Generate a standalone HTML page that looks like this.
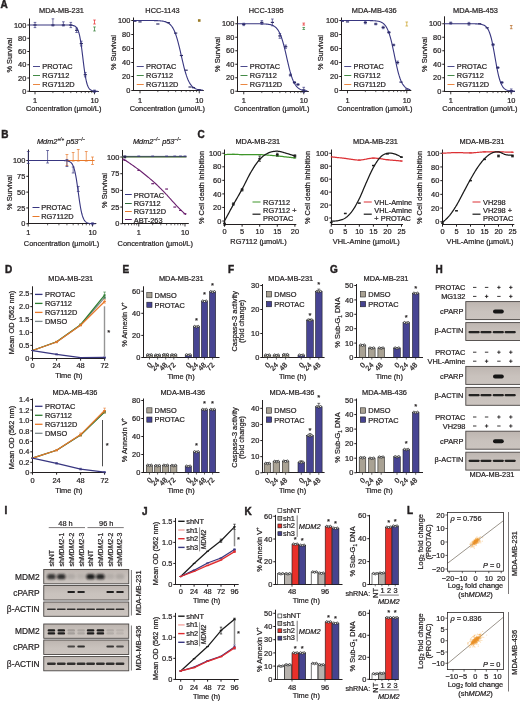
<!DOCTYPE html>
<html lang="en">
<head>
<meta charset="utf-8">
<title>Figure: MDM2 PROTAC in TNBC cells</title>
<style>
html,body{margin:0;padding:0;background:#fff;}
body{width:520px;height:701px;overflow:hidden;}
svg{display:block;font-family:"Liberation Sans",Arial,Helvetica,sans-serif;fill:#231f20;}
svg text{stroke:#231f20;stroke-width:0.22px;}
</style>
</head>
<body>
<svg width="520" height="701" viewBox="0 0 520 701">
<defs>
<linearGradient id="bg" x1="0" y1="0" x2="0" y2="1"><stop offset="0" stop-color="#bdb5b0"/><stop offset="0.55" stop-color="#c9c2bd"/><stop offset="1" stop-color="#cbc4bf"/></linearGradient>
<filter id="bl" x="-20%" y="-60%" width="140%" height="220%"><feGaussianBlur stdDeviation="0.45"/></filter>
<filter id="bl2" x="-20%" y="-60%" width="140%" height="220%"><feGaussianBlur stdDeviation="0.8"/></filter>
</defs>
<rect width="520" height="701" fill="#ffffff"/>
<g id="panelA">
<text x="0.6" y="7.8" font-size="10" font-weight="bold" style="stroke-width:0.45px">A</text>
<text x="61.5" y="12.6" font-size="7.4" text-anchor="middle">MDA-MB-231</text>
<line x1="29.5" y1="18.5" x2="29.5" y2="92" stroke="#231f20" stroke-width="1"/>
<line x1="27.3" y1="91.25" x2="29.5" y2="91.25" stroke="#231f20" stroke-width="1"/>
<text x="26.3" y="93.91" font-size="7.4" text-anchor="end">0</text>
<line x1="27.3" y1="78" x2="29.5" y2="78" stroke="#231f20" stroke-width="1"/>
<text x="26.3" y="80.66" font-size="7.4" text-anchor="end">20</text>
<line x1="27.3" y1="64.75" x2="29.5" y2="64.75" stroke="#231f20" stroke-width="1"/>
<text x="26.3" y="67.41" font-size="7.4" text-anchor="end">40</text>
<line x1="27.3" y1="51.5" x2="29.5" y2="51.5" stroke="#231f20" stroke-width="1"/>
<text x="26.3" y="54.16" font-size="7.4" text-anchor="end">60</text>
<line x1="27.3" y1="38.25" x2="29.5" y2="38.25" stroke="#231f20" stroke-width="1"/>
<text x="26.3" y="40.91" font-size="7.4" text-anchor="end">80</text>
<line x1="27.3" y1="25" x2="29.5" y2="25" stroke="#231f20" stroke-width="1"/>
<text x="26.3" y="27.66" font-size="7.4" text-anchor="end">100</text>
<line x1="29" y1="91.5" x2="98.8" y2="91.5" stroke="#231f20" stroke-width="1"/>
<line x1="52.91" y1="91.5" x2="52.91" y2="93.1" stroke="#231f20" stroke-width="0.7"/>
<line x1="63.39" y1="91.5" x2="63.39" y2="93.1" stroke="#231f20" stroke-width="0.7"/>
<line x1="70.82" y1="91.5" x2="70.82" y2="93.1" stroke="#231f20" stroke-width="0.7"/>
<line x1="76.59" y1="91.5" x2="76.59" y2="93.1" stroke="#231f20" stroke-width="0.7"/>
<line x1="81.3" y1="91.5" x2="81.3" y2="93.1" stroke="#231f20" stroke-width="0.7"/>
<line x1="85.28" y1="91.5" x2="85.28" y2="93.1" stroke="#231f20" stroke-width="0.7"/>
<line x1="88.73" y1="91.5" x2="88.73" y2="93.1" stroke="#231f20" stroke-width="0.7"/>
<line x1="91.78" y1="91.5" x2="91.78" y2="93.1" stroke="#231f20" stroke-width="0.7"/>
<line x1="35" y1="91.5" x2="35" y2="94.3" stroke="#231f20" stroke-width="0.9"/>
<text x="35" y="102.6" font-size="7.4" text-anchor="middle">1</text>
<line x1="94.5" y1="91.5" x2="94.5" y2="94.3" stroke="#231f20" stroke-width="0.9"/>
<text x="94.5" y="102.6" font-size="7.4" text-anchor="middle">10</text>
<text x="63.7" y="110.6" font-size="7.4" text-anchor="middle">Concentration (µmol/L)</text>
<text x="11.6" y="55.12" font-size="7.4" text-anchor="middle" transform="rotate(-90 11.6 55.12)">% Survival</text>
<polyline points="30,25 30.75,25 31.5,25 32.26,25 33.01,25 33.76,25 34.51,25 35.26,25 36.01,25 36.77,25 37.52,25 38.27,25 39.02,25 39.77,25 40.52,25 41.28,25 42.03,25 42.78,25 43.53,25 44.28,25 45.04,25 45.79,25 46.54,25 47.29,25 48.04,25 48.79,25 49.55,25 50.3,25 51.05,25 51.8,25 52.55,25 53.3,25 54.06,25 54.81,25 55.56,25 56.31,25 57.06,25 57.82,25 58.57,25 59.32,25 60.07,25 60.82,25 61.57,25 62.33,25 63.08,25 63.83,25 64.58,25.01 65.33,25.01 66.08,25.01 66.84,25.02 67.59,25.03 68.34,25.04 69.09,25.06 69.84,25.09 70.59,25.14 71.35,25.2 72.1,25.29 72.85,25.42 73.6,25.61 74.35,25.89 75.11,26.3 75.86,26.87 76.61,27.7 77.36,28.87 78.11,30.5 78.86,32.73 79.62,35.71 80.37,39.56 81.12,44.3 81.87,49.84 82.62,55.93 83.37,62.17 84.13,68.13 84.88,73.46 85.63,77.93 86.38,81.51 87.13,84.25 87.89,86.29 88.64,87.77 89.39,88.83 90.14,89.57 90.89,90.09 91.64,90.45 92.4,90.7 93.15,90.87 93.9,90.99 94.65,91.07 95.4,91.13 96.15,91.17 96.91,91.19 97.66,91.21" fill="none" stroke="#383680" stroke-width="1.1" stroke-linejoin="round" stroke-linecap="round"/>
<line x1="35" y1="22.4" x2="35" y2="27.6" stroke="#383680" stroke-width="0.7"/>
<line x1="33.7" y1="22.4" x2="36.3" y2="22.4" stroke="#383680" stroke-width="0.7"/>
<line x1="33.7" y1="27.6" x2="36.3" y2="27.6" stroke="#383680" stroke-width="0.7"/>
<line x1="33.4" y1="25" x2="36.6" y2="25" stroke="#2c2a66" stroke-width="1.2"/>
<line x1="52.91" y1="18.8" x2="52.91" y2="26" stroke="#383680" stroke-width="0.7"/>
<line x1="51.61" y1="18.8" x2="54.21" y2="18.8" stroke="#383680" stroke-width="0.7"/>
<line x1="51.61" y1="26" x2="54.21" y2="26" stroke="#383680" stroke-width="0.7"/>
<line x1="51.31" y1="25" x2="54.51" y2="25" stroke="#2c2a66" stroke-width="1.2"/>
<line x1="63.39" y1="21.8" x2="63.39" y2="26" stroke="#383680" stroke-width="0.7"/>
<line x1="62.09" y1="21.8" x2="64.69" y2="21.8" stroke="#383680" stroke-width="0.7"/>
<line x1="62.09" y1="26" x2="64.69" y2="26" stroke="#383680" stroke-width="0.7"/>
<line x1="61.79" y1="25" x2="64.99" y2="25" stroke="#2c2a66" stroke-width="1.2"/>
<line x1="70.82" y1="22.4" x2="70.82" y2="27.6" stroke="#383680" stroke-width="0.7"/>
<line x1="69.52" y1="22.4" x2="72.12" y2="22.4" stroke="#383680" stroke-width="0.7"/>
<line x1="69.52" y1="27.6" x2="72.12" y2="27.6" stroke="#383680" stroke-width="0.7"/>
<line x1="69.22" y1="25" x2="72.42" y2="25" stroke="#2c2a66" stroke-width="1.2"/>
<line x1="76.59" y1="28.1" x2="76.59" y2="32.5" stroke="#383680" stroke-width="0.7"/>
<line x1="75.29" y1="28.1" x2="77.89" y2="28.1" stroke="#383680" stroke-width="0.7"/>
<line x1="75.29" y1="32.5" x2="77.89" y2="32.5" stroke="#383680" stroke-width="0.7"/>
<line x1="74.99" y1="30.3" x2="78.19" y2="30.3" stroke="#2c2a66" stroke-width="1.2"/>
<line x1="81.3" y1="41.15" x2="81.3" y2="45.95" stroke="#383680" stroke-width="0.7"/>
<line x1="80" y1="41.15" x2="82.6" y2="41.15" stroke="#383680" stroke-width="0.7"/>
<line x1="80" y1="45.95" x2="82.6" y2="45.95" stroke="#383680" stroke-width="0.7"/>
<line x1="79.7" y1="43.55" x2="82.9" y2="43.55" stroke="#2c2a66" stroke-width="1.2"/>
<line x1="85.28" y1="72.49" x2="85.28" y2="76.89" stroke="#383680" stroke-width="0.7"/>
<line x1="83.98" y1="72.49" x2="86.58" y2="72.49" stroke="#383680" stroke-width="0.7"/>
<line x1="83.98" y1="76.89" x2="86.58" y2="76.89" stroke="#383680" stroke-width="0.7"/>
<line x1="83.68" y1="74.69" x2="86.88" y2="74.69" stroke="#2c2a66" stroke-width="1.2"/>
<line x1="94.5" y1="90.05" x2="94.5" y2="92.45" stroke="#383680" stroke-width="0.7"/>
<line x1="93.2" y1="90.05" x2="95.8" y2="90.05" stroke="#383680" stroke-width="0.7"/>
<line x1="93.2" y1="92.45" x2="95.8" y2="92.45" stroke="#383680" stroke-width="0.7"/>
<line x1="92.9" y1="91.25" x2="96.1" y2="91.25" stroke="#2c2a66" stroke-width="1.2"/>
<line x1="94.5" y1="20.02" x2="94.5" y2="24.02" stroke="#e8262a" stroke-width="0.7"/>
<line x1="93.2" y1="20.02" x2="95.8" y2="20.02" stroke="#e8262a" stroke-width="0.7"/>
<line x1="93.2" y1="24.02" x2="95.8" y2="24.02" stroke="#e8262a" stroke-width="0.7"/>
<line x1="94.5" y1="26.98" x2="94.5" y2="30.98" stroke="#2e7d32" stroke-width="0.7"/>
<line x1="93.2" y1="26.98" x2="95.8" y2="26.98" stroke="#2e7d32" stroke-width="0.7"/>
<line x1="93.2" y1="30.98" x2="95.8" y2="30.98" stroke="#2e7d32" stroke-width="0.7"/>
<line x1="33" y1="66.5" x2="40" y2="66.5" stroke="#383680" stroke-width="0.9"/>
<text x="42.3" y="69.2" font-size="7.4">PROTAC</text>
<line x1="33" y1="75.5" x2="40" y2="75.5" stroke="#2e7d32" stroke-width="0.9"/>
<text x="42.3" y="78.25" font-size="7.4">RG7112</text>
<line x1="33" y1="84.5" x2="40" y2="84.5" stroke="#e8792b" stroke-width="0.9"/>
<text x="42.3" y="87.3" font-size="7.4">RG7112D</text>
<text x="162.5" y="12.6" font-size="7.4" text-anchor="middle">HCC-1143</text>
<line x1="133.5" y1="17.5" x2="133.5" y2="91" stroke="#231f20" stroke-width="1"/>
<line x1="131.3" y1="90.5" x2="133.5" y2="90.5" stroke="#231f20" stroke-width="1"/>
<text x="130.3" y="93.16" font-size="7.4" text-anchor="end">0</text>
<line x1="131.3" y1="76.5" x2="133.5" y2="76.5" stroke="#231f20" stroke-width="1"/>
<text x="130.3" y="79.16" font-size="7.4" text-anchor="end">20</text>
<line x1="131.3" y1="62.5" x2="133.5" y2="62.5" stroke="#231f20" stroke-width="1"/>
<text x="130.3" y="65.16" font-size="7.4" text-anchor="end">40</text>
<line x1="131.3" y1="48.5" x2="133.5" y2="48.5" stroke="#231f20" stroke-width="1"/>
<text x="130.3" y="51.16" font-size="7.4" text-anchor="end">60</text>
<line x1="131.3" y1="34.5" x2="133.5" y2="34.5" stroke="#231f20" stroke-width="1"/>
<text x="130.3" y="37.16" font-size="7.4" text-anchor="end">80</text>
<line x1="131.3" y1="20.5" x2="133.5" y2="20.5" stroke="#231f20" stroke-width="1"/>
<text x="130.3" y="23.16" font-size="7.4" text-anchor="end">100</text>
<line x1="133" y1="90.5" x2="203.8" y2="90.5" stroke="#231f20" stroke-width="1"/>
<line x1="157.84" y1="90.5" x2="157.84" y2="92.1" stroke="#231f20" stroke-width="0.7"/>
<line x1="168.27" y1="90.5" x2="168.27" y2="92.1" stroke="#231f20" stroke-width="0.7"/>
<line x1="175.67" y1="90.5" x2="175.67" y2="92.1" stroke="#231f20" stroke-width="0.7"/>
<line x1="181.41" y1="90.5" x2="181.41" y2="92.1" stroke="#231f20" stroke-width="0.7"/>
<line x1="186.11" y1="90.5" x2="186.11" y2="92.1" stroke="#231f20" stroke-width="0.7"/>
<line x1="190.07" y1="90.5" x2="190.07" y2="92.1" stroke="#231f20" stroke-width="0.7"/>
<line x1="193.51" y1="90.5" x2="193.51" y2="92.1" stroke="#231f20" stroke-width="0.7"/>
<line x1="196.54" y1="90.5" x2="196.54" y2="92.1" stroke="#231f20" stroke-width="0.7"/>
<line x1="140" y1="90.5" x2="140" y2="93.3" stroke="#231f20" stroke-width="0.9"/>
<text x="140" y="102.6" font-size="7.4" text-anchor="middle">1</text>
<line x1="199.25" y1="90.5" x2="199.25" y2="93.3" stroke="#231f20" stroke-width="0.9"/>
<text x="199.25" y="102.6" font-size="7.4" text-anchor="middle">10</text>
<text x="167.3" y="110.6" font-size="7.4" text-anchor="middle">Concentration (µmol/L)</text>
<text x="115.9" y="52.5" font-size="7.4" text-anchor="middle" transform="rotate(-90 115.9 52.5)">% Survival</text>
<polyline points="133.75,20.5 134.51,20.5 135.28,20.5 136.04,20.5 136.8,20.5 137.56,20.5 138.33,20.5 139.09,20.5 139.85,20.5 140.61,20.5 141.38,20.5 142.14,20.5 142.9,20.5 143.67,20.51 144.43,20.51 145.19,20.51 145.95,20.51 146.72,20.51 147.48,20.51 148.24,20.52 149,20.52 149.77,20.52 150.53,20.53 151.29,20.54 152.06,20.54 152.82,20.55 153.58,20.56 154.34,20.58 155.11,20.59 155.87,20.61 156.63,20.64 157.39,20.67 158.16,20.7 158.92,20.75 159.68,20.8 160.45,20.86 161.21,20.94 161.97,21.03 162.73,21.14 163.5,21.28 164.26,21.44 165.02,21.64 165.78,21.88 166.55,22.16 167.31,22.51 168.07,22.92 168.84,23.41 169.6,24 170.36,24.69 171.12,25.52 171.89,26.5 172.65,27.64 173.41,28.97 174.17,30.52 174.94,32.29 175.7,34.3 176.46,36.56 177.23,39.07 177.99,41.81 178.75,44.77 179.51,47.91 180.28,51.18 181.04,54.53 181.8,57.89 182.56,61.22 183.33,64.44 184.09,67.51 184.85,70.38 185.62,73.02 186.38,75.43 187.14,77.58 187.9,79.49 188.67,81.16 189.43,82.61 190.19,83.86 190.95,84.93 191.72,85.84 192.48,86.62 193.24,87.26 194,87.81 194.77,88.27 195.53,88.65 196.29,88.96 197.06,89.23 197.82,89.45 198.58,89.63 199.34,89.78 200.11,89.91 200.87,90.01 201.63,90.09 202.39,90.17" fill="none" stroke="#383680" stroke-width="1.1" stroke-linejoin="round" stroke-linecap="round"/>
<line x1="133.29" y1="21.2" x2="136.49" y2="21.2" stroke="#2c2a66" stroke-width="1.2"/>
<line x1="138.4" y1="21.9" x2="141.6" y2="21.9" stroke="#2c2a66" stroke-width="1.2"/>
<line x1="156.24" y1="24" x2="159.44" y2="24" stroke="#2c2a66" stroke-width="1.2"/>
<line x1="166.67" y1="22.6" x2="169.87" y2="22.6" stroke="#2c2a66" stroke-width="1.2"/>
<line x1="174.07" y1="33.1" x2="177.27" y2="33.1" stroke="#2c2a66" stroke-width="1.2"/>
<line x1="179.81" y1="55.5" x2="183.01" y2="55.5" stroke="#2c2a66" stroke-width="1.2"/>
<line x1="184.51" y1="70.2" x2="187.71" y2="70.2" stroke="#2c2a66" stroke-width="1.2"/>
<line x1="188.47" y1="87" x2="191.67" y2="87" stroke="#2c2a66" stroke-width="1.2"/>
<line x1="191.91" y1="87.7" x2="195.11" y2="87.7" stroke="#2c2a66" stroke-width="1.2"/>
<line x1="197.65" y1="89.8" x2="200.85" y2="89.8" stroke="#2c2a66" stroke-width="1.2"/>
<rect x="197.95" y="19.2" width="2.6" height="2.6" fill="#9a7a25"/>
<line x1="136.75" y1="66.5" x2="143.75" y2="66.5" stroke="#383680" stroke-width="0.9"/>
<text x="146.05" y="69.2" font-size="7.4">PROTAC</text>
<line x1="136.75" y1="75.5" x2="143.75" y2="75.5" stroke="#2e7d32" stroke-width="0.9"/>
<text x="146.05" y="78.25" font-size="7.4">RG7112</text>
<line x1="136.75" y1="84.5" x2="143.75" y2="84.5" stroke="#e8792b" stroke-width="0.9"/>
<text x="146.05" y="87.3" font-size="7.4">RG7112D</text>
<text x="266.25" y="12.6" font-size="7.4" text-anchor="middle">HCC-1395</text>
<line x1="237.5" y1="16.3" x2="237.5" y2="92" stroke="#231f20" stroke-width="1"/>
<line x1="235.3" y1="91.25" x2="237.5" y2="91.25" stroke="#231f20" stroke-width="1"/>
<text x="234.3" y="93.91" font-size="7.4" text-anchor="end">0</text>
<line x1="235.3" y1="77.75" x2="237.5" y2="77.75" stroke="#231f20" stroke-width="1"/>
<text x="234.3" y="80.41" font-size="7.4" text-anchor="end">20</text>
<line x1="235.3" y1="64.25" x2="237.5" y2="64.25" stroke="#231f20" stroke-width="1"/>
<text x="234.3" y="66.91" font-size="7.4" text-anchor="end">40</text>
<line x1="235.3" y1="50.75" x2="237.5" y2="50.75" stroke="#231f20" stroke-width="1"/>
<text x="234.3" y="53.41" font-size="7.4" text-anchor="end">60</text>
<line x1="235.3" y1="37.25" x2="237.5" y2="37.25" stroke="#231f20" stroke-width="1"/>
<text x="234.3" y="39.91" font-size="7.4" text-anchor="end">80</text>
<line x1="235.3" y1="23.75" x2="237.5" y2="23.75" stroke="#231f20" stroke-width="1"/>
<text x="234.3" y="26.41" font-size="7.4" text-anchor="end">100</text>
<line x1="237" y1="91.5" x2="308.8" y2="91.5" stroke="#231f20" stroke-width="1"/>
<line x1="261.81" y1="91.5" x2="261.81" y2="93.1" stroke="#231f20" stroke-width="0.7"/>
<line x1="272.38" y1="91.5" x2="272.38" y2="93.1" stroke="#231f20" stroke-width="0.7"/>
<line x1="279.87" y1="91.5" x2="279.87" y2="93.1" stroke="#231f20" stroke-width="0.7"/>
<line x1="285.69" y1="91.5" x2="285.69" y2="93.1" stroke="#231f20" stroke-width="0.7"/>
<line x1="290.44" y1="91.5" x2="290.44" y2="93.1" stroke="#231f20" stroke-width="0.7"/>
<line x1="294.46" y1="91.5" x2="294.46" y2="93.1" stroke="#231f20" stroke-width="0.7"/>
<line x1="297.94" y1="91.5" x2="297.94" y2="93.1" stroke="#231f20" stroke-width="0.7"/>
<line x1="301" y1="91.5" x2="301" y2="93.1" stroke="#231f20" stroke-width="0.7"/>
<line x1="243.75" y1="91.5" x2="243.75" y2="94.3" stroke="#231f20" stroke-width="0.9"/>
<text x="243.75" y="102.6" font-size="7.4" text-anchor="middle">1</text>
<line x1="303.75" y1="91.5" x2="303.75" y2="94.3" stroke="#231f20" stroke-width="0.9"/>
<text x="303.75" y="102.6" font-size="7.4" text-anchor="middle">10</text>
<text x="271.8" y="110.6" font-size="7.4" text-anchor="middle">Concentration (µmol/L)</text>
<text x="220" y="54.5" font-size="7.4" text-anchor="middle" transform="rotate(-90 220 54.5)">% Survival</text>
<polyline points="238,23.75 238.77,23.75 239.53,23.75 240.3,23.75 241.06,23.75 241.83,23.75 242.6,23.75 243.36,23.75 244.13,23.75 244.89,23.75 245.66,23.75 246.43,23.75 247.19,23.75 247.96,23.75 248.72,23.75 249.49,23.75 250.26,23.75 251.02,23.76 251.79,23.76 252.55,23.76 253.32,23.76 254.08,23.76 254.85,23.77 255.62,23.77 256.38,23.77 257.15,23.78 257.91,23.79 258.68,23.79 259.45,23.8 260.21,23.82 260.98,23.83 261.74,23.85 262.51,23.87 263.28,23.9 264.04,23.93 264.81,23.97 265.57,24.02 266.34,24.08 267.11,24.15 267.87,24.24 268.64,24.35 269.4,24.48 270.17,24.64 270.94,24.83 271.7,25.07 272.47,25.35 273.23,25.7 274,26.11 274.77,26.61 275.53,27.21 276.3,27.93 277.06,28.79 277.83,29.8 278.59,31 279.36,32.4 280.13,34.02 280.89,35.88 281.66,38 282.42,40.38 283.19,43.01 283.96,45.87 284.72,48.94 285.49,52.16 286.25,55.49 287.02,58.86 287.79,62.21 288.55,65.46 289.32,68.56 290.08,71.47 290.85,74.14 291.62,76.57 292.38,78.73 293.15,80.65 293.91,82.31 294.68,83.75 295.45,84.98 296.21,86.03 296.98,86.92 297.74,87.66 298.51,88.28 299.28,88.8 300.04,89.23 300.81,89.59 301.57,89.88 302.34,90.13 303.11,90.33 303.87,90.49 304.64,90.63 305.4,90.74 306.17,90.83 306.93,90.91" fill="none" stroke="#383680" stroke-width="1.1" stroke-linejoin="round" stroke-linecap="round"/>
<line x1="243.75" y1="23.22" x2="243.75" y2="25.62" stroke="#383680" stroke-width="0.7"/>
<line x1="242.45" y1="23.22" x2="245.05" y2="23.22" stroke="#383680" stroke-width="0.7"/>
<line x1="242.45" y1="25.62" x2="245.05" y2="25.62" stroke="#383680" stroke-width="0.7"/>
<line x1="242.15" y1="24.42" x2="245.35" y2="24.42" stroke="#2c2a66" stroke-width="1.2"/>
<line x1="261.81" y1="20.6" x2="261.81" y2="24.2" stroke="#383680" stroke-width="0.7"/>
<line x1="260.51" y1="20.6" x2="263.11" y2="20.6" stroke="#383680" stroke-width="0.7"/>
<line x1="260.51" y1="24.2" x2="263.11" y2="24.2" stroke="#383680" stroke-width="0.7"/>
<line x1="260.21" y1="22.4" x2="263.41" y2="22.4" stroke="#2c2a66" stroke-width="1.2"/>
<line x1="272.38" y1="19" x2="272.38" y2="25.8" stroke="#383680" stroke-width="0.7"/>
<line x1="271.08" y1="19" x2="273.68" y2="19" stroke="#383680" stroke-width="0.7"/>
<line x1="271.08" y1="25.8" x2="273.68" y2="25.8" stroke="#383680" stroke-width="0.7"/>
<line x1="270.78" y1="22.4" x2="273.98" y2="22.4" stroke="#2c2a66" stroke-width="1.2"/>
<line x1="279.87" y1="33.5" x2="279.87" y2="38.3" stroke="#383680" stroke-width="0.7"/>
<line x1="278.57" y1="33.5" x2="281.17" y2="33.5" stroke="#383680" stroke-width="0.7"/>
<line x1="278.57" y1="38.3" x2="281.17" y2="38.3" stroke="#383680" stroke-width="0.7"/>
<line x1="278.27" y1="35.9" x2="281.47" y2="35.9" stroke="#2c2a66" stroke-width="1.2"/>
<line x1="285.69" y1="45.1" x2="285.69" y2="48.3" stroke="#383680" stroke-width="0.7"/>
<line x1="284.39" y1="45.1" x2="286.99" y2="45.1" stroke="#383680" stroke-width="0.7"/>
<line x1="284.39" y1="48.3" x2="286.99" y2="48.3" stroke="#383680" stroke-width="0.7"/>
<line x1="284.09" y1="46.7" x2="287.29" y2="46.7" stroke="#2c2a66" stroke-width="1.2"/>
<line x1="290.44" y1="74.05" x2="290.44" y2="76.05" stroke="#383680" stroke-width="0.7"/>
<line x1="289.14" y1="74.05" x2="291.74" y2="74.05" stroke="#383680" stroke-width="0.7"/>
<line x1="289.14" y1="76.05" x2="291.74" y2="76.05" stroke="#383680" stroke-width="0.7"/>
<line x1="288.84" y1="75.05" x2="292.04" y2="75.05" stroke="#2c2a66" stroke-width="1.2"/>
<line x1="294.46" y1="81.67" x2="294.46" y2="83.27" stroke="#383680" stroke-width="0.7"/>
<line x1="293.16" y1="81.67" x2="295.76" y2="81.67" stroke="#383680" stroke-width="0.7"/>
<line x1="293.16" y1="83.27" x2="295.76" y2="83.27" stroke="#383680" stroke-width="0.7"/>
<line x1="292.86" y1="82.47" x2="296.06" y2="82.47" stroke="#2c2a66" stroke-width="1.2"/>
<line x1="297.94" y1="83.7" x2="297.94" y2="85.3" stroke="#383680" stroke-width="0.7"/>
<line x1="296.64" y1="83.7" x2="299.24" y2="83.7" stroke="#383680" stroke-width="0.7"/>
<line x1="296.64" y1="85.3" x2="299.24" y2="85.3" stroke="#383680" stroke-width="0.7"/>
<line x1="296.34" y1="84.5" x2="299.54" y2="84.5" stroke="#2c2a66" stroke-width="1.2"/>
<line x1="303.75" y1="87.3" x2="303.75" y2="92.5" stroke="#383680" stroke-width="0.7"/>
<line x1="302.45" y1="87.3" x2="305.05" y2="87.3" stroke="#383680" stroke-width="0.7"/>
<line x1="302.45" y1="92.5" x2="305.05" y2="92.5" stroke="#383680" stroke-width="0.7"/>
<line x1="302.15" y1="89.9" x2="305.35" y2="89.9" stroke="#2c2a66" stroke-width="1.2"/>
<line x1="303.75" y1="23.09" x2="303.75" y2="25.09" stroke="#e8262a" stroke-width="0.7"/>
<line x1="302.45" y1="23.09" x2="305.05" y2="23.09" stroke="#e8262a" stroke-width="0.7"/>
<line x1="302.45" y1="25.09" x2="305.05" y2="25.09" stroke="#e8262a" stroke-width="0.7"/>
<line x1="303.75" y1="27.48" x2="303.75" y2="29.48" stroke="#2e7d32" stroke-width="0.7"/>
<line x1="302.45" y1="27.48" x2="305.05" y2="27.48" stroke="#2e7d32" stroke-width="0.7"/>
<line x1="302.45" y1="29.48" x2="305.05" y2="29.48" stroke="#2e7d32" stroke-width="0.7"/>
<line x1="240.5" y1="66.5" x2="247.5" y2="66.5" stroke="#383680" stroke-width="0.9"/>
<text x="249.8" y="69.2" font-size="7.4">PROTAC</text>
<line x1="240.5" y1="75.5" x2="247.5" y2="75.5" stroke="#2e7d32" stroke-width="0.9"/>
<text x="249.8" y="78.25" font-size="7.4">RG7112</text>
<line x1="240.5" y1="84.5" x2="247.5" y2="84.5" stroke="#e8792b" stroke-width="0.9"/>
<text x="249.8" y="87.3" font-size="7.4">RG7112D</text>
<text x="374.25" y="12.6" font-size="7.4" text-anchor="middle">MDA-MB-436</text>
<line x1="341.5" y1="17.5" x2="341.5" y2="91" stroke="#231f20" stroke-width="1"/>
<line x1="339.3" y1="90.5" x2="341.5" y2="90.5" stroke="#231f20" stroke-width="1"/>
<text x="338.3" y="93.16" font-size="7.4" text-anchor="end">0</text>
<line x1="339.3" y1="76.5" x2="341.5" y2="76.5" stroke="#231f20" stroke-width="1"/>
<text x="338.3" y="79.16" font-size="7.4" text-anchor="end">20</text>
<line x1="339.3" y1="62.5" x2="341.5" y2="62.5" stroke="#231f20" stroke-width="1"/>
<text x="338.3" y="65.16" font-size="7.4" text-anchor="end">40</text>
<line x1="339.3" y1="48.5" x2="341.5" y2="48.5" stroke="#231f20" stroke-width="1"/>
<text x="338.3" y="51.16" font-size="7.4" text-anchor="end">60</text>
<line x1="339.3" y1="34.5" x2="341.5" y2="34.5" stroke="#231f20" stroke-width="1"/>
<text x="338.3" y="37.16" font-size="7.4" text-anchor="end">80</text>
<line x1="339.3" y1="20.5" x2="341.5" y2="20.5" stroke="#231f20" stroke-width="1"/>
<text x="338.3" y="23.16" font-size="7.4" text-anchor="end">100</text>
<line x1="341" y1="90.5" x2="411.3" y2="90.5" stroke="#231f20" stroke-width="1"/>
<line x1="365.34" y1="90.5" x2="365.34" y2="92.1" stroke="#231f20" stroke-width="0.7"/>
<line x1="375.77" y1="90.5" x2="375.77" y2="92.1" stroke="#231f20" stroke-width="0.7"/>
<line x1="383.17" y1="90.5" x2="383.17" y2="92.1" stroke="#231f20" stroke-width="0.7"/>
<line x1="388.91" y1="90.5" x2="388.91" y2="92.1" stroke="#231f20" stroke-width="0.7"/>
<line x1="393.61" y1="90.5" x2="393.61" y2="92.1" stroke="#231f20" stroke-width="0.7"/>
<line x1="397.57" y1="90.5" x2="397.57" y2="92.1" stroke="#231f20" stroke-width="0.7"/>
<line x1="401.01" y1="90.5" x2="401.01" y2="92.1" stroke="#231f20" stroke-width="0.7"/>
<line x1="404.04" y1="90.5" x2="404.04" y2="92.1" stroke="#231f20" stroke-width="0.7"/>
<line x1="347.5" y1="90.5" x2="347.5" y2="93.3" stroke="#231f20" stroke-width="0.9"/>
<text x="347.5" y="102.6" font-size="7.4" text-anchor="middle">1</text>
<line x1="406.75" y1="90.5" x2="406.75" y2="93.3" stroke="#231f20" stroke-width="0.9"/>
<text x="406.75" y="102.6" font-size="7.4" text-anchor="middle">10</text>
<text x="374.8" y="110.6" font-size="7.4" text-anchor="middle">Concentration (µmol/L)</text>
<text x="323.3" y="52.5" font-size="7.4" text-anchor="middle" transform="rotate(-90 323.3 52.5)">% Survival</text>
<polyline points="341.25,20.5 342.01,20.5 342.78,20.5 343.54,20.5 344.3,20.5 345.06,20.5 345.83,20.5 346.59,20.5 347.35,20.5 348.11,20.5 348.88,20.5 349.64,20.5 350.4,20.5 351.17,20.5 351.93,20.5 352.69,20.5 353.45,20.5 354.22,20.5 354.98,20.5 355.74,20.5 356.5,20.5 357.27,20.5 358.03,20.5 358.79,20.5 359.56,20.5 360.32,20.5 361.08,20.51 361.84,20.51 362.61,20.51 363.37,20.51 364.13,20.51 364.89,20.52 365.66,20.52 366.42,20.53 367.18,20.53 367.95,20.54 368.71,20.55 369.47,20.56 370.23,20.58 371,20.6 371.76,20.62 372.52,20.65 373.28,20.69 374.05,20.73 374.81,20.79 375.57,20.85 376.34,20.94 377.1,21.04 377.86,21.17 378.62,21.33 379.39,21.52 380.15,21.76 380.91,22.05 381.67,22.41 382.44,22.85 383.2,23.38 383.96,24.03 384.73,24.82 385.49,25.77 386.25,26.91 387.01,28.27 387.78,29.87 388.54,31.74 389.3,33.9 390.06,36.37 390.83,39.14 391.59,42.2 392.35,45.52 393.12,49.04 393.88,52.71 394.64,56.44 395.4,60.14 396.17,63.75 396.93,67.18 397.69,70.37 398.45,73.29 399.22,75.91 399.98,78.22 400.74,80.23 401.5,81.96 402.27,83.44 403.03,84.68 403.79,85.73 404.56,86.59 405.32,87.31 406.08,87.9 406.84,88.38 407.61,88.78 408.37,89.1 409.13,89.37 409.89,89.58" fill="none" stroke="#383680" stroke-width="1.1" stroke-linejoin="round" stroke-linecap="round"/>
<line x1="340.79" y1="21.2" x2="343.99" y2="21.2" stroke="#2c2a66" stroke-width="1.2"/>
<line x1="345.9" y1="21.9" x2="349.1" y2="21.9" stroke="#2c2a66" stroke-width="1.2"/>
<line x1="365.34" y1="21.4" x2="365.34" y2="23.8" stroke="#383680" stroke-width="0.7"/>
<line x1="364.04" y1="21.4" x2="366.64" y2="21.4" stroke="#383680" stroke-width="0.7"/>
<line x1="364.04" y1="23.8" x2="366.64" y2="23.8" stroke="#383680" stroke-width="0.7"/>
<line x1="363.74" y1="22.6" x2="366.94" y2="22.6" stroke="#2c2a66" stroke-width="1.2"/>
<line x1="375.77" y1="23.2" x2="375.77" y2="24.8" stroke="#383680" stroke-width="0.7"/>
<line x1="374.47" y1="23.2" x2="377.07" y2="23.2" stroke="#383680" stroke-width="0.7"/>
<line x1="374.47" y1="24.8" x2="377.07" y2="24.8" stroke="#383680" stroke-width="0.7"/>
<line x1="374.17" y1="24" x2="377.37" y2="24" stroke="#2c2a66" stroke-width="1.2"/>
<line x1="383.17" y1="26.3" x2="383.17" y2="28.7" stroke="#383680" stroke-width="0.7"/>
<line x1="381.87" y1="26.3" x2="384.47" y2="26.3" stroke="#383680" stroke-width="0.7"/>
<line x1="381.87" y1="28.7" x2="384.47" y2="28.7" stroke="#383680" stroke-width="0.7"/>
<line x1="381.57" y1="27.5" x2="384.77" y2="27.5" stroke="#2c2a66" stroke-width="1.2"/>
<line x1="388.91" y1="31.6" x2="388.91" y2="33.2" stroke="#383680" stroke-width="0.7"/>
<line x1="387.61" y1="31.6" x2="390.21" y2="31.6" stroke="#383680" stroke-width="0.7"/>
<line x1="387.61" y1="33.2" x2="390.21" y2="33.2" stroke="#383680" stroke-width="0.7"/>
<line x1="387.31" y1="32.4" x2="390.51" y2="32.4" stroke="#2c2a66" stroke-width="1.2"/>
<line x1="393.61" y1="44.2" x2="393.61" y2="45.8" stroke="#383680" stroke-width="0.7"/>
<line x1="392.31" y1="44.2" x2="394.91" y2="44.2" stroke="#383680" stroke-width="0.7"/>
<line x1="392.31" y1="45.8" x2="394.91" y2="45.8" stroke="#383680" stroke-width="0.7"/>
<line x1="392.01" y1="45" x2="395.21" y2="45" stroke="#2c2a66" stroke-width="1.2"/>
<line x1="397.57" y1="61.1" x2="397.57" y2="63.9" stroke="#383680" stroke-width="0.7"/>
<line x1="396.27" y1="61.1" x2="398.87" y2="61.1" stroke="#383680" stroke-width="0.7"/>
<line x1="396.27" y1="63.9" x2="398.87" y2="63.9" stroke="#383680" stroke-width="0.7"/>
<line x1="395.97" y1="62.5" x2="399.17" y2="62.5" stroke="#2c2a66" stroke-width="1.2"/>
<line x1="399.41" y1="82.1" x2="402.61" y2="82.1" stroke="#2c2a66" stroke-width="1.2"/>
<line x1="405.15" y1="89.1" x2="408.35" y2="89.1" stroke="#2c2a66" stroke-width="1.2"/>
<line x1="406.75" y1="22" x2="406.75" y2="26" stroke="#c9a227" stroke-width="0.7"/>
<line x1="405.45" y1="22" x2="408.05" y2="22" stroke="#c9a227" stroke-width="0.7"/>
<line x1="405.45" y1="26" x2="408.05" y2="26" stroke="#c9a227" stroke-width="0.7"/>
<line x1="344.25" y1="66.5" x2="351.25" y2="66.5" stroke="#383680" stroke-width="0.9"/>
<text x="353.55" y="69.2" font-size="7.4">PROTAC</text>
<line x1="344.25" y1="75.5" x2="351.25" y2="75.5" stroke="#2e7d32" stroke-width="0.9"/>
<text x="353.55" y="78.25" font-size="7.4">RG7112</text>
<line x1="344.25" y1="84.5" x2="351.25" y2="84.5" stroke="#e8792b" stroke-width="0.9"/>
<text x="353.55" y="87.3" font-size="7.4">RG7112D</text>
<text x="475.5" y="12.6" font-size="7.4" text-anchor="middle">MDA-MB-453</text>
<line x1="444.5" y1="16.3" x2="444.5" y2="92" stroke="#231f20" stroke-width="1"/>
<line x1="442.3" y1="91.25" x2="444.5" y2="91.25" stroke="#231f20" stroke-width="1"/>
<text x="441.3" y="93.91" font-size="7.4" text-anchor="end">0</text>
<line x1="442.3" y1="77.75" x2="444.5" y2="77.75" stroke="#231f20" stroke-width="1"/>
<text x="441.3" y="80.41" font-size="7.4" text-anchor="end">20</text>
<line x1="442.3" y1="64.25" x2="444.5" y2="64.25" stroke="#231f20" stroke-width="1"/>
<text x="441.3" y="66.91" font-size="7.4" text-anchor="end">40</text>
<line x1="442.3" y1="50.75" x2="444.5" y2="50.75" stroke="#231f20" stroke-width="1"/>
<text x="441.3" y="53.41" font-size="7.4" text-anchor="end">60</text>
<line x1="442.3" y1="37.25" x2="444.5" y2="37.25" stroke="#231f20" stroke-width="1"/>
<text x="441.3" y="39.91" font-size="7.4" text-anchor="end">80</text>
<line x1="442.3" y1="23.75" x2="444.5" y2="23.75" stroke="#231f20" stroke-width="1"/>
<text x="441.3" y="26.41" font-size="7.4" text-anchor="end">100</text>
<line x1="444" y1="91.5" x2="515" y2="91.5" stroke="#231f20" stroke-width="1"/>
<line x1="468.96" y1="91.5" x2="468.96" y2="93.1" stroke="#231f20" stroke-width="0.7"/>
<line x1="479.62" y1="91.5" x2="479.62" y2="93.1" stroke="#231f20" stroke-width="0.7"/>
<line x1="487.17" y1="91.5" x2="487.17" y2="93.1" stroke="#231f20" stroke-width="0.7"/>
<line x1="493.04" y1="91.5" x2="493.04" y2="93.1" stroke="#231f20" stroke-width="0.7"/>
<line x1="497.83" y1="91.5" x2="497.83" y2="93.1" stroke="#231f20" stroke-width="0.7"/>
<line x1="501.88" y1="91.5" x2="501.88" y2="93.1" stroke="#231f20" stroke-width="0.7"/>
<line x1="505.39" y1="91.5" x2="505.39" y2="93.1" stroke="#231f20" stroke-width="0.7"/>
<line x1="508.48" y1="91.5" x2="508.48" y2="93.1" stroke="#231f20" stroke-width="0.7"/>
<line x1="450.75" y1="91.5" x2="450.75" y2="94.3" stroke="#231f20" stroke-width="0.9"/>
<text x="450.75" y="102.6" font-size="7.4" text-anchor="middle">1</text>
<line x1="511.25" y1="91.5" x2="511.25" y2="94.3" stroke="#231f20" stroke-width="0.9"/>
<text x="511.25" y="102.6" font-size="7.4" text-anchor="middle">10</text>
<text x="479.8" y="110.6" font-size="7.4" text-anchor="middle">Concentration (µmol/L)</text>
<text x="426.5" y="54.5" font-size="7.4" text-anchor="middle" transform="rotate(-90 426.5 54.5)">% Survival</text>
<polyline points="444.5,23.75 445.28,23.75 446.05,23.75 446.83,23.75 447.61,23.75 448.39,23.75 449.16,23.75 449.94,23.75 450.72,23.75 451.5,23.75 452.27,23.75 453.05,23.75 453.83,23.75 454.61,23.75 455.38,23.75 456.16,23.75 456.94,23.75 457.71,23.75 458.49,23.75 459.27,23.75 460.05,23.75 460.82,23.75 461.6,23.75 462.38,23.75 463.16,23.75 463.93,23.75 464.71,23.75 465.49,23.75 466.27,23.75 467.04,23.75 467.82,23.76 468.6,23.76 469.38,23.76 470.15,23.76 470.93,23.77 471.71,23.77 472.48,23.78 473.26,23.79 474.04,23.8 474.82,23.82 475.59,23.84 476.37,23.86 477.15,23.9 477.93,23.94 478.7,24 479.48,24.07 480.26,24.17 481.04,24.3 481.81,24.46 482.59,24.68 483.37,24.96 484.14,25.32 484.92,25.78 485.7,26.38 486.48,27.14 487.25,28.11 488.03,29.33 488.81,30.85 489.59,32.73 490.36,35.01 491.14,37.73 491.92,40.91 492.7,44.53 493.47,48.55 494.25,52.85 495.03,57.31 495.8,61.78 496.58,66.11 497.36,70.15 498.14,73.8 498.91,77.02 499.69,79.78 500.47,82.1 501.25,84.01 502.02,85.56 502.8,86.8 503.58,87.79 504.36,88.57 505.13,89.17 505.91,89.65 506.69,90.02 507.47,90.3 508.24,90.52 509.02,90.69 509.8,90.82 510.57,90.92 511.35,91 512.13,91.06 512.91,91.1 513.68,91.14 514.46,91.16" fill="none" stroke="#383680" stroke-width="1.1" stroke-linejoin="round" stroke-linecap="round"/>
<line x1="450.75" y1="22.08" x2="450.75" y2="24.08" stroke="#383680" stroke-width="0.7"/>
<line x1="449.45" y1="22.08" x2="452.05" y2="22.08" stroke="#383680" stroke-width="0.7"/>
<line x1="449.45" y1="24.08" x2="452.05" y2="24.08" stroke="#383680" stroke-width="0.7"/>
<line x1="449.15" y1="23.08" x2="452.35" y2="23.08" stroke="#2c2a66" stroke-width="1.2"/>
<line x1="468.96" y1="22.35" x2="468.96" y2="25.15" stroke="#383680" stroke-width="0.7"/>
<line x1="467.66" y1="22.35" x2="470.26" y2="22.35" stroke="#383680" stroke-width="0.7"/>
<line x1="467.66" y1="25.15" x2="470.26" y2="25.15" stroke="#383680" stroke-width="0.7"/>
<line x1="467.36" y1="23.75" x2="470.56" y2="23.75" stroke="#2c2a66" stroke-width="1.2"/>
<line x1="478.02" y1="23.75" x2="481.22" y2="23.75" stroke="#2c2a66" stroke-width="1.2"/>
<line x1="485.57" y1="27.8" x2="488.77" y2="27.8" stroke="#2c2a66" stroke-width="1.2"/>
<line x1="493.04" y1="43.67" x2="493.04" y2="45.67" stroke="#383680" stroke-width="0.7"/>
<line x1="491.74" y1="43.67" x2="494.34" y2="43.67" stroke="#383680" stroke-width="0.7"/>
<line x1="491.74" y1="45.67" x2="494.34" y2="45.67" stroke="#383680" stroke-width="0.7"/>
<line x1="491.44" y1="44.67" x2="494.64" y2="44.67" stroke="#2c2a66" stroke-width="1.2"/>
<line x1="497.83" y1="66.83" x2="497.83" y2="68.42" stroke="#383680" stroke-width="0.7"/>
<line x1="496.53" y1="66.83" x2="499.13" y2="66.83" stroke="#383680" stroke-width="0.7"/>
<line x1="496.53" y1="68.42" x2="499.13" y2="68.42" stroke="#383680" stroke-width="0.7"/>
<line x1="496.23" y1="67.62" x2="499.43" y2="67.62" stroke="#2c2a66" stroke-width="1.2"/>
<line x1="501.88" y1="81.67" x2="501.88" y2="83.27" stroke="#383680" stroke-width="0.7"/>
<line x1="500.58" y1="81.67" x2="503.18" y2="81.67" stroke="#383680" stroke-width="0.7"/>
<line x1="500.58" y1="83.27" x2="503.18" y2="83.27" stroke="#383680" stroke-width="0.7"/>
<line x1="500.28" y1="82.47" x2="503.48" y2="82.47" stroke="#2c2a66" stroke-width="1.2"/>
<line x1="511.25" y1="88.98" x2="511.25" y2="92.17" stroke="#383680" stroke-width="0.7"/>
<line x1="509.95" y1="88.98" x2="512.55" y2="88.98" stroke="#383680" stroke-width="0.7"/>
<line x1="509.95" y1="92.17" x2="512.55" y2="92.17" stroke="#383680" stroke-width="0.7"/>
<line x1="509.65" y1="90.58" x2="512.85" y2="90.58" stroke="#2c2a66" stroke-width="1.2"/>
<line x1="511.25" y1="25.52" x2="511.25" y2="28.73" stroke="#b5651d" stroke-width="0.7"/>
<line x1="509.95" y1="25.52" x2="512.55" y2="25.52" stroke="#b5651d" stroke-width="0.7"/>
<line x1="509.95" y1="28.73" x2="512.55" y2="28.73" stroke="#b5651d" stroke-width="0.7"/>
<line x1="447.5" y1="66.5" x2="454.5" y2="66.5" stroke="#383680" stroke-width="0.9"/>
<text x="456.8" y="69.2" font-size="7.4">PROTAC</text>
<line x1="447.5" y1="75.5" x2="454.5" y2="75.5" stroke="#2e7d32" stroke-width="0.9"/>
<text x="456.8" y="78.25" font-size="7.4">RG7112</text>
<line x1="447.5" y1="84.5" x2="454.5" y2="84.5" stroke="#e8792b" stroke-width="0.9"/>
<text x="456.8" y="87.3" font-size="7.4">RG7112D</text>
</g>
<g id="panelB">
<text x="1.2" y="137.6" font-size="10" font-weight="bold" style="stroke-width:0.45px">B</text>
<text x="61" y="143.8" font-size="7.4" font-style="italic" text-anchor="middle">Mdm2<tspan font-size="4.6" dy="-3">+/+</tspan><tspan dy="3"> p53</tspan><tspan font-size="4.6" dy="-3">−/−</tspan></text>
<line x1="28.5" y1="149.5" x2="28.5" y2="224" stroke="#231f20" stroke-width="1"/>
<line x1="26.3" y1="223.75" x2="28.5" y2="223.75" stroke="#231f20" stroke-width="1"/>
<text x="25.3" y="226.41" font-size="7.4" text-anchor="end">0</text>
<line x1="26.3" y1="207.94" x2="28.5" y2="207.94" stroke="#231f20" stroke-width="1"/>
<text x="25.3" y="210.6" font-size="7.4" text-anchor="end">25</text>
<line x1="26.3" y1="192.12" x2="28.5" y2="192.12" stroke="#231f20" stroke-width="1"/>
<text x="25.3" y="194.79" font-size="7.4" text-anchor="end">50</text>
<line x1="26.3" y1="176.31" x2="28.5" y2="176.31" stroke="#231f20" stroke-width="1"/>
<text x="25.3" y="178.98" font-size="7.4" text-anchor="end">75</text>
<line x1="26.3" y1="160.5" x2="28.5" y2="160.5" stroke="#231f20" stroke-width="1"/>
<text x="25.3" y="163.16" font-size="7.4" text-anchor="end">100</text>
<line x1="27.5" y1="223.5" x2="96.3" y2="223.5" stroke="#231f20" stroke-width="1"/>
<line x1="47.59" y1="223.5" x2="47.59" y2="225.3" stroke="#231f20" stroke-width="0.7"/>
<line x1="58.91" y1="223.5" x2="58.91" y2="225.3" stroke="#231f20" stroke-width="0.7"/>
<line x1="66.93" y1="223.5" x2="66.93" y2="225.3" stroke="#231f20" stroke-width="0.7"/>
<line x1="73.16" y1="223.5" x2="73.16" y2="225.3" stroke="#231f20" stroke-width="0.7"/>
<line x1="78.25" y1="223.5" x2="78.25" y2="225.3" stroke="#231f20" stroke-width="0.7"/>
<line x1="82.55" y1="223.5" x2="82.55" y2="225.3" stroke="#231f20" stroke-width="0.7"/>
<line x1="86.27" y1="223.5" x2="86.27" y2="225.3" stroke="#231f20" stroke-width="0.7"/>
<line x1="89.56" y1="223.5" x2="89.56" y2="225.3" stroke="#231f20" stroke-width="0.7"/>
<line x1="28.25" y1="223.5" x2="28.25" y2="226.5" stroke="#231f20" stroke-width="0.9"/>
<text x="28.25" y="235.2" font-size="7.4" text-anchor="middle">1</text>
<line x1="92.5" y1="223.5" x2="92.5" y2="226.5" stroke="#231f20" stroke-width="0.9"/>
<text x="92.5" y="235.2" font-size="7.4" text-anchor="middle">10</text>
<text x="61.5" y="245.8" font-size="7.4" text-anchor="middle">Concentration (µmol/L)</text>
<text x="12.2" y="192.5" font-size="7.4" text-anchor="middle" transform="rotate(-90 12.2 192.5)">% Survival</text>
<polyline points="66.93,160.5 94.13,160.5" fill="none" stroke="#e8792b" stroke-width="1.1" stroke-linejoin="round" stroke-linecap="round"/>
<line x1="66.93" y1="154.5" x2="66.93" y2="165.5" stroke="#e8792b" stroke-width="0.7"/>
<line x1="65.53" y1="154.5" x2="68.33" y2="154.5" stroke="#e8792b" stroke-width="0.7"/>
<line x1="65.53" y1="165.5" x2="68.33" y2="165.5" stroke="#e8792b" stroke-width="0.7"/>
<line x1="73.16" y1="152.5" x2="73.16" y2="161.1" stroke="#e8792b" stroke-width="0.7"/>
<line x1="71.76" y1="152.5" x2="74.56" y2="152.5" stroke="#e8792b" stroke-width="0.7"/>
<line x1="71.76" y1="161.1" x2="74.56" y2="161.1" stroke="#e8792b" stroke-width="0.7"/>
<line x1="78.25" y1="149.5" x2="78.25" y2="161.1" stroke="#e8792b" stroke-width="0.7"/>
<line x1="76.85" y1="149.5" x2="79.65" y2="149.5" stroke="#e8792b" stroke-width="0.7"/>
<line x1="76.85" y1="161.1" x2="79.65" y2="161.1" stroke="#e8792b" stroke-width="0.7"/>
<line x1="86.27" y1="151.5" x2="86.27" y2="161.1" stroke="#e8792b" stroke-width="0.7"/>
<line x1="84.87" y1="151.5" x2="87.67" y2="151.5" stroke="#e8792b" stroke-width="0.7"/>
<line x1="84.87" y1="161.1" x2="87.67" y2="161.1" stroke="#e8792b" stroke-width="0.7"/>
<line x1="92.5" y1="157" x2="92.5" y2="164.5" stroke="#e8792b" stroke-width="0.7"/>
<line x1="91.1" y1="157" x2="93.9" y2="157" stroke="#e8792b" stroke-width="0.7"/>
<line x1="91.1" y1="164.5" x2="93.9" y2="164.5" stroke="#e8792b" stroke-width="0.7"/>
<polyline points="28.25,160.5 28.92,160.5 29.59,160.5 30.26,160.5 30.93,160.5 31.6,160.5 32.26,160.5 32.93,160.5 33.6,160.5 34.27,160.5 34.94,160.5 35.61,160.5 36.28,160.5 36.95,160.5 37.62,160.5 38.29,160.5 38.96,160.5 39.62,160.5 40.29,160.5 40.96,160.5 41.63,160.5 42.3,160.5 42.97,160.5 43.64,160.5 44.31,160.5 44.98,160.5 45.65,160.5 46.32,160.5 46.98,160.5 47.65,160.5 48.32,160.5 48.99,160.5 49.66,160.5 50.33,160.5 51,160.5 51.67,160.5 52.34,160.5 53.01,160.5 53.68,160.5 54.34,160.5 55.01,160.5 55.68,160.5 56.35,160.5 57.02,160.5 57.69,160.5 58.36,160.51 59.03,160.51 59.7,160.51 60.37,160.52 61.04,160.52 61.7,160.53 62.37,160.54 63.04,160.55 63.71,160.57 64.38,160.6 65.05,160.63 65.72,160.68 66.39,160.75 67.06,160.84 67.73,160.97 68.4,161.14 69.06,161.37 69.73,161.68 70.4,162.1 71.07,162.66 71.74,163.41 72.41,164.41 73.08,165.73 73.75,167.43 74.42,169.6 75.09,172.3 75.76,175.59 76.42,179.46 77.09,183.83 77.76,188.58 78.43,193.49 79.1,198.34 79.77,202.9 80.44,207.01 81.11,210.56 81.78,213.52 82.45,215.92 83.12,217.82 83.78,219.3 84.45,220.43 85.12,221.28 85.79,221.92 86.46,222.4 87.13,222.76 87.8,223.02 88.47,223.21 89.14,223.36 89.81,223.46 90.48,223.54 91.14,223.6 91.81,223.64 92.48,223.67 93.15,223.69 93.82,223.71 94.49,223.72 95.16,223.73" fill="none" stroke="#383680" stroke-width="1.1" stroke-linejoin="round" stroke-linecap="round"/>
<line x1="28.25" y1="151.5" x2="28.25" y2="163.5" stroke="#383680" stroke-width="0.7"/>
<line x1="26.85" y1="151.5" x2="29.65" y2="151.5" stroke="#383680" stroke-width="0.7"/>
<line x1="26.85" y1="163.5" x2="29.65" y2="163.5" stroke="#383680" stroke-width="0.7"/>
<line x1="47.59" y1="150.5" x2="47.59" y2="163" stroke="#383680" stroke-width="0.7"/>
<line x1="46.19" y1="150.5" x2="48.99" y2="150.5" stroke="#383680" stroke-width="0.7"/>
<line x1="46.19" y1="163" x2="48.99" y2="163" stroke="#383680" stroke-width="0.7"/>
<line x1="66.93" y1="159.53" x2="66.93" y2="166.53" stroke="#383680" stroke-width="0.7"/>
<line x1="65.53" y1="159.53" x2="68.33" y2="159.53" stroke="#383680" stroke-width="0.7"/>
<line x1="65.53" y1="166.53" x2="68.33" y2="166.53" stroke="#383680" stroke-width="0.7"/>
<line x1="73.16" y1="166.99" x2="73.16" y2="172.99" stroke="#383680" stroke-width="0.7"/>
<line x1="71.76" y1="166.99" x2="74.56" y2="166.99" stroke="#383680" stroke-width="0.7"/>
<line x1="71.76" y1="172.99" x2="74.56" y2="172.99" stroke="#383680" stroke-width="0.7"/>
<line x1="78.25" y1="186.46" x2="78.25" y2="191.46" stroke="#383680" stroke-width="0.7"/>
<line x1="76.85" y1="186.46" x2="79.65" y2="186.46" stroke="#383680" stroke-width="0.7"/>
<line x1="76.85" y1="191.46" x2="79.65" y2="191.46" stroke="#383680" stroke-width="0.7"/>
<line x1="92.5" y1="222.75" x2="92.5" y2="224.75" stroke="#383680" stroke-width="0.7"/>
<line x1="91.1" y1="222.75" x2="93.9" y2="222.75" stroke="#383680" stroke-width="0.7"/>
<line x1="91.1" y1="224.75" x2="93.9" y2="224.75" stroke="#383680" stroke-width="0.7"/>
<line x1="32.5" y1="207.5" x2="39.5" y2="207.5" stroke="#383680" stroke-width="1"/>
<text x="41.25" y="210" font-size="7.4">PROTAC</text>
<line x1="32.5" y1="216.5" x2="39.5" y2="216.5" stroke="#e8792b" stroke-width="1"/>
<text x="41.25" y="218.8" font-size="7.4">RG7112D</text>
<text x="157" y="143.8" font-size="7.4" font-style="italic" text-anchor="middle">Mdm2<tspan font-size="4.6" dy="-3">−/−</tspan><tspan dy="3"> p53</tspan><tspan font-size="4.6" dy="-3">−/−</tspan></text>
<line x1="122.5" y1="150" x2="122.5" y2="224" stroke="#231f20" stroke-width="1"/>
<line x1="120.3" y1="223.75" x2="122.5" y2="223.75" stroke="#231f20" stroke-width="1"/>
<text x="119.3" y="226.41" font-size="7.4" text-anchor="end">0</text>
<line x1="120.3" y1="207.06" x2="122.5" y2="207.06" stroke="#231f20" stroke-width="1"/>
<text x="119.3" y="209.73" font-size="7.4" text-anchor="end">25</text>
<line x1="120.3" y1="190.38" x2="122.5" y2="190.38" stroke="#231f20" stroke-width="1"/>
<text x="119.3" y="193.04" font-size="7.4" text-anchor="end">50</text>
<line x1="120.3" y1="173.69" x2="122.5" y2="173.69" stroke="#231f20" stroke-width="1"/>
<text x="119.3" y="176.35" font-size="7.4" text-anchor="end">75</text>
<line x1="120.3" y1="157" x2="122.5" y2="157" stroke="#231f20" stroke-width="1"/>
<text x="119.3" y="159.66" font-size="7.4" text-anchor="end">100</text>
<line x1="122" y1="223.5" x2="188.8" y2="223.5" stroke="#231f20" stroke-width="1"/>
<line x1="124.83" y1="223.5" x2="124.83" y2="225.3" stroke="#231f20" stroke-width="0.7"/>
<line x1="128.49" y1="223.5" x2="128.49" y2="225.3" stroke="#231f20" stroke-width="0.7"/>
<line x1="131.59" y1="223.5" x2="131.59" y2="225.3" stroke="#231f20" stroke-width="0.7"/>
<line x1="134.27" y1="223.5" x2="134.27" y2="225.3" stroke="#231f20" stroke-width="0.7"/>
<line x1="136.63" y1="223.5" x2="136.63" y2="225.3" stroke="#231f20" stroke-width="0.7"/>
<line x1="152.67" y1="223.5" x2="152.67" y2="225.3" stroke="#231f20" stroke-width="0.7"/>
<line x1="160.82" y1="223.5" x2="160.82" y2="225.3" stroke="#231f20" stroke-width="0.7"/>
<line x1="166.6" y1="223.5" x2="166.6" y2="225.3" stroke="#231f20" stroke-width="0.7"/>
<line x1="171.08" y1="223.5" x2="171.08" y2="225.3" stroke="#231f20" stroke-width="0.7"/>
<line x1="174.74" y1="223.5" x2="174.74" y2="225.3" stroke="#231f20" stroke-width="0.7"/>
<line x1="177.84" y1="223.5" x2="177.84" y2="225.3" stroke="#231f20" stroke-width="0.7"/>
<line x1="180.52" y1="223.5" x2="180.52" y2="225.3" stroke="#231f20" stroke-width="0.7"/>
<line x1="182.88" y1="223.5" x2="182.88" y2="225.3" stroke="#231f20" stroke-width="0.7"/>
<line x1="138.75" y1="223.5" x2="138.75" y2="226.5" stroke="#231f20" stroke-width="0.9"/>
<text x="138.75" y="235.2" font-size="7.4" text-anchor="middle">1</text>
<line x1="185" y1="223.5" x2="185" y2="226.5" stroke="#231f20" stroke-width="0.9"/>
<text x="185" y="235.2" font-size="7.4" text-anchor="middle">10</text>
<text x="155.25" y="245.8" font-size="7.4" text-anchor="middle">Concentration (µmol/L)</text>
<text x="106.5" y="190.5" font-size="7.4" text-anchor="middle" transform="rotate(-90 106.5 190.5)">% Survival</text>
<polyline points="122.5,156.67 185.98,156.67" fill="none" stroke="#e8792b" stroke-width="1" stroke-linejoin="round" stroke-linecap="round"/>
<polyline points="122.5,156.4 185.98,156.4" fill="none" stroke="#383680" stroke-width="0.9" stroke-linejoin="round" stroke-linecap="round"/>
<polyline points="122.5,157 185.98,157" fill="none" stroke="#2f6b3a" stroke-width="1.2" stroke-linejoin="round" stroke-linecap="round"/>
<line x1="123.43" y1="156.13" x2="126.23" y2="156.13" stroke="#383680" stroke-width="1"/>
<line x1="137.35" y1="156.13" x2="140.15" y2="156.13" stroke="#383680" stroke-width="1"/>
<line x1="151.27" y1="156.13" x2="154.07" y2="156.13" stroke="#383680" stroke-width="1"/>
<line x1="165.2" y1="156.13" x2="168" y2="156.13" stroke="#383680" stroke-width="1"/>
<line x1="173.34" y1="156.13" x2="176.14" y2="156.13" stroke="#383680" stroke-width="1"/>
<line x1="179.12" y1="156.13" x2="181.92" y2="156.13" stroke="#383680" stroke-width="1"/>
<line x1="183.6" y1="156.13" x2="186.4" y2="156.13" stroke="#383680" stroke-width="1"/>
<rect x="123.53" y="155.7" width="2.6" height="2.6" fill="#2b2b4a"/>
<polyline points="122.71,159.34 122.76,159.34 122.79,159.33 122.81,159.29 122.81,159.24 122.82,159.19 122.83,159.14 122.85,159.1 122.9,159.07 122.97,159.05 123.08,159.06 123.22,159.11 123.42,159.19 123.67,159.31 123.98,159.48 124.37,159.71 124.83,160 125.37,160.36 126,160.77 126.71,161.24 127.48,161.75 128.31,162.31 129.18,162.9 130.1,163.52 131.05,164.18 132.02,164.85 133.01,165.53 134,166.23 134.99,166.93 135.97,167.64 136.93,168.33 137.86,169.02 138.75,169.68 139.63,170.35 140.53,171.05 141.44,171.76 142.37,172.49 143.29,173.23 144.22,173.98 145.15,174.73 146.07,175.48 146.98,176.23 147.87,176.97 148.75,177.7 149.6,178.41 150.42,179.11 151.21,179.78 151.96,180.42 152.67,181.03 153.34,181.61 153.98,182.18 154.59,182.72 155.17,183.25 155.72,183.76 156.25,184.25 156.76,184.73 157.25,185.2 157.73,185.66 158.19,186.11 158.64,186.55 159.08,186.99 159.52,187.42 159.95,187.85 160.38,188.28 160.82,188.71 161.24,189.12 161.64,189.52 162.01,189.89 162.37,190.26 162.72,190.61 163.05,190.95 163.38,191.29 163.71,191.63 164.03,191.97 164.36,192.31 164.69,192.67 165.04,193.04 165.4,193.43 165.78,193.83 166.17,194.26 166.6,194.71 167.04,195.2 167.52,195.72 168.01,196.26 168.52,196.83 169.05,197.41 169.58,198 170.12,198.61 170.67,199.22 171.21,199.83 171.75,200.43 172.29,201.03 172.81,201.61 173.33,202.18 173.82,202.72 174.29,203.24 174.74,203.72 175.17,204.19 175.58,204.63 175.98,205.06 176.37,205.47 176.74,205.87 177.11,206.26 177.47,206.63 177.82,207 178.17,207.36 178.51,207.71 178.84,208.05 179.18,208.39 179.51,208.73 179.85,209.07 180.18,209.4 180.52,209.73 180.86,210.07 181.22,210.41 181.59,210.76 181.96,211.1 182.33,211.45 182.7,211.79 183.06,212.12 183.42,212.44 183.76,212.76 184.09,213.05 184.41,213.33 184.7,213.6 184.97,213.84 185.21,214.05 185.42,214.24 185.59,214.41" fill="none" stroke="#6a1f6e" stroke-width="1.1" stroke-linejoin="round" stroke-linecap="round"/>
<line x1="123.43" y1="160.34" x2="126.23" y2="160.34" stroke="#6a1f6e" stroke-width="1.2"/>
<line x1="137.35" y1="170.35" x2="140.15" y2="170.35" stroke="#6a1f6e" stroke-width="1.2"/>
<line x1="151.27" y1="183.7" x2="154.07" y2="183.7" stroke="#6a1f6e" stroke-width="1.2"/>
<line x1="165.2" y1="189.04" x2="168" y2="189.04" stroke="#6a1f6e" stroke-width="1.2"/>
<line x1="173.34" y1="207.06" x2="176.14" y2="207.06" stroke="#6a1f6e" stroke-width="1.2"/>
<line x1="179.12" y1="210.4" x2="181.92" y2="210.4" stroke="#6a1f6e" stroke-width="1.2"/>
<line x1="183.6" y1="213.74" x2="186.4" y2="213.74" stroke="#6a1f6e" stroke-width="1.2"/>
<line x1="125" y1="194.5" x2="131.75" y2="194.5" stroke="#383680" stroke-width="1"/>
<text x="133.75" y="197.5" font-size="7.4">PROTAC</text>
<line x1="125" y1="203.5" x2="131.75" y2="203.5" stroke="#2f6b3a" stroke-width="1"/>
<text x="133.75" y="205.85" font-size="7.4">RG7112</text>
<line x1="125" y1="211.5" x2="131.75" y2="211.5" stroke="#e8792b" stroke-width="1"/>
<text x="133.75" y="214.2" font-size="7.4">RG7112D</text>
<line x1="125" y1="219.5" x2="131.75" y2="219.5" stroke="#6a1f6e" stroke-width="1"/>
<text x="133.75" y="222.55" font-size="7.4">ABT-263</text>
</g>
<g id="panelC">
<text x="197.5" y="138" font-size="10" font-weight="bold" style="stroke-width:0.45px">C</text>
<text x="257.8" y="143.6" font-size="7.4" text-anchor="middle">MDA-MB-231</text>
<line x1="224.5" y1="149.5" x2="224.5" y2="225" stroke="#231f20" stroke-width="1"/>
<line x1="222.3" y1="221" x2="224.5" y2="221" stroke="#231f20" stroke-width="1"/>
<text x="221.3" y="223.66" font-size="7.4" text-anchor="end">0</text>
<line x1="222.3" y1="207.45" x2="224.5" y2="207.45" stroke="#231f20" stroke-width="1"/>
<text x="221.3" y="210.11" font-size="7.4" text-anchor="end">20</text>
<line x1="222.3" y1="193.9" x2="224.5" y2="193.9" stroke="#231f20" stroke-width="1"/>
<text x="221.3" y="196.56" font-size="7.4" text-anchor="end">40</text>
<line x1="222.3" y1="180.35" x2="224.5" y2="180.35" stroke="#231f20" stroke-width="1"/>
<text x="221.3" y="183.01" font-size="7.4" text-anchor="end">60</text>
<line x1="222.3" y1="166.8" x2="224.5" y2="166.8" stroke="#231f20" stroke-width="1"/>
<text x="221.3" y="169.46" font-size="7.4" text-anchor="end">80</text>
<line x1="222.3" y1="153.25" x2="224.5" y2="153.25" stroke="#231f20" stroke-width="1"/>
<text x="221.3" y="155.91" font-size="7.4" text-anchor="end">100</text>
<line x1="224" y1="224.5" x2="296.3" y2="224.5" stroke="#231f20" stroke-width="1"/>
<line x1="224.5" y1="224.5" x2="224.5" y2="226.7" stroke="#231f20" stroke-width="1"/>
<text x="224.5" y="234.4" font-size="7.4" text-anchor="middle">0</text>
<line x1="242.1" y1="224.5" x2="242.1" y2="226.7" stroke="#231f20" stroke-width="1"/>
<text x="242.1" y="234.4" font-size="7.4" text-anchor="middle">5</text>
<line x1="259.7" y1="224.5" x2="259.7" y2="226.7" stroke="#231f20" stroke-width="1"/>
<text x="259.7" y="234.4" font-size="7.4" text-anchor="middle">10</text>
<line x1="277.3" y1="224.5" x2="277.3" y2="226.7" stroke="#231f20" stroke-width="1"/>
<text x="277.3" y="234.4" font-size="7.4" text-anchor="middle">15</text>
<line x1="294.9" y1="224.5" x2="294.9" y2="226.7" stroke="#231f20" stroke-width="1"/>
<text x="294.9" y="234.4" font-size="7.4" text-anchor="middle">20</text>
<text x="258.5" y="243.6" font-size="7.4" text-anchor="middle">RG7112 (µmol/L)</text>
<text x="203.8" y="187.5" font-size="7.4" text-anchor="middle" transform="rotate(-90 203.8 187.5)">% Cell death inhibition</text>
<polyline points="224.5,154.61 224.81,154.59 225.18,154.57 225.61,154.55 226.08,154.53 226.6,154.5 227.16,154.47 227.74,154.44 228.35,154.41 228.98,154.39 229.61,154.36 230.25,154.33 230.89,154.31 231.52,154.29 232.14,154.28 232.73,154.27 233.3,154.27 233.83,154.27 234.34,154.28 234.82,154.29 235.29,154.31 235.75,154.33 236.21,154.36 236.68,154.39 237.15,154.41 237.64,154.44 238.16,154.47 238.7,154.5 239.28,154.53 239.91,154.55 240.58,154.57 241.31,154.59 242.1,154.61 242.96,154.61 243.88,154.61 244.86,154.61 245.88,154.6 246.95,154.58 248.06,154.57 249.19,154.56 250.35,154.54 251.53,154.53 252.71,154.52 253.9,154.52 255.09,154.52 256.27,154.53 257.44,154.54 258.58,154.57 259.7,154.61 260.8,154.65 261.9,154.7 263,154.77 264.1,154.83 265.2,154.91 266.3,154.98 267.4,155.07 268.5,155.16 269.6,155.25 270.7,155.34 271.8,155.44 272.9,155.54 274,155.64 275.1,155.75 276.2,155.85 277.3,155.96 278.43,156.07 279.62,156.2 280.85,156.33 282.11,156.47 283.39,156.61 284.67,156.76 285.95,156.91 287.2,157.06 288.42,157.21 289.59,157.35 290.7,157.48 291.74,157.61 292.69,157.73 293.54,157.83 294.28,157.92 294.9,157.99" fill="none" stroke="#3f962a" stroke-width="1.25" stroke-linejoin="round" stroke-linecap="round"/>
<line x1="232" y1="154.27" x2="234.6" y2="154.27" stroke="#3f962a" stroke-width="1"/>
<line x1="240.8" y1="154.61" x2="243.4" y2="154.61" stroke="#3f962a" stroke-width="1"/>
<line x1="258.4" y1="154.61" x2="261" y2="154.61" stroke="#3f962a" stroke-width="1"/>
<line x1="276" y1="155.96" x2="278.6" y2="155.96" stroke="#3f962a" stroke-width="1"/>
<line x1="293.6" y1="157.99" x2="296.2" y2="157.99" stroke="#3f962a" stroke-width="1"/>
<polyline points="224.5,221 224.81,220.43 225.18,219.74 225.61,218.95 226.08,218.06 226.6,217.1 227.16,216.06 227.74,214.98 228.35,213.84 228.98,212.68 229.61,211.5 230.25,210.32 230.89,209.14 231.52,207.98 232.14,206.85 232.73,205.77 233.3,204.74 233.85,203.75 234.4,202.77 234.95,201.8 235.5,200.83 236.05,199.87 236.6,198.91 237.15,197.95 237.7,196.99 238.25,196.03 238.8,195.07 239.35,194.1 239.9,193.13 240.45,192.15 241,191.17 241.55,190.17 242.1,189.16 242.65,188.13 243.2,187.08 243.75,186.01 244.3,184.92 244.85,183.83 245.4,182.73 245.95,181.62 246.5,180.52 247.05,179.42 247.6,178.33 248.15,177.26 248.7,176.2 249.25,175.16 249.8,174.15 250.35,173.17 250.9,172.22 251.45,171.29 252,170.37 252.55,169.46 253.1,168.57 253.65,167.68 254.2,166.81 254.75,165.96 255.3,165.13 255.85,164.31 256.4,163.52 256.95,162.76 257.5,162.02 258.05,161.3 258.6,160.62 259.15,159.97 259.7,159.35 260.25,158.76 260.8,158.2 261.35,157.67 261.9,157.17 262.45,156.7 263,156.25 263.55,155.83 264.1,155.43 264.65,155.05 265.2,154.69 265.75,154.36 266.3,154.04 266.85,153.73 267.4,153.44 267.95,153.17 268.5,152.91 269.05,152.67 269.6,152.45 270.15,152.25 270.7,152.07 271.25,151.91 271.8,151.76 272.35,151.64 272.9,151.54 273.45,151.45 274,151.37 274.55,151.31 275.1,151.27 275.65,151.24 276.2,151.22 276.75,151.21 277.3,151.22 277.85,151.24 278.4,151.29 278.95,151.36 279.5,151.45 280.05,151.55 280.6,151.68 281.15,151.81 281.7,151.96 282.25,152.11 282.8,152.27 283.35,152.44 283.9,152.61 284.45,152.77 285,152.94 285.55,153.1 286.1,153.25 286.67,153.41 287.26,153.57 287.88,153.75 288.51,153.94 289.15,154.14 289.79,154.34 290.42,154.53 291.05,154.73 291.66,154.93 292.24,155.11 292.8,155.29 293.32,155.46 293.79,155.61 294.22,155.75 294.59,155.86 294.9,155.96" fill="none" stroke="#1a1a1a" stroke-width="1.25" stroke-linejoin="round" stroke-linecap="round"/>
<line x1="224.5" y1="222.11" x2="224.5" y2="225.31" stroke="#1a1a1a" stroke-width="0.7"/>
<line x1="223.2" y1="222.11" x2="225.8" y2="222.11" stroke="#1a1a1a" stroke-width="0.7"/>
<line x1="223.2" y1="225.31" x2="225.8" y2="225.31" stroke="#1a1a1a" stroke-width="0.7"/>
<line x1="223.1" y1="223.71" x2="225.9" y2="223.71" stroke="#1a1a1a" stroke-width="1.5"/>
<line x1="233.3" y1="202.86" x2="233.3" y2="205.26" stroke="#1a1a1a" stroke-width="0.7"/>
<line x1="232" y1="202.86" x2="234.6" y2="202.86" stroke="#1a1a1a" stroke-width="0.7"/>
<line x1="232" y1="205.26" x2="234.6" y2="205.26" stroke="#1a1a1a" stroke-width="0.7"/>
<line x1="231.9" y1="204.06" x2="234.7" y2="204.06" stroke="#1a1a1a" stroke-width="1.5"/>
<line x1="242.1" y1="188.64" x2="242.1" y2="191.03" stroke="#1a1a1a" stroke-width="0.7"/>
<line x1="240.8" y1="188.64" x2="243.4" y2="188.64" stroke="#1a1a1a" stroke-width="0.7"/>
<line x1="240.8" y1="191.03" x2="243.4" y2="191.03" stroke="#1a1a1a" stroke-width="0.7"/>
<line x1="240.7" y1="189.84" x2="243.5" y2="189.84" stroke="#1a1a1a" stroke-width="1.5"/>
<line x1="259.7" y1="156.07" x2="259.7" y2="161.27" stroke="#1a1a1a" stroke-width="0.7"/>
<line x1="258.4" y1="156.07" x2="261" y2="156.07" stroke="#1a1a1a" stroke-width="0.7"/>
<line x1="258.4" y1="161.27" x2="261" y2="161.27" stroke="#1a1a1a" stroke-width="0.7"/>
<line x1="258.3" y1="158.67" x2="261.1" y2="158.67" stroke="#1a1a1a" stroke-width="1.5"/>
<line x1="277.3" y1="153.21" x2="277.3" y2="156.01" stroke="#1a1a1a" stroke-width="0.7"/>
<line x1="276" y1="153.21" x2="278.6" y2="153.21" stroke="#1a1a1a" stroke-width="0.7"/>
<line x1="276" y1="156.01" x2="278.6" y2="156.01" stroke="#1a1a1a" stroke-width="0.7"/>
<line x1="275.9" y1="154.61" x2="278.7" y2="154.61" stroke="#1a1a1a" stroke-width="1.5"/>
<line x1="294.9" y1="154.76" x2="294.9" y2="157.16" stroke="#1a1a1a" stroke-width="0.7"/>
<line x1="293.6" y1="154.76" x2="296.2" y2="154.76" stroke="#1a1a1a" stroke-width="0.7"/>
<line x1="293.6" y1="157.16" x2="296.2" y2="157.16" stroke="#1a1a1a" stroke-width="0.7"/>
<line x1="293.5" y1="155.96" x2="296.3" y2="155.96" stroke="#1a1a1a" stroke-width="1.5"/>
<line x1="252.5" y1="202" x2="260.5" y2="202" stroke="#3f962a" stroke-width="1"/>
<text x="263.1" y="204.6" font-size="7.4">RG7112</text>
<line x1="252.5" y1="214.2" x2="260.5" y2="214.2" stroke="#1a1a1a" stroke-width="1.2"/>
<text x="263.1" y="212.8" font-size="7.4">RG7112 +</text>
<text x="263.1" y="220.7" font-size="7.4">PROTAC</text>
<text x="375.5" y="143.6" font-size="7.4" text-anchor="middle">MDA-MB-231</text>
<line x1="331.5" y1="149.5" x2="331.5" y2="225" stroke="#231f20" stroke-width="1"/>
<line x1="329.3" y1="218" x2="331.5" y2="218" stroke="#231f20" stroke-width="1"/>
<text x="328.3" y="220.66" font-size="7.4" text-anchor="end">0</text>
<line x1="329.3" y1="205.05" x2="331.5" y2="205.05" stroke="#231f20" stroke-width="1"/>
<text x="328.3" y="207.71" font-size="7.4" text-anchor="end">20</text>
<line x1="329.3" y1="192.1" x2="331.5" y2="192.1" stroke="#231f20" stroke-width="1"/>
<text x="328.3" y="194.76" font-size="7.4" text-anchor="end">40</text>
<line x1="329.3" y1="179.15" x2="331.5" y2="179.15" stroke="#231f20" stroke-width="1"/>
<text x="328.3" y="181.81" font-size="7.4" text-anchor="end">60</text>
<line x1="329.3" y1="166.2" x2="331.5" y2="166.2" stroke="#231f20" stroke-width="1"/>
<text x="328.3" y="168.86" font-size="7.4" text-anchor="end">80</text>
<line x1="329.3" y1="153.25" x2="331.5" y2="153.25" stroke="#231f20" stroke-width="1"/>
<text x="328.3" y="155.91" font-size="7.4" text-anchor="end">100</text>
<line x1="331" y1="224.5" x2="403" y2="224.5" stroke="#231f20" stroke-width="1"/>
<line x1="331.25" y1="224.5" x2="331.25" y2="226.7" stroke="#231f20" stroke-width="1"/>
<text x="331.25" y="234.4" font-size="7.4" text-anchor="middle">0</text>
<line x1="345.3" y1="224.5" x2="345.3" y2="226.7" stroke="#231f20" stroke-width="1"/>
<text x="345.3" y="234.4" font-size="7.4" text-anchor="middle">5</text>
<line x1="359.35" y1="224.5" x2="359.35" y2="226.7" stroke="#231f20" stroke-width="1"/>
<text x="359.35" y="234.4" font-size="7.4" text-anchor="middle">10</text>
<line x1="373.4" y1="224.5" x2="373.4" y2="226.7" stroke="#231f20" stroke-width="1"/>
<text x="373.4" y="234.4" font-size="7.4" text-anchor="middle">15</text>
<line x1="387.45" y1="224.5" x2="387.45" y2="226.7" stroke="#231f20" stroke-width="1"/>
<text x="387.45" y="234.4" font-size="7.4" text-anchor="middle">20</text>
<line x1="401.5" y1="224.5" x2="401.5" y2="226.7" stroke="#231f20" stroke-width="1"/>
<text x="401.5" y="234.4" font-size="7.4" text-anchor="middle">25</text>
<text x="366.25" y="243.6" font-size="7.4" text-anchor="middle">VHL-Amine (µmol/L)</text>
<text x="309.8" y="187.5" font-size="7.4" text-anchor="middle" transform="rotate(-90 309.8 187.5)">% Cell death inhibition</text>
<polyline points="331.25,156.81 331.74,156.87 332.33,156.94 333.01,157.01 333.77,157.1 334.6,157.2 335.49,157.3 336.42,157.41 337.4,157.52 338.4,157.63 339.41,157.75 340.44,157.87 341.46,157.99 342.46,158.1 343.45,158.22 344.4,158.33 345.3,158.43 346.18,158.54 347.06,158.66 347.93,158.78 348.81,158.92 349.69,159.06 350.57,159.19 351.45,159.33 352.33,159.46 353.2,159.59 354.08,159.7 354.96,159.81 355.84,159.89 356.72,159.97 357.59,160.02 358.47,160.05 359.35,160.05 360.23,160.02 361.11,159.95 361.98,159.85 362.86,159.73 363.74,159.59 364.62,159.42 365.5,159.25 366.38,159.08 367.25,158.9 368.13,158.73 369.01,158.57 369.89,158.42 370.77,158.3 371.64,158.2 372.52,158.14 373.4,158.11 374.28,158.11 375.16,158.14 376.03,158.19 376.91,158.27 377.79,158.36 378.67,158.47 379.55,158.59 380.43,158.71 381.3,158.85 382.18,158.99 383.06,159.12 383.94,159.26 384.82,159.39 385.69,159.51 386.57,159.63 387.45,159.72 388.35,159.82 389.3,159.91 390.29,160.01 391.29,160.1 392.31,160.2 393.34,160.29 394.35,160.38 395.35,160.47 396.33,160.56 397.26,160.64 398.15,160.72 398.98,160.79 399.74,160.86 400.42,160.92 401.01,160.98 401.5,161.02" fill="none" stroke="#dc3034" stroke-width="1.25" stroke-linejoin="round" stroke-linecap="round"/>
<line x1="344" y1="158.43" x2="346.6" y2="158.43" stroke="#dc3034" stroke-width="1"/>
<line x1="358.05" y1="160.05" x2="360.65" y2="160.05" stroke="#dc3034" stroke-width="1"/>
<line x1="372.1" y1="158.11" x2="374.7" y2="158.11" stroke="#dc3034" stroke-width="1"/>
<line x1="386.15" y1="159.72" x2="388.75" y2="159.72" stroke="#dc3034" stroke-width="1"/>
<line x1="400.2" y1="161.02" x2="402.8" y2="161.02" stroke="#dc3034" stroke-width="1"/>
<polyline points="331.25,221.24 331.5,221.22 331.79,221.2 332.13,221.18 332.51,221.17 332.93,221.15 333.37,221.13 333.84,221.1 334.32,221.08 334.82,221.04 335.33,221 335.84,220.96 336.35,220.9 336.86,220.84 337.35,220.77 337.82,220.69 338.27,220.59 338.71,220.49 339.15,220.39 339.59,220.29 340.03,220.19 340.47,220.08 340.91,219.96 341.35,219.84 341.79,219.7 342.23,219.55 342.67,219.39 343.1,219.21 343.54,219.01 343.98,218.79 344.42,218.55 344.86,218.29 345.3,218 345.74,217.69 346.18,217.36 346.62,217.02 347.06,216.66 347.5,216.28 347.93,215.89 348.37,215.48 348.81,215.05 349.25,214.6 349.69,214.13 350.13,213.64 350.57,213.13 351.01,212.6 351.45,212.05 351.89,211.47 352.33,210.88 352.76,210.26 353.2,209.61 353.64,208.95 354.08,208.26 354.52,207.55 354.96,206.81 355.4,206.06 355.84,205.29 356.28,204.51 356.72,203.7 357.15,202.88 357.59,202.05 358.03,201.2 358.47,200.33 358.91,199.46 359.35,198.57 359.79,197.67 360.23,196.73 360.67,195.76 361.11,194.77 361.55,193.76 361.98,192.73 362.42,191.69 362.86,190.64 363.3,189.59 363.74,188.53 364.18,187.48 364.62,186.43 365.06,185.4 365.5,184.38 365.94,183.37 366.38,182.39 366.81,181.41 367.25,180.43 367.69,179.45 368.13,178.47 368.57,177.49 369.01,176.51 369.45,175.54 369.89,174.58 370.33,173.63 370.77,172.69 371.2,171.77 371.64,170.87 372.08,169.99 372.52,169.13 372.96,168.3 373.4,167.5 373.84,166.71 374.28,165.94 374.72,165.18 375.16,164.43 375.6,163.71 376.03,162.99 376.47,162.3 376.91,161.63 377.35,160.98 377.79,160.35 378.23,159.74 378.67,159.16 379.11,158.61 379.55,158.09 379.99,157.6 380.43,157.13 380.86,156.71 381.3,156.31 381.74,155.94 382.18,155.6 382.62,155.29 383.06,155 383.5,154.74 383.94,154.5 384.38,154.29 384.82,154.09 385.25,153.91 385.69,153.75 386.13,153.61 386.57,153.47 387.01,153.36 387.45,153.25 387.89,153.16 388.33,153.1 388.77,153.05 389.21,153.03 389.65,153.03 390.08,153.05 390.52,153.08 390.96,153.13 391.4,153.19 391.84,153.27 392.28,153.35 392.72,153.45 393.16,153.55 393.6,153.66 394.04,153.78 394.48,153.9 394.93,154.03 395.4,154.2 395.89,154.39 396.4,154.6 396.91,154.83 397.42,155.06 397.93,155.31 398.43,155.56 398.91,155.8 399.38,156.04 399.82,156.28 400.24,156.49 400.62,156.69 400.96,156.87 401.25,157.02 401.5,157.13" fill="none" stroke="#1a1a1a" stroke-width="1.25" stroke-linejoin="round" stroke-linecap="round"/>
<line x1="329.85" y1="222.53" x2="332.65" y2="222.53" stroke="#1a1a1a" stroke-width="1.5"/>
<line x1="343.9" y1="213.47" x2="346.7" y2="213.47" stroke="#1a1a1a" stroke-width="1.5"/>
<line x1="357.95" y1="203.11" x2="360.75" y2="203.11" stroke="#1a1a1a" stroke-width="1.5"/>
<line x1="372" y1="165.55" x2="374.8" y2="165.55" stroke="#1a1a1a" stroke-width="1.5"/>
<line x1="386.05" y1="153.9" x2="388.85" y2="153.9" stroke="#1a1a1a" stroke-width="1.5"/>
<line x1="400.1" y1="157.13" x2="402.9" y2="157.13" stroke="#1a1a1a" stroke-width="1.5"/>
<line x1="363.75" y1="202" x2="371.75" y2="202" stroke="#dc3034" stroke-width="1"/>
<text x="374.35" y="204.6" font-size="7.4">VHL-Amine</text>
<line x1="363.75" y1="214.2" x2="371.75" y2="214.2" stroke="#1a1a1a" stroke-width="1.2"/>
<text x="374.35" y="212.8" font-size="7.4">VHL-Amine</text>
<text x="374.35" y="220.7" font-size="7.4">+ PROTAC</text>
<text x="482" y="143.6" font-size="7.4" text-anchor="middle">MDA-MB-231</text>
<line x1="442.5" y1="149.5" x2="442.5" y2="225" stroke="#231f20" stroke-width="1"/>
<line x1="440.3" y1="221.75" x2="442.5" y2="221.75" stroke="#231f20" stroke-width="1"/>
<text x="439.3" y="224.41" font-size="7.4" text-anchor="end">0</text>
<line x1="440.3" y1="208.05" x2="442.5" y2="208.05" stroke="#231f20" stroke-width="1"/>
<text x="439.3" y="210.71" font-size="7.4" text-anchor="end">20</text>
<line x1="440.3" y1="194.35" x2="442.5" y2="194.35" stroke="#231f20" stroke-width="1"/>
<text x="439.3" y="197.01" font-size="7.4" text-anchor="end">40</text>
<line x1="440.3" y1="180.65" x2="442.5" y2="180.65" stroke="#231f20" stroke-width="1"/>
<text x="439.3" y="183.31" font-size="7.4" text-anchor="end">60</text>
<line x1="440.3" y1="166.95" x2="442.5" y2="166.95" stroke="#231f20" stroke-width="1"/>
<text x="439.3" y="169.61" font-size="7.4" text-anchor="end">80</text>
<line x1="440.3" y1="153.25" x2="442.5" y2="153.25" stroke="#231f20" stroke-width="1"/>
<text x="439.3" y="155.91" font-size="7.4" text-anchor="end">100</text>
<line x1="442" y1="224.5" x2="514.3" y2="224.5" stroke="#231f20" stroke-width="1"/>
<line x1="442.5" y1="224.5" x2="442.5" y2="226.7" stroke="#231f20" stroke-width="1"/>
<text x="442.5" y="234.4" font-size="7.4" text-anchor="middle">0</text>
<line x1="456.5" y1="224.5" x2="456.5" y2="226.7" stroke="#231f20" stroke-width="1"/>
<text x="456.5" y="234.4" font-size="7.4" text-anchor="middle">5</text>
<line x1="470.5" y1="224.5" x2="470.5" y2="226.7" stroke="#231f20" stroke-width="1"/>
<text x="470.5" y="234.4" font-size="7.4" text-anchor="middle">10</text>
<line x1="484.5" y1="224.5" x2="484.5" y2="226.7" stroke="#231f20" stroke-width="1"/>
<text x="484.5" y="234.4" font-size="7.4" text-anchor="middle">15</text>
<line x1="498.5" y1="224.5" x2="498.5" y2="226.7" stroke="#231f20" stroke-width="1"/>
<text x="498.5" y="234.4" font-size="7.4" text-anchor="middle">20</text>
<line x1="512.5" y1="224.5" x2="512.5" y2="226.7" stroke="#231f20" stroke-width="1"/>
<text x="512.5" y="234.4" font-size="7.4" text-anchor="middle">25</text>
<text x="480" y="243.6" font-size="7.4" text-anchor="middle">VHL-Amine (µmol/L)</text>
<text x="422" y="187.5" font-size="7.4" text-anchor="middle" transform="rotate(-90 422 187.5)">% Cell death inhibition</text>
<polyline points="442.5,153.25 442.99,153.22 443.58,153.19 444.26,153.15 445.02,153.1 445.84,153.05 446.72,153 447.66,152.94 448.62,152.89 449.62,152.83 450.63,152.78 451.66,152.73 452.67,152.68 453.68,152.64 454.65,152.61 455.6,152.58 456.5,152.56 457.38,152.56 458.25,152.57 459.12,152.59 460,152.61 460.88,152.64 461.75,152.68 462.62,152.72 463.5,152.76 464.38,152.8 465.25,152.83 466.12,152.87 467,152.89 467.88,152.91 468.75,152.92 469.62,152.92 470.5,152.91 471.38,152.88 472.25,152.84 473.12,152.78 474,152.72 474.88,152.65 475.75,152.58 476.62,152.5 477.5,152.42 478.38,152.33 479.25,152.25 480.12,152.17 481,152.1 481.88,152.03 482.75,151.97 483.62,151.92 484.5,151.88 485.38,151.85 486.25,151.83 487.12,151.81 488,151.8 488.88,151.79 489.75,151.79 490.62,151.79 491.5,151.79 492.38,151.8 493.25,151.81 494.12,151.82 495,151.83 495.88,151.84 496.75,151.86 497.62,151.87 498.5,151.88 499.4,151.89 500.35,151.91 501.32,151.93 502.33,151.95 503.34,151.97 504.37,152 505.38,152.02 506.38,152.05 507.34,152.08 508.28,152.1 509.16,152.13 509.98,152.15 510.74,152.17 511.42,152.19 512.01,152.21 512.5,152.22" fill="none" stroke="#dc3034" stroke-width="1.25" stroke-linejoin="round" stroke-linecap="round"/>
<line x1="455.2" y1="152.56" x2="457.8" y2="152.56" stroke="#dc3034" stroke-width="1"/>
<line x1="469.2" y1="152.91" x2="471.8" y2="152.91" stroke="#dc3034" stroke-width="1"/>
<line x1="483.2" y1="151.88" x2="485.8" y2="151.88" stroke="#dc3034" stroke-width="1"/>
<line x1="497.2" y1="151.88" x2="499.8" y2="151.88" stroke="#dc3034" stroke-width="1"/>
<line x1="511.2" y1="152.22" x2="513.8" y2="152.22" stroke="#dc3034" stroke-width="1"/>
<polyline points="442.5,222.44 442.75,222.2 443.04,221.93 443.38,221.62 443.76,221.28 444.17,220.92 444.61,220.52 445.08,220.1 445.56,219.65 446.06,219.19 446.57,218.71 447.08,218.21 447.59,217.7 448.09,217.18 448.58,216.65 449.05,216.12 449.5,215.59 449.94,215.04 450.38,214.48 450.81,213.91 451.25,213.32 451.69,212.72 452.12,212.1 452.56,211.47 453,210.83 453.44,210.18 453.88,209.51 454.31,208.84 454.75,208.15 455.19,207.46 455.62,206.75 456.06,206.03 456.5,205.31 456.94,204.57 457.38,203.81 457.81,203.04 458.25,202.25 458.69,201.45 459.12,200.63 459.56,199.81 460,198.97 460.44,198.14 460.88,197.3 461.31,196.45 461.75,195.61 462.19,194.77 462.62,193.94 463.06,193.11 463.5,192.3 463.94,191.48 464.38,190.66 464.81,189.84 465.25,189.01 465.69,188.18 466.12,187.35 466.56,186.53 467,185.7 467.44,184.88 467.88,184.06 468.31,183.25 468.75,182.44 469.19,181.64 469.62,180.84 470.06,180.06 470.5,179.28 470.94,178.51 471.38,177.74 471.81,176.97 472.25,176.21 472.69,175.45 473.12,174.69 473.56,173.94 474,173.2 474.44,172.47 474.88,171.74 475.31,171.03 475.75,170.32 476.19,169.63 476.62,168.95 477.06,168.29 477.5,167.63 477.94,167 478.38,166.37 478.81,165.75 479.25,165.14 479.69,164.53 480.12,163.94 480.56,163.37 481,162.8 481.44,162.24 481.88,161.7 482.31,161.17 482.75,160.65 483.19,160.15 483.62,159.66 484.06,159.19 484.5,158.73 484.94,158.29 485.38,157.85 485.81,157.43 486.25,157.02 486.69,156.63 487.12,156.24 487.56,155.87 488,155.52 488.44,155.18 488.88,154.85 489.31,154.54 489.75,154.25 490.19,153.97 490.62,153.71 491.06,153.47 491.5,153.25 491.94,153.04 492.38,152.85 492.81,152.68 493.25,152.52 493.69,152.38 494.12,152.25 494.56,152.14 495,152.05 495.44,151.97 495.88,151.91 496.31,151.87 496.75,151.84 497.19,151.82 497.62,151.83 498.06,151.85 498.5,151.88 498.94,151.94 499.38,152.04 499.81,152.17 500.25,152.32 500.69,152.5 501.12,152.7 501.56,152.9 502,153.12 502.44,153.34 502.88,153.56 503.31,153.78 503.75,153.98 504.19,154.17 504.62,154.35 505.06,154.5 505.5,154.62 505.95,154.72 506.42,154.81 506.91,154.89 507.41,154.95 507.92,155.01 508.43,155.06 508.94,155.1 509.44,155.13 509.92,155.16 510.39,155.19 510.83,155.21 511.24,155.23 511.62,155.25 511.96,155.27 512.25,155.28 512.5,155.31" fill="none" stroke="#1a1a1a" stroke-width="1.25" stroke-linejoin="round" stroke-linecap="round"/>
<line x1="441.1" y1="223.12" x2="443.9" y2="223.12" stroke="#1a1a1a" stroke-width="1.5"/>
<line x1="455.1" y1="210.79" x2="457.9" y2="210.79" stroke="#1a1a1a" stroke-width="1.5"/>
<line x1="469.1" y1="180.65" x2="471.9" y2="180.65" stroke="#1a1a1a" stroke-width="1.5"/>
<line x1="483.1" y1="159.41" x2="485.9" y2="159.41" stroke="#1a1a1a" stroke-width="1.5"/>
<line x1="498.5" y1="154.99" x2="498.5" y2="156.99" stroke="#1a1a1a" stroke-width="0.7"/>
<line x1="497.2" y1="154.99" x2="499.8" y2="154.99" stroke="#1a1a1a" stroke-width="0.7"/>
<line x1="497.2" y1="156.99" x2="499.8" y2="156.99" stroke="#1a1a1a" stroke-width="0.7"/>
<line x1="497.1" y1="155.99" x2="499.9" y2="155.99" stroke="#1a1a1a" stroke-width="1.5"/>
<line x1="512.5" y1="154.99" x2="512.5" y2="156.99" stroke="#1a1a1a" stroke-width="0.7"/>
<line x1="511.2" y1="154.99" x2="513.8" y2="154.99" stroke="#1a1a1a" stroke-width="0.7"/>
<line x1="511.2" y1="156.99" x2="513.8" y2="156.99" stroke="#1a1a1a" stroke-width="0.7"/>
<line x1="511.1" y1="155.99" x2="513.9" y2="155.99" stroke="#1a1a1a" stroke-width="1.5"/>
<line x1="472.5" y1="202" x2="480.5" y2="202" stroke="#dc3034" stroke-width="1"/>
<text x="483.1" y="204.6" font-size="7.4">VH298</text>
<line x1="472.5" y1="214.2" x2="480.5" y2="214.2" stroke="#1a1a1a" stroke-width="1.2"/>
<text x="483.1" y="212.8" font-size="7.4">VH298 +</text>
<text x="483.1" y="220.7" font-size="7.4">PROTAC</text>
</g>
<g id="panelD">
<text x="5" y="272.6" font-size="10" font-weight="bold" style="stroke-width:0.45px">D</text>
<text x="70.75" y="280.7" font-size="7.4" text-anchor="middle">MDA-MB-231</text>
<line x1="32.5" y1="286.3" x2="32.5" y2="359" stroke="#231f20" stroke-width="1"/>
<line x1="30.3" y1="358.25" x2="32.5" y2="358.25" stroke="#231f20" stroke-width="1"/>
<text x="29.3" y="360.91" font-size="7.4" text-anchor="end">0</text>
<line x1="30.3" y1="345.35" x2="32.5" y2="345.35" stroke="#231f20" stroke-width="1"/>
<text x="29.3" y="348.01" font-size="7.4" text-anchor="end">0.5</text>
<line x1="30.3" y1="332.45" x2="32.5" y2="332.45" stroke="#231f20" stroke-width="1"/>
<text x="29.3" y="335.11" font-size="7.4" text-anchor="end">1.0</text>
<line x1="30.3" y1="319.55" x2="32.5" y2="319.55" stroke="#231f20" stroke-width="1"/>
<text x="29.3" y="322.21" font-size="7.4" text-anchor="end">1.5</text>
<line x1="30.3" y1="306.65" x2="32.5" y2="306.65" stroke="#231f20" stroke-width="1"/>
<text x="29.3" y="309.31" font-size="7.4" text-anchor="end">2.0</text>
<line x1="30.3" y1="293.75" x2="32.5" y2="293.75" stroke="#231f20" stroke-width="1"/>
<text x="29.3" y="296.41" font-size="7.4" text-anchor="end">2.5</text>
<line x1="32" y1="358.5" x2="105.4" y2="358.5" stroke="#231f20" stroke-width="1"/>
<line x1="32.5" y1="358.5" x2="32.5" y2="360.7" stroke="#231f20" stroke-width="1"/>
<text x="32.5" y="368.25" font-size="7.4" text-anchor="middle">0</text>
<line x1="56.6" y1="358.5" x2="56.6" y2="360.7" stroke="#231f20" stroke-width="1"/>
<text x="56.6" y="368.25" font-size="7.4" text-anchor="middle">24</text>
<line x1="80.6" y1="358.5" x2="80.6" y2="360.7" stroke="#231f20" stroke-width="1"/>
<text x="80.6" y="368.25" font-size="7.4" text-anchor="middle">48</text>
<line x1="104.6" y1="358.5" x2="104.6" y2="360.7" stroke="#231f20" stroke-width="1"/>
<text x="104.6" y="368.25" font-size="7.4" text-anchor="middle">72</text>
<text x="68.85" y="378.2" font-size="7.4" text-anchor="middle">Time (h)</text>
<text x="13.8" y="322.5" font-size="7.4" text-anchor="middle" transform="rotate(-90 13.8 322.5)">Mean OD (562 nm)</text>
<polyline points="32.5,350.51 56.6,342 80.6,324.97 104.6,297.62" fill="none" stroke="#7f8a8c" stroke-width="1.25" stroke-linejoin="round" stroke-linecap="round"/>
<line x1="31.2" y1="350.51" x2="33.8" y2="350.51" stroke="#7f8a8c" stroke-width="0.9"/>
<line x1="55.3" y1="342" x2="57.9" y2="342" stroke="#7f8a8c" stroke-width="0.9"/>
<line x1="79.3" y1="324.97" x2="81.9" y2="324.97" stroke="#7f8a8c" stroke-width="0.9"/>
<line x1="104.6" y1="296.42" x2="104.6" y2="298.82" stroke="#7f8a8c" stroke-width="0.6"/>
<line x1="103.3" y1="296.42" x2="105.9" y2="296.42" stroke="#7f8a8c" stroke-width="0.6"/>
<line x1="103.3" y1="298.82" x2="105.9" y2="298.82" stroke="#7f8a8c" stroke-width="0.6"/>
<line x1="103.3" y1="297.62" x2="105.9" y2="297.62" stroke="#7f8a8c" stroke-width="0.9"/>
<polyline points="32.5,350.51 56.6,341.74 80.6,324.71 104.6,295.04" fill="none" stroke="#2e7d32" stroke-width="1.25" stroke-linejoin="round" stroke-linecap="round"/>
<line x1="31.2" y1="350.51" x2="33.8" y2="350.51" stroke="#2e7d32" stroke-width="0.9"/>
<line x1="55.3" y1="341.74" x2="57.9" y2="341.74" stroke="#2e7d32" stroke-width="0.9"/>
<line x1="80.6" y1="323.91" x2="80.6" y2="325.51" stroke="#2e7d32" stroke-width="0.6"/>
<line x1="79.3" y1="323.91" x2="81.9" y2="323.91" stroke="#2e7d32" stroke-width="0.6"/>
<line x1="79.3" y1="325.51" x2="81.9" y2="325.51" stroke="#2e7d32" stroke-width="0.6"/>
<line x1="79.3" y1="324.71" x2="81.9" y2="324.71" stroke="#2e7d32" stroke-width="0.9"/>
<line x1="104.6" y1="292.04" x2="104.6" y2="298.04" stroke="#2e7d32" stroke-width="0.6"/>
<line x1="103.3" y1="292.04" x2="105.9" y2="292.04" stroke="#2e7d32" stroke-width="0.6"/>
<line x1="103.3" y1="298.04" x2="105.9" y2="298.04" stroke="#2e7d32" stroke-width="0.6"/>
<line x1="103.3" y1="295.04" x2="105.9" y2="295.04" stroke="#2e7d32" stroke-width="0.9"/>
<polyline points="32.5,350.51 56.6,342 80.6,325.23 104.6,301.49" fill="none" stroke="#e8792b" stroke-width="1.25" stroke-linejoin="round" stroke-linecap="round"/>
<line x1="31.2" y1="350.51" x2="33.8" y2="350.51" stroke="#e8792b" stroke-width="0.9"/>
<line x1="56.6" y1="341.2" x2="56.6" y2="342.8" stroke="#e8792b" stroke-width="0.6"/>
<line x1="55.3" y1="341.2" x2="57.9" y2="341.2" stroke="#e8792b" stroke-width="0.6"/>
<line x1="55.3" y1="342.8" x2="57.9" y2="342.8" stroke="#e8792b" stroke-width="0.6"/>
<line x1="55.3" y1="342" x2="57.9" y2="342" stroke="#e8792b" stroke-width="0.9"/>
<line x1="80.6" y1="324.43" x2="80.6" y2="326.03" stroke="#e8792b" stroke-width="0.6"/>
<line x1="79.3" y1="324.43" x2="81.9" y2="324.43" stroke="#e8792b" stroke-width="0.6"/>
<line x1="79.3" y1="326.03" x2="81.9" y2="326.03" stroke="#e8792b" stroke-width="0.6"/>
<line x1="79.3" y1="325.23" x2="81.9" y2="325.23" stroke="#e8792b" stroke-width="0.9"/>
<line x1="104.6" y1="299.89" x2="104.6" y2="303.09" stroke="#e8792b" stroke-width="0.6"/>
<line x1="103.3" y1="299.89" x2="105.9" y2="299.89" stroke="#e8792b" stroke-width="0.6"/>
<line x1="103.3" y1="303.09" x2="105.9" y2="303.09" stroke="#e8792b" stroke-width="0.6"/>
<line x1="103.3" y1="301.49" x2="105.9" y2="301.49" stroke="#e8792b" stroke-width="0.9"/>
<polyline points="32.5,350.51 56.6,354.38 80.6,357.73 104.6,357.48" fill="none" stroke="#383680" stroke-width="1.25" stroke-linejoin="round" stroke-linecap="round"/>
<line x1="31.2" y1="350.51" x2="33.8" y2="350.51" stroke="#383680" stroke-width="0.9"/>
<line x1="56.6" y1="353.78" x2="56.6" y2="354.98" stroke="#383680" stroke-width="0.6"/>
<line x1="55.3" y1="353.78" x2="57.9" y2="353.78" stroke="#383680" stroke-width="0.6"/>
<line x1="55.3" y1="354.98" x2="57.9" y2="354.98" stroke="#383680" stroke-width="0.6"/>
<line x1="55.3" y1="354.38" x2="57.9" y2="354.38" stroke="#383680" stroke-width="0.9"/>
<line x1="79.3" y1="357.73" x2="81.9" y2="357.73" stroke="#383680" stroke-width="0.9"/>
<line x1="104.6" y1="356.88" x2="104.6" y2="358.08" stroke="#383680" stroke-width="0.6"/>
<line x1="103.3" y1="356.88" x2="105.9" y2="356.88" stroke="#383680" stroke-width="0.6"/>
<line x1="103.3" y1="358.08" x2="105.9" y2="358.08" stroke="#383680" stroke-width="0.6"/>
<line x1="103.3" y1="357.48" x2="105.9" y2="357.48" stroke="#383680" stroke-width="0.9"/>
<line x1="35" y1="294.4" x2="42.5" y2="294.4" stroke="#383680" stroke-width="1.3"/>
<text x="45" y="296.9" font-size="7.4">PROTAC</text>
<line x1="35" y1="303.4" x2="42.5" y2="303.4" stroke="#2e7d32" stroke-width="1.3"/>
<text x="45" y="305.9" font-size="7.4">RG7112</text>
<line x1="35" y1="312.4" x2="42.5" y2="312.4" stroke="#e8792b" stroke-width="1.3"/>
<text x="45" y="314.9" font-size="7.4">RG7112D</text>
<line x1="35" y1="321.4" x2="42.5" y2="321.4" stroke="#7f8a8c" stroke-width="1.3"/>
<text x="45" y="323.9" font-size="7.4">DMSO</text>
<line x1="104.5" y1="306.3" x2="104.5" y2="356.3" stroke="#959595" stroke-width="1.4"/>
<text x="108.8" y="335.2" font-size="7.6" text-anchor="middle">*</text>
<text x="75" y="394.6" font-size="7.4" text-anchor="middle">MDA-MB-436</text>
<line x1="32.5" y1="398.5" x2="32.5" y2="473" stroke="#231f20" stroke-width="1"/>
<line x1="30.3" y1="472.75" x2="32.5" y2="472.75" stroke="#231f20" stroke-width="1"/>
<text x="29.3" y="475.41" font-size="7.4" text-anchor="end">0</text>
<line x1="30.3" y1="462.29" x2="32.5" y2="462.29" stroke="#231f20" stroke-width="1"/>
<text x="29.3" y="464.95" font-size="7.4" text-anchor="end">0.2</text>
<line x1="30.3" y1="451.83" x2="32.5" y2="451.83" stroke="#231f20" stroke-width="1"/>
<text x="29.3" y="454.49" font-size="7.4" text-anchor="end">0.4</text>
<line x1="30.3" y1="441.37" x2="32.5" y2="441.37" stroke="#231f20" stroke-width="1"/>
<text x="29.3" y="444.03" font-size="7.4" text-anchor="end">0.6</text>
<line x1="30.3" y1="430.91" x2="32.5" y2="430.91" stroke="#231f20" stroke-width="1"/>
<text x="29.3" y="433.57" font-size="7.4" text-anchor="end">0.8</text>
<line x1="30.3" y1="420.45" x2="32.5" y2="420.45" stroke="#231f20" stroke-width="1"/>
<text x="29.3" y="423.11" font-size="7.4" text-anchor="end">1.0</text>
<line x1="30.3" y1="409.99" x2="32.5" y2="409.99" stroke="#231f20" stroke-width="1"/>
<text x="29.3" y="412.65" font-size="7.4" text-anchor="end">1.2</text>
<line x1="30.3" y1="399.53" x2="32.5" y2="399.53" stroke="#231f20" stroke-width="1"/>
<text x="29.3" y="402.19" font-size="7.4" text-anchor="end">1.4</text>
<line x1="32" y1="472.5" x2="105.4" y2="472.5" stroke="#231f20" stroke-width="1"/>
<line x1="32.5" y1="472.5" x2="32.5" y2="474.7" stroke="#231f20" stroke-width="1"/>
<text x="32.5" y="483.25" font-size="7.4" text-anchor="middle">0</text>
<line x1="56.6" y1="472.5" x2="56.6" y2="474.7" stroke="#231f20" stroke-width="1"/>
<text x="56.6" y="483.25" font-size="7.4" text-anchor="middle">24</text>
<line x1="80.6" y1="472.5" x2="80.6" y2="474.7" stroke="#231f20" stroke-width="1"/>
<text x="80.6" y="483.25" font-size="7.4" text-anchor="middle">48</text>
<line x1="104.6" y1="472.5" x2="104.6" y2="474.7" stroke="#231f20" stroke-width="1"/>
<text x="104.6" y="483.25" font-size="7.4" text-anchor="middle">72</text>
<text x="68.85" y="492.6" font-size="7.4" text-anchor="middle">Time (h)</text>
<text x="13.8" y="437.5" font-size="7.4" text-anchor="middle" transform="rotate(-90 13.8 437.5)">Mean OD (562 nm)</text>
<polyline points="32.5,458.11 56.6,450.26 80.6,435.09 104.6,411.56" fill="none" stroke="#7f8a8c" stroke-width="1.25" stroke-linejoin="round" stroke-linecap="round"/>
<line x1="31.2" y1="458.11" x2="33.8" y2="458.11" stroke="#7f8a8c" stroke-width="0.9"/>
<line x1="55.3" y1="450.26" x2="57.9" y2="450.26" stroke="#7f8a8c" stroke-width="0.9"/>
<line x1="79.3" y1="435.09" x2="81.9" y2="435.09" stroke="#7f8a8c" stroke-width="0.9"/>
<line x1="104.6" y1="410.56" x2="104.6" y2="412.56" stroke="#7f8a8c" stroke-width="0.6"/>
<line x1="103.3" y1="410.56" x2="105.9" y2="410.56" stroke="#7f8a8c" stroke-width="0.6"/>
<line x1="103.3" y1="412.56" x2="105.9" y2="412.56" stroke="#7f8a8c" stroke-width="0.6"/>
<line x1="103.3" y1="411.56" x2="105.9" y2="411.56" stroke="#7f8a8c" stroke-width="0.9"/>
<polyline points="32.5,458.11 56.6,450.26 80.6,435.09 104.6,412.08" fill="none" stroke="#2e7d32" stroke-width="1.25" stroke-linejoin="round" stroke-linecap="round"/>
<line x1="31.2" y1="458.11" x2="33.8" y2="458.11" stroke="#2e7d32" stroke-width="0.9"/>
<line x1="55.3" y1="450.26" x2="57.9" y2="450.26" stroke="#2e7d32" stroke-width="0.9"/>
<line x1="80.6" y1="434.29" x2="80.6" y2="435.89" stroke="#2e7d32" stroke-width="0.6"/>
<line x1="79.3" y1="434.29" x2="81.9" y2="434.29" stroke="#2e7d32" stroke-width="0.6"/>
<line x1="79.3" y1="435.89" x2="81.9" y2="435.89" stroke="#2e7d32" stroke-width="0.6"/>
<line x1="79.3" y1="435.09" x2="81.9" y2="435.09" stroke="#2e7d32" stroke-width="0.9"/>
<line x1="104.6" y1="411.08" x2="104.6" y2="413.08" stroke="#2e7d32" stroke-width="0.6"/>
<line x1="103.3" y1="411.08" x2="105.9" y2="411.08" stroke="#2e7d32" stroke-width="0.6"/>
<line x1="103.3" y1="413.08" x2="105.9" y2="413.08" stroke="#2e7d32" stroke-width="0.6"/>
<line x1="103.3" y1="412.08" x2="105.9" y2="412.08" stroke="#2e7d32" stroke-width="0.9"/>
<polyline points="32.5,458.11 56.6,450.26 80.6,434.57 104.6,410.51" fill="none" stroke="#e8792b" stroke-width="1.25" stroke-linejoin="round" stroke-linecap="round"/>
<line x1="31.2" y1="458.11" x2="33.8" y2="458.11" stroke="#e8792b" stroke-width="0.9"/>
<line x1="56.6" y1="449.46" x2="56.6" y2="451.06" stroke="#e8792b" stroke-width="0.6"/>
<line x1="55.3" y1="449.46" x2="57.9" y2="449.46" stroke="#e8792b" stroke-width="0.6"/>
<line x1="55.3" y1="451.06" x2="57.9" y2="451.06" stroke="#e8792b" stroke-width="0.6"/>
<line x1="55.3" y1="450.26" x2="57.9" y2="450.26" stroke="#e8792b" stroke-width="0.9"/>
<line x1="80.6" y1="432.97" x2="80.6" y2="436.17" stroke="#e8792b" stroke-width="0.6"/>
<line x1="79.3" y1="432.97" x2="81.9" y2="432.97" stroke="#e8792b" stroke-width="0.6"/>
<line x1="79.3" y1="436.17" x2="81.9" y2="436.17" stroke="#e8792b" stroke-width="0.6"/>
<line x1="79.3" y1="434.57" x2="81.9" y2="434.57" stroke="#e8792b" stroke-width="0.9"/>
<line x1="104.6" y1="408.11" x2="104.6" y2="412.91" stroke="#e8792b" stroke-width="0.6"/>
<line x1="103.3" y1="408.11" x2="105.9" y2="408.11" stroke="#e8792b" stroke-width="0.6"/>
<line x1="103.3" y1="412.91" x2="105.9" y2="412.91" stroke="#e8792b" stroke-width="0.6"/>
<line x1="103.3" y1="410.51" x2="105.9" y2="410.51" stroke="#e8792b" stroke-width="0.9"/>
<polyline points="32.5,458.11 56.6,463.34 80.6,469.09 104.6,472.23" fill="none" stroke="#383680" stroke-width="1.25" stroke-linejoin="round" stroke-linecap="round"/>
<line x1="31.2" y1="458.11" x2="33.8" y2="458.11" stroke="#383680" stroke-width="0.9"/>
<line x1="56.6" y1="462.54" x2="56.6" y2="464.14" stroke="#383680" stroke-width="0.6"/>
<line x1="55.3" y1="462.54" x2="57.9" y2="462.54" stroke="#383680" stroke-width="0.6"/>
<line x1="55.3" y1="464.14" x2="57.9" y2="464.14" stroke="#383680" stroke-width="0.6"/>
<line x1="55.3" y1="463.34" x2="57.9" y2="463.34" stroke="#383680" stroke-width="0.9"/>
<line x1="80.6" y1="468.29" x2="80.6" y2="469.89" stroke="#383680" stroke-width="0.6"/>
<line x1="79.3" y1="468.29" x2="81.9" y2="468.29" stroke="#383680" stroke-width="0.6"/>
<line x1="79.3" y1="469.89" x2="81.9" y2="469.89" stroke="#383680" stroke-width="0.6"/>
<line x1="79.3" y1="469.09" x2="81.9" y2="469.09" stroke="#383680" stroke-width="0.9"/>
<line x1="104.6" y1="471.73" x2="104.6" y2="472.73" stroke="#383680" stroke-width="0.6"/>
<line x1="103.3" y1="471.73" x2="105.9" y2="471.73" stroke="#383680" stroke-width="0.6"/>
<line x1="103.3" y1="472.73" x2="105.9" y2="472.73" stroke="#383680" stroke-width="0.6"/>
<line x1="103.3" y1="472.23" x2="105.9" y2="472.23" stroke="#383680" stroke-width="0.9"/>
<line x1="35" y1="406.3" x2="42.5" y2="406.3" stroke="#383680" stroke-width="1.3"/>
<text x="45" y="408.8" font-size="7.4">PROTAC</text>
<line x1="35" y1="415.3" x2="42.5" y2="415.3" stroke="#2e7d32" stroke-width="1.3"/>
<text x="45" y="417.8" font-size="7.4">RG7112</text>
<line x1="35" y1="424.3" x2="42.5" y2="424.3" stroke="#e8792b" stroke-width="1.3"/>
<text x="45" y="426.8" font-size="7.4">RG7112D</text>
<line x1="35" y1="433.3" x2="42.5" y2="433.3" stroke="#7f8a8c" stroke-width="1.3"/>
<text x="45" y="435.8" font-size="7.4">DMSO</text>
<line x1="102.5" y1="420" x2="102.5" y2="466.3" stroke="#3a3a3a" stroke-width="0.9"/>
<text x="107.2" y="447.7" font-size="7.6" text-anchor="middle">*</text>
</g>
<g id="panelE">
<text x="122.5" y="272.6" font-size="10" font-weight="bold" style="stroke-width:0.45px">E</text>
<text x="181.3" y="280.7" font-size="7.4" text-anchor="middle">MDA-MB-231</text>
<line x1="143.5" y1="286.3" x2="143.5" y2="358" stroke="#231f20" stroke-width="1"/>
<line x1="141.3" y1="357.5" x2="143.5" y2="357.5" stroke="#231f20" stroke-width="1"/>
<text x="140.3" y="360.16" font-size="7.4" text-anchor="end">0</text>
<line x1="141.3" y1="335.4" x2="143.5" y2="335.4" stroke="#231f20" stroke-width="1"/>
<text x="140.3" y="338.06" font-size="7.4" text-anchor="end">20</text>
<line x1="141.3" y1="313.3" x2="143.5" y2="313.3" stroke="#231f20" stroke-width="1"/>
<text x="140.3" y="315.96" font-size="7.4" text-anchor="end">40</text>
<line x1="141.3" y1="291.2" x2="143.5" y2="291.2" stroke="#231f20" stroke-width="1"/>
<text x="140.3" y="293.86" font-size="7.4" text-anchor="end">60</text>
<line x1="143" y1="357.5" x2="219.5" y2="357.5" stroke="#231f20" stroke-width="1"/>
<rect x="146.4" y="354.85" width="6.2" height="2.65" fill="#a9a294" stroke="#1a1a1a" stroke-width="0.55"/>
<circle cx="147.7" cy="354.65" r="1.0" fill="#fff" stroke="#1a1a1a" stroke-width="0.7"/>
<circle cx="149.5" cy="355.2" r="1.0" fill="#fff" stroke="#1a1a1a" stroke-width="0.7"/>
<circle cx="151.3" cy="354.65" r="1.0" fill="#fff" stroke="#1a1a1a" stroke-width="0.7"/>
<line x1="149.5" y1="357.5" x2="149.5" y2="359.5" stroke="#231f20" stroke-width="0.7"/>
<text x="152.7" y="365.5" font-size="7.2" text-anchor="end" transform="rotate(-45 152.7 365.5)">0</text>
<rect x="154.5" y="355.07" width="6.2" height="2.43" fill="#a9a294" stroke="#1a1a1a" stroke-width="0.55"/>
<circle cx="155.8" cy="354.87" r="1.0" fill="#fff" stroke="#1a1a1a" stroke-width="0.7"/>
<circle cx="157.6" cy="355.42" r="1.0" fill="#fff" stroke="#1a1a1a" stroke-width="0.7"/>
<circle cx="159.4" cy="354.87" r="1.0" fill="#fff" stroke="#1a1a1a" stroke-width="0.7"/>
<line x1="157.6" y1="357.5" x2="157.6" y2="359.5" stroke="#231f20" stroke-width="0.7"/>
<text x="159.8" y="365.5" font-size="7.2" text-anchor="end" transform="rotate(-45 159.8 365.5)">24</text>
<rect x="162.6" y="354.63" width="6.2" height="2.87" fill="#a9a294" stroke="#1a1a1a" stroke-width="0.55"/>
<circle cx="163.9" cy="354.43" r="1.0" fill="#fff" stroke="#1a1a1a" stroke-width="0.7"/>
<circle cx="165.7" cy="354.98" r="1.0" fill="#fff" stroke="#1a1a1a" stroke-width="0.7"/>
<circle cx="167.5" cy="354.43" r="1.0" fill="#fff" stroke="#1a1a1a" stroke-width="0.7"/>
<line x1="165.7" y1="357.5" x2="165.7" y2="359.5" stroke="#231f20" stroke-width="0.7"/>
<text x="167.9" y="365.5" font-size="7.2" text-anchor="end" transform="rotate(-45 167.9 365.5)">48</text>
<rect x="170.7" y="354.85" width="6.2" height="2.65" fill="#a9a294" stroke="#1a1a1a" stroke-width="0.55"/>
<circle cx="172" cy="354.65" r="1.0" fill="#fff" stroke="#1a1a1a" stroke-width="0.7"/>
<circle cx="173.8" cy="355.2" r="1.0" fill="#fff" stroke="#1a1a1a" stroke-width="0.7"/>
<circle cx="175.6" cy="354.65" r="1.0" fill="#fff" stroke="#1a1a1a" stroke-width="0.7"/>
<line x1="173.8" y1="357.5" x2="173.8" y2="359.5" stroke="#231f20" stroke-width="0.7"/>
<text x="176" y="365.5" font-size="7.2" text-anchor="end" transform="rotate(-45 176 365.5)">72</text>
<rect x="185.2" y="354.85" width="6.2" height="2.65" fill="#474492" stroke="#1a1a1a" stroke-width="0.55"/>
<circle cx="186.5" cy="354.65" r="1.0" fill="#fff" stroke="#1a1a1a" stroke-width="0.7"/>
<circle cx="188.3" cy="355.2" r="1.0" fill="#fff" stroke="#1a1a1a" stroke-width="0.7"/>
<circle cx="190.1" cy="354.65" r="1.0" fill="#fff" stroke="#1a1a1a" stroke-width="0.7"/>
<line x1="188.3" y1="357.5" x2="188.3" y2="359.5" stroke="#231f20" stroke-width="0.7"/>
<text x="191.5" y="365.5" font-size="7.2" text-anchor="end" transform="rotate(-45 191.5 365.5)">0</text>
<rect x="193.3" y="326.56" width="6.2" height="30.94" fill="#474492" stroke="#1a1a1a" stroke-width="0.55"/>
<circle cx="194.6" cy="326.36" r="1.0" fill="#fff" stroke="#1a1a1a" stroke-width="0.7"/>
<circle cx="196.4" cy="326.91" r="1.0" fill="#fff" stroke="#1a1a1a" stroke-width="0.7"/>
<circle cx="198.2" cy="326.36" r="1.0" fill="#fff" stroke="#1a1a1a" stroke-width="0.7"/>
<line x1="196.4" y1="357.5" x2="196.4" y2="359.5" stroke="#231f20" stroke-width="0.7"/>
<text x="198.6" y="365.5" font-size="7.2" text-anchor="end" transform="rotate(-45 198.6 365.5)">24</text>
<rect x="201.4" y="301.14" width="6.2" height="56.35" fill="#474492" stroke="#1a1a1a" stroke-width="0.55"/>
<circle cx="202.7" cy="300.94" r="1.0" fill="#fff" stroke="#1a1a1a" stroke-width="0.7"/>
<circle cx="204.5" cy="301.5" r="1.0" fill="#fff" stroke="#1a1a1a" stroke-width="0.7"/>
<circle cx="206.3" cy="300.94" r="1.0" fill="#fff" stroke="#1a1a1a" stroke-width="0.7"/>
<line x1="204.5" y1="357.5" x2="204.5" y2="359.5" stroke="#231f20" stroke-width="0.7"/>
<text x="206.7" y="365.5" font-size="7.2" text-anchor="end" transform="rotate(-45 206.7 365.5)">48</text>
<rect x="209.5" y="291.75" width="6.2" height="65.75" fill="#474492" stroke="#1a1a1a" stroke-width="0.55"/>
<circle cx="210.8" cy="291.55" r="1.0" fill="#fff" stroke="#1a1a1a" stroke-width="0.7"/>
<circle cx="212.6" cy="292.1" r="1.0" fill="#fff" stroke="#1a1a1a" stroke-width="0.7"/>
<circle cx="214.4" cy="291.55" r="1.0" fill="#fff" stroke="#1a1a1a" stroke-width="0.7"/>
<line x1="212.6" y1="357.5" x2="212.6" y2="359.5" stroke="#231f20" stroke-width="0.7"/>
<text x="214.8" y="365.5" font-size="7.2" text-anchor="end" transform="rotate(-45 214.8 365.5)">72</text>
<text x="196.4" y="322.76" font-size="7.6" text-anchor="middle">*</text>
<text x="204.5" y="297.35" font-size="7.6" text-anchor="middle">*</text>
<text x="212.6" y="287.95" font-size="7.6" text-anchor="middle">*</text>
<rect x="146.8" y="292.6" width="5.2" height="5.2" fill="#a9a294" stroke="#1a1a1a" stroke-width="0.55"/>
<rect x="146.8" y="302.2" width="5.2" height="5.2" fill="#474492" stroke="#1a1a1a" stroke-width="0.55"/>
<text x="154.6" y="298" font-size="7.4">DMSO</text>
<text x="154.6" y="307.6" font-size="7.4">PROTAC</text>
<text x="126.6" y="324.5" font-size="7.4" text-anchor="middle" transform="rotate(-90 126.6 324.5)">% Annexin V<tspan font-size="4.6" dy="-3">+</tspan></text>
<text x="181" y="378.8" font-size="7.4" text-anchor="middle">Time (h)</text>
<text x="182.8" y="394.9" font-size="7.4" text-anchor="middle">MDA-MB-436</text>
<line x1="143.5" y1="398.5" x2="143.5" y2="473" stroke="#231f20" stroke-width="1"/>
<line x1="141.3" y1="472.5" x2="143.5" y2="472.5" stroke="#231f20" stroke-width="1"/>
<text x="140.3" y="475.16" font-size="7.4" text-anchor="end">0</text>
<line x1="141.3" y1="454.5" x2="143.5" y2="454.5" stroke="#231f20" stroke-width="1"/>
<text x="140.3" y="457.16" font-size="7.4" text-anchor="end">20</text>
<line x1="141.3" y1="436.5" x2="143.5" y2="436.5" stroke="#231f20" stroke-width="1"/>
<text x="140.3" y="439.16" font-size="7.4" text-anchor="end">40</text>
<line x1="141.3" y1="418.5" x2="143.5" y2="418.5" stroke="#231f20" stroke-width="1"/>
<text x="140.3" y="421.16" font-size="7.4" text-anchor="end">60</text>
<line x1="141.3" y1="400.5" x2="143.5" y2="400.5" stroke="#231f20" stroke-width="1"/>
<text x="140.3" y="403.16" font-size="7.4" text-anchor="end">80</text>
<line x1="143" y1="472.5" x2="219.5" y2="472.5" stroke="#231f20" stroke-width="1"/>
<rect x="146.4" y="465.3" width="6.2" height="7.2" fill="#a9a294" stroke="#1a1a1a" stroke-width="0.55"/>
<circle cx="147.7" cy="465.1" r="1.0" fill="#fff" stroke="#1a1a1a" stroke-width="0.7"/>
<circle cx="149.5" cy="465.65" r="1.0" fill="#fff" stroke="#1a1a1a" stroke-width="0.7"/>
<circle cx="151.3" cy="465.1" r="1.0" fill="#fff" stroke="#1a1a1a" stroke-width="0.7"/>
<line x1="149.5" y1="472.5" x2="149.5" y2="474.5" stroke="#231f20" stroke-width="0.7"/>
<text x="152.7" y="480.5" font-size="7.2" text-anchor="end" transform="rotate(-45 152.7 480.5)">0</text>
<rect x="154.5" y="465.66" width="6.2" height="6.84" fill="#a9a294" stroke="#1a1a1a" stroke-width="0.55"/>
<circle cx="155.8" cy="465.46" r="1.0" fill="#fff" stroke="#1a1a1a" stroke-width="0.7"/>
<circle cx="157.6" cy="466.01" r="1.0" fill="#fff" stroke="#1a1a1a" stroke-width="0.7"/>
<circle cx="159.4" cy="465.46" r="1.0" fill="#fff" stroke="#1a1a1a" stroke-width="0.7"/>
<line x1="157.6" y1="472.5" x2="157.6" y2="474.5" stroke="#231f20" stroke-width="0.7"/>
<text x="159.8" y="480.5" font-size="7.2" text-anchor="end" transform="rotate(-45 159.8 480.5)">24</text>
<rect x="162.6" y="465.3" width="6.2" height="7.2" fill="#a9a294" stroke="#1a1a1a" stroke-width="0.55"/>
<circle cx="163.9" cy="465.1" r="1.0" fill="#fff" stroke="#1a1a1a" stroke-width="0.7"/>
<circle cx="165.7" cy="465.65" r="1.0" fill="#fff" stroke="#1a1a1a" stroke-width="0.7"/>
<circle cx="167.5" cy="465.1" r="1.0" fill="#fff" stroke="#1a1a1a" stroke-width="0.7"/>
<line x1="165.7" y1="472.5" x2="165.7" y2="474.5" stroke="#231f20" stroke-width="0.7"/>
<text x="167.9" y="480.5" font-size="7.2" text-anchor="end" transform="rotate(-45 167.9 480.5)">48</text>
<rect x="170.7" y="465.48" width="6.2" height="7.02" fill="#a9a294" stroke="#1a1a1a" stroke-width="0.55"/>
<circle cx="172" cy="465.28" r="1.0" fill="#fff" stroke="#1a1a1a" stroke-width="0.7"/>
<circle cx="173.8" cy="465.83" r="1.0" fill="#fff" stroke="#1a1a1a" stroke-width="0.7"/>
<circle cx="175.6" cy="465.28" r="1.0" fill="#fff" stroke="#1a1a1a" stroke-width="0.7"/>
<line x1="173.8" y1="472.5" x2="173.8" y2="474.5" stroke="#231f20" stroke-width="0.7"/>
<text x="176" y="480.5" font-size="7.2" text-anchor="end" transform="rotate(-45 176 480.5)">72</text>
<rect x="185.2" y="466.2" width="6.2" height="6.3" fill="#474492" stroke="#1a1a1a" stroke-width="0.55"/>
<circle cx="186.5" cy="466" r="1.0" fill="#fff" stroke="#1a1a1a" stroke-width="0.7"/>
<circle cx="188.3" cy="466.55" r="1.0" fill="#fff" stroke="#1a1a1a" stroke-width="0.7"/>
<circle cx="190.1" cy="466" r="1.0" fill="#fff" stroke="#1a1a1a" stroke-width="0.7"/>
<line x1="188.3" y1="472.5" x2="188.3" y2="474.5" stroke="#231f20" stroke-width="0.7"/>
<text x="191.5" y="480.5" font-size="7.2" text-anchor="end" transform="rotate(-45 191.5 480.5)">0</text>
<rect x="193.3" y="451.8" width="6.2" height="20.7" fill="#474492" stroke="#1a1a1a" stroke-width="0.55"/>
<circle cx="194.6" cy="451.6" r="1.0" fill="#fff" stroke="#1a1a1a" stroke-width="0.7"/>
<circle cx="196.4" cy="452.15" r="1.0" fill="#fff" stroke="#1a1a1a" stroke-width="0.7"/>
<circle cx="198.2" cy="451.6" r="1.0" fill="#fff" stroke="#1a1a1a" stroke-width="0.7"/>
<line x1="196.4" y1="472.5" x2="196.4" y2="474.5" stroke="#231f20" stroke-width="0.7"/>
<text x="198.6" y="480.5" font-size="7.2" text-anchor="end" transform="rotate(-45 198.6 480.5)">24</text>
<rect x="201.4" y="409.5" width="6.2" height="63" fill="#474492" stroke="#1a1a1a" stroke-width="0.55"/>
<circle cx="202.7" cy="409.3" r="1.0" fill="#fff" stroke="#1a1a1a" stroke-width="0.7"/>
<circle cx="204.5" cy="409.85" r="1.0" fill="#fff" stroke="#1a1a1a" stroke-width="0.7"/>
<circle cx="206.3" cy="409.3" r="1.0" fill="#fff" stroke="#1a1a1a" stroke-width="0.7"/>
<line x1="204.5" y1="472.5" x2="204.5" y2="474.5" stroke="#231f20" stroke-width="0.7"/>
<text x="206.7" y="480.5" font-size="7.2" text-anchor="end" transform="rotate(-45 206.7 480.5)">48</text>
<rect x="209.5" y="409.5" width="6.2" height="63" fill="#474492" stroke="#1a1a1a" stroke-width="0.55"/>
<circle cx="210.8" cy="409.3" r="1.0" fill="#fff" stroke="#1a1a1a" stroke-width="0.7"/>
<circle cx="212.6" cy="409.85" r="1.0" fill="#fff" stroke="#1a1a1a" stroke-width="0.7"/>
<circle cx="214.4" cy="409.3" r="1.0" fill="#fff" stroke="#1a1a1a" stroke-width="0.7"/>
<line x1="212.6" y1="472.5" x2="212.6" y2="474.5" stroke="#231f20" stroke-width="0.7"/>
<text x="214.8" y="480.5" font-size="7.2" text-anchor="end" transform="rotate(-45 214.8 480.5)">72</text>
<text x="196.4" y="448" font-size="7.6" text-anchor="middle">*</text>
<text x="204.5" y="405.7" font-size="7.6" text-anchor="middle">*</text>
<text x="212.6" y="405.7" font-size="7.6" text-anchor="middle">*</text>
<rect x="146.8" y="407.8" width="5.2" height="5.2" fill="#a9a294" stroke="#1a1a1a" stroke-width="0.55"/>
<rect x="146.8" y="417" width="5.2" height="5.2" fill="#474492" stroke="#1a1a1a" stroke-width="0.55"/>
<text x="154.6" y="413.2" font-size="7.4">DMSO</text>
<text x="154.6" y="422.4" font-size="7.4">PROTAC</text>
<text x="126.6" y="440" font-size="7.4" text-anchor="middle" transform="rotate(-90 126.6 440)">% Annexin V<tspan font-size="4.6" dy="-3">+</tspan></text>
<text x="181" y="493" font-size="7.4" text-anchor="middle">Time (h)</text>
</g>
<g id="panelF">
<text x="228" y="272.6" font-size="10" font-weight="bold" style="stroke-width:0.45px">F</text>
<text x="290.75" y="280.7" font-size="7.4" text-anchor="middle">MDA-MB-231</text>
<line x1="262.5" y1="284" x2="262.5" y2="358" stroke="#231f20" stroke-width="1"/>
<line x1="260.3" y1="357.5" x2="262.5" y2="357.5" stroke="#231f20" stroke-width="1"/>
<text x="259.3" y="360.16" font-size="7.4" text-anchor="end">0</text>
<line x1="260.3" y1="333.5" x2="262.5" y2="333.5" stroke="#231f20" stroke-width="1"/>
<text x="259.3" y="336.16" font-size="7.4" text-anchor="end">10</text>
<line x1="260.3" y1="309.5" x2="262.5" y2="309.5" stroke="#231f20" stroke-width="1"/>
<text x="259.3" y="312.16" font-size="7.4" text-anchor="end">20</text>
<line x1="260.3" y1="285.5" x2="262.5" y2="285.5" stroke="#231f20" stroke-width="1"/>
<text x="259.3" y="288.16" font-size="7.4" text-anchor="end">30</text>
<line x1="262" y1="357.5" x2="324.6" y2="357.5" stroke="#231f20" stroke-width="1"/>
<rect x="264.2" y="355.1" width="6.6" height="2.4" fill="#a9a294" stroke="#1a1a1a" stroke-width="0.55"/>
<circle cx="265.7" cy="354.9" r="1.0" fill="#fff" stroke="#1a1a1a" stroke-width="0.7"/>
<circle cx="267.5" cy="355.45" r="1.0" fill="#fff" stroke="#1a1a1a" stroke-width="0.7"/>
<circle cx="269.3" cy="354.9" r="1.0" fill="#fff" stroke="#1a1a1a" stroke-width="0.7"/>
<line x1="267.5" y1="357.5" x2="267.5" y2="359.5" stroke="#231f20" stroke-width="0.7"/>
<text x="270.7" y="365.5" font-size="7.2" text-anchor="end" transform="rotate(-45 270.7 365.5)">0</text>
<rect x="273.1" y="355.1" width="6.6" height="2.4" fill="#a9a294" stroke="#1a1a1a" stroke-width="0.55"/>
<circle cx="274.6" cy="354.9" r="1.0" fill="#fff" stroke="#1a1a1a" stroke-width="0.7"/>
<circle cx="276.4" cy="355.45" r="1.0" fill="#fff" stroke="#1a1a1a" stroke-width="0.7"/>
<circle cx="278.2" cy="354.9" r="1.0" fill="#fff" stroke="#1a1a1a" stroke-width="0.7"/>
<line x1="276.4" y1="357.5" x2="276.4" y2="359.5" stroke="#231f20" stroke-width="0.7"/>
<text x="278.6" y="365.5" font-size="7.2" text-anchor="end" transform="rotate(-45 278.6 365.5)">24</text>
<rect x="282.3" y="354.62" width="6.6" height="2.88" fill="#a9a294" stroke="#1a1a1a" stroke-width="0.55"/>
<circle cx="283.8" cy="354.42" r="1.0" fill="#fff" stroke="#1a1a1a" stroke-width="0.7"/>
<circle cx="285.6" cy="354.97" r="1.0" fill="#fff" stroke="#1a1a1a" stroke-width="0.7"/>
<circle cx="287.4" cy="354.42" r="1.0" fill="#fff" stroke="#1a1a1a" stroke-width="0.7"/>
<line x1="285.6" y1="357.5" x2="285.6" y2="359.5" stroke="#231f20" stroke-width="0.7"/>
<text x="287.8" y="365.5" font-size="7.2" text-anchor="end" transform="rotate(-45 287.8 365.5)">48</text>
<rect x="298" y="355.1" width="6.6" height="2.4" fill="#474492" stroke="#1a1a1a" stroke-width="0.55"/>
<circle cx="299.5" cy="354.9" r="1.0" fill="#fff" stroke="#1a1a1a" stroke-width="0.7"/>
<circle cx="301.3" cy="355.45" r="1.0" fill="#fff" stroke="#1a1a1a" stroke-width="0.7"/>
<circle cx="303.1" cy="354.9" r="1.0" fill="#fff" stroke="#1a1a1a" stroke-width="0.7"/>
<line x1="301.3" y1="357.5" x2="301.3" y2="359.5" stroke="#231f20" stroke-width="0.7"/>
<text x="304.5" y="365.5" font-size="7.2" text-anchor="end" transform="rotate(-45 304.5 365.5)">0</text>
<rect x="306.7" y="320.06" width="6.6" height="37.44" fill="#474492" stroke="#1a1a1a" stroke-width="0.55"/>
<line x1="310" y1="319.06" x2="310" y2="320.06" stroke="#1a1a1a" stroke-width="0.6"/>
<line x1="308.6" y1="319.06" x2="311.4" y2="319.06" stroke="#1a1a1a" stroke-width="0.6"/>
<line x1="308.6" y1="320.06" x2="311.4" y2="320.06" stroke="#1a1a1a" stroke-width="0.6"/>
<circle cx="308.2" cy="319.86" r="1.0" fill="#fff" stroke="#1a1a1a" stroke-width="0.7"/>
<circle cx="310" cy="320.41" r="1.0" fill="#fff" stroke="#1a1a1a" stroke-width="0.7"/>
<circle cx="311.8" cy="319.86" r="1.0" fill="#fff" stroke="#1a1a1a" stroke-width="0.7"/>
<line x1="310" y1="357.5" x2="310" y2="359.5" stroke="#231f20" stroke-width="0.7"/>
<text x="312.2" y="365.5" font-size="7.2" text-anchor="end" transform="rotate(-45 312.2 365.5)">24</text>
<rect x="315.5" y="291.5" width="6.6" height="66" fill="#474492" stroke="#1a1a1a" stroke-width="0.55"/>
<line x1="318.8" y1="289.1" x2="318.8" y2="291.5" stroke="#1a1a1a" stroke-width="0.6"/>
<line x1="317.4" y1="289.1" x2="320.2" y2="289.1" stroke="#1a1a1a" stroke-width="0.6"/>
<line x1="317.4" y1="291.5" x2="320.2" y2="291.5" stroke="#1a1a1a" stroke-width="0.6"/>
<circle cx="317" cy="291.3" r="1.0" fill="#fff" stroke="#1a1a1a" stroke-width="0.7"/>
<circle cx="318.8" cy="291.85" r="1.0" fill="#fff" stroke="#1a1a1a" stroke-width="0.7"/>
<circle cx="320.6" cy="291.3" r="1.0" fill="#fff" stroke="#1a1a1a" stroke-width="0.7"/>
<line x1="318.8" y1="357.5" x2="318.8" y2="359.5" stroke="#231f20" stroke-width="0.7"/>
<text x="321" y="365.5" font-size="7.2" text-anchor="end" transform="rotate(-45 321 365.5)">48</text>
<text x="310" y="317.76" font-size="7.6" text-anchor="middle">*</text>
<text x="318.8" y="287.2" font-size="7.6" text-anchor="middle">*</text>
<rect x="266.3" y="291.6" width="5.4" height="5.4" fill="#a9a294" stroke="#1a1a1a" stroke-width="0.55"/>
<rect x="266.3" y="301.4" width="5.4" height="5.4" fill="#474492" stroke="#1a1a1a" stroke-width="0.55"/>
<text x="274.3" y="297.2" font-size="7.4">DMSO</text>
<text x="274.3" y="307" font-size="7.4">PROTAC</text>
<text x="236.6" y="321.3" font-size="7.4" text-anchor="middle" transform="rotate(-90 236.6 321.3)">Caspase-3 activity</text>
<text x="244.2" y="321.3" font-size="7.4" text-anchor="middle" transform="rotate(-90 244.2 321.3)">(fold change)</text>
<text x="292.5" y="379" font-size="7.4" text-anchor="middle">Time (h)</text>
<text x="292" y="394.9" font-size="7.4" text-anchor="middle">MDA-MB-436</text>
<line x1="262.5" y1="400" x2="262.5" y2="473" stroke="#231f20" stroke-width="1"/>
<line x1="260.3" y1="472.75" x2="262.5" y2="472.75" stroke="#231f20" stroke-width="1"/>
<text x="259.3" y="475.41" font-size="7.4" text-anchor="end">0</text>
<line x1="260.3" y1="456.65" x2="262.5" y2="456.65" stroke="#231f20" stroke-width="1"/>
<text x="259.3" y="459.31" font-size="7.4" text-anchor="end">10</text>
<line x1="260.3" y1="440.55" x2="262.5" y2="440.55" stroke="#231f20" stroke-width="1"/>
<text x="259.3" y="443.21" font-size="7.4" text-anchor="end">20</text>
<line x1="260.3" y1="424.45" x2="262.5" y2="424.45" stroke="#231f20" stroke-width="1"/>
<text x="259.3" y="427.11" font-size="7.4" text-anchor="end">30</text>
<line x1="260.3" y1="408.35" x2="262.5" y2="408.35" stroke="#231f20" stroke-width="1"/>
<text x="259.3" y="411.01" font-size="7.4" text-anchor="end">40</text>
<line x1="262" y1="472.5" x2="324.6" y2="472.5" stroke="#231f20" stroke-width="1"/>
<rect x="264.2" y="463.41" width="6.6" height="9.34" fill="#a9a294" stroke="#1a1a1a" stroke-width="0.55"/>
<line x1="267.5" y1="462.81" x2="267.5" y2="463.41" stroke="#1a1a1a" stroke-width="0.6"/>
<line x1="266.1" y1="462.81" x2="268.9" y2="462.81" stroke="#1a1a1a" stroke-width="0.6"/>
<line x1="266.1" y1="463.41" x2="268.9" y2="463.41" stroke="#1a1a1a" stroke-width="0.6"/>
<circle cx="265.7" cy="463.21" r="1.0" fill="#fff" stroke="#1a1a1a" stroke-width="0.7"/>
<circle cx="267.5" cy="463.76" r="1.0" fill="#fff" stroke="#1a1a1a" stroke-width="0.7"/>
<circle cx="269.3" cy="463.21" r="1.0" fill="#fff" stroke="#1a1a1a" stroke-width="0.7"/>
<line x1="267.5" y1="472.75" x2="267.5" y2="474.75" stroke="#231f20" stroke-width="0.7"/>
<text x="270.7" y="480.75" font-size="7.2" text-anchor="end" transform="rotate(-45 270.7 480.75)">0</text>
<rect x="273.1" y="461.48" width="6.6" height="11.27" fill="#a9a294" stroke="#1a1a1a" stroke-width="0.55"/>
<line x1="276.4" y1="460.88" x2="276.4" y2="461.48" stroke="#1a1a1a" stroke-width="0.6"/>
<line x1="275" y1="460.88" x2="277.8" y2="460.88" stroke="#1a1a1a" stroke-width="0.6"/>
<line x1="275" y1="461.48" x2="277.8" y2="461.48" stroke="#1a1a1a" stroke-width="0.6"/>
<circle cx="274.6" cy="461.28" r="1.0" fill="#fff" stroke="#1a1a1a" stroke-width="0.7"/>
<circle cx="276.4" cy="461.83" r="1.0" fill="#fff" stroke="#1a1a1a" stroke-width="0.7"/>
<circle cx="278.2" cy="461.28" r="1.0" fill="#fff" stroke="#1a1a1a" stroke-width="0.7"/>
<line x1="276.4" y1="472.75" x2="276.4" y2="474.75" stroke="#231f20" stroke-width="0.7"/>
<text x="278.6" y="480.75" font-size="7.2" text-anchor="end" transform="rotate(-45 278.6 480.75)">24</text>
<rect x="282.3" y="461.16" width="6.6" height="11.59" fill="#a9a294" stroke="#1a1a1a" stroke-width="0.55"/>
<line x1="285.6" y1="460.56" x2="285.6" y2="461.16" stroke="#1a1a1a" stroke-width="0.6"/>
<line x1="284.2" y1="460.56" x2="287" y2="460.56" stroke="#1a1a1a" stroke-width="0.6"/>
<line x1="284.2" y1="461.16" x2="287" y2="461.16" stroke="#1a1a1a" stroke-width="0.6"/>
<circle cx="283.8" cy="460.96" r="1.0" fill="#fff" stroke="#1a1a1a" stroke-width="0.7"/>
<circle cx="285.6" cy="461.51" r="1.0" fill="#fff" stroke="#1a1a1a" stroke-width="0.7"/>
<circle cx="287.4" cy="460.96" r="1.0" fill="#fff" stroke="#1a1a1a" stroke-width="0.7"/>
<line x1="285.6" y1="472.75" x2="285.6" y2="474.75" stroke="#231f20" stroke-width="0.7"/>
<text x="287.8" y="480.75" font-size="7.2" text-anchor="end" transform="rotate(-45 287.8 480.75)">48</text>
<rect x="298" y="462.29" width="6.6" height="10.46" fill="#474492" stroke="#1a1a1a" stroke-width="0.55"/>
<line x1="301.3" y1="460.69" x2="301.3" y2="462.29" stroke="#1a1a1a" stroke-width="0.6"/>
<line x1="299.9" y1="460.69" x2="302.7" y2="460.69" stroke="#1a1a1a" stroke-width="0.6"/>
<line x1="299.9" y1="462.29" x2="302.7" y2="462.29" stroke="#1a1a1a" stroke-width="0.6"/>
<circle cx="299.5" cy="462.09" r="1.0" fill="#fff" stroke="#1a1a1a" stroke-width="0.7"/>
<circle cx="301.3" cy="462.64" r="1.0" fill="#fff" stroke="#1a1a1a" stroke-width="0.7"/>
<circle cx="303.1" cy="462.09" r="1.0" fill="#fff" stroke="#1a1a1a" stroke-width="0.7"/>
<line x1="301.3" y1="472.75" x2="301.3" y2="474.75" stroke="#231f20" stroke-width="0.7"/>
<text x="304.5" y="480.75" font-size="7.2" text-anchor="end" transform="rotate(-45 304.5 480.75)">0</text>
<rect x="306.7" y="435.72" width="6.6" height="37.03" fill="#474492" stroke="#1a1a1a" stroke-width="0.55"/>
<line x1="310" y1="433.52" x2="310" y2="435.72" stroke="#1a1a1a" stroke-width="0.6"/>
<line x1="308.6" y1="433.52" x2="311.4" y2="433.52" stroke="#1a1a1a" stroke-width="0.6"/>
<line x1="308.6" y1="435.72" x2="311.4" y2="435.72" stroke="#1a1a1a" stroke-width="0.6"/>
<circle cx="308.2" cy="435.52" r="1.0" fill="#fff" stroke="#1a1a1a" stroke-width="0.7"/>
<circle cx="310" cy="436.07" r="1.0" fill="#fff" stroke="#1a1a1a" stroke-width="0.7"/>
<circle cx="311.8" cy="435.52" r="1.0" fill="#fff" stroke="#1a1a1a" stroke-width="0.7"/>
<line x1="310" y1="472.75" x2="310" y2="474.75" stroke="#231f20" stroke-width="0.7"/>
<text x="312.2" y="480.75" font-size="7.2" text-anchor="end" transform="rotate(-45 312.2 480.75)">24</text>
<rect x="315.5" y="406.74" width="6.6" height="66.01" fill="#474492" stroke="#1a1a1a" stroke-width="0.55"/>
<line x1="318.8" y1="403.34" x2="318.8" y2="406.74" stroke="#1a1a1a" stroke-width="0.6"/>
<line x1="317.4" y1="403.34" x2="320.2" y2="403.34" stroke="#1a1a1a" stroke-width="0.6"/>
<line x1="317.4" y1="406.74" x2="320.2" y2="406.74" stroke="#1a1a1a" stroke-width="0.6"/>
<circle cx="317" cy="406.54" r="1.0" fill="#fff" stroke="#1a1a1a" stroke-width="0.7"/>
<circle cx="318.8" cy="407.09" r="1.0" fill="#fff" stroke="#1a1a1a" stroke-width="0.7"/>
<circle cx="320.6" cy="406.54" r="1.0" fill="#fff" stroke="#1a1a1a" stroke-width="0.7"/>
<line x1="318.8" y1="472.75" x2="318.8" y2="474.75" stroke="#231f20" stroke-width="0.7"/>
<text x="321" y="480.75" font-size="7.2" text-anchor="end" transform="rotate(-45 321 480.75)">48</text>
<text x="310" y="433.42" font-size="7.6" text-anchor="middle">*</text>
<text x="318.8" y="400.44" font-size="7.6" text-anchor="middle">*</text>
<rect x="266.3" y="407.8" width="5.4" height="5.4" fill="#a9a294" stroke="#1a1a1a" stroke-width="0.55"/>
<rect x="266.3" y="416.9" width="5.4" height="5.4" fill="#474492" stroke="#1a1a1a" stroke-width="0.55"/>
<text x="274.3" y="413.4" font-size="7.4">DMSO</text>
<text x="274.3" y="422.5" font-size="7.4">PROTAC</text>
<text x="236.6" y="437.5" font-size="7.4" text-anchor="middle" transform="rotate(-90 236.6 437.5)">Caspase-3 activity</text>
<text x="244.2" y="437.5" font-size="7.4" text-anchor="middle" transform="rotate(-90 244.2 437.5)">(fold change)</text>
<text x="292.5" y="493" font-size="7.4" text-anchor="middle">Time (h)</text>
</g>
<g id="panelG">
<text x="330" y="272.6" font-size="10" font-weight="bold" style="stroke-width:0.45px">G</text>
<text x="386" y="280.7" font-size="7.4" text-anchor="middle">MDA-MB-231</text>
<line x1="356.5" y1="284" x2="356.5" y2="358" stroke="#231f20" stroke-width="1"/>
<line x1="354.3" y1="357.5" x2="356.5" y2="357.5" stroke="#231f20" stroke-width="1"/>
<text x="353.3" y="360.16" font-size="7.4" text-anchor="end">0</text>
<line x1="354.3" y1="343.1" x2="356.5" y2="343.1" stroke="#231f20" stroke-width="1"/>
<text x="353.3" y="345.76" font-size="7.4" text-anchor="end">10</text>
<line x1="354.3" y1="328.7" x2="356.5" y2="328.7" stroke="#231f20" stroke-width="1"/>
<text x="353.3" y="331.36" font-size="7.4" text-anchor="end">20</text>
<line x1="354.3" y1="314.3" x2="356.5" y2="314.3" stroke="#231f20" stroke-width="1"/>
<text x="353.3" y="316.96" font-size="7.4" text-anchor="end">30</text>
<line x1="354.3" y1="299.9" x2="356.5" y2="299.9" stroke="#231f20" stroke-width="1"/>
<text x="353.3" y="302.56" font-size="7.4" text-anchor="end">40</text>
<line x1="354.3" y1="285.5" x2="356.5" y2="285.5" stroke="#231f20" stroke-width="1"/>
<text x="353.3" y="288.16" font-size="7.4" text-anchor="end">50</text>
<line x1="356" y1="357.5" x2="423" y2="357.5" stroke="#231f20" stroke-width="1"/>
<rect x="359.2" y="345.12" width="6.6" height="12.38" fill="#a9a294" stroke="#1a1a1a" stroke-width="0.55"/>
<circle cx="360.7" cy="344.92" r="1.0" fill="#fff" stroke="#1a1a1a" stroke-width="0.7"/>
<circle cx="362.5" cy="345.47" r="1.0" fill="#fff" stroke="#1a1a1a" stroke-width="0.7"/>
<circle cx="364.3" cy="344.92" r="1.0" fill="#fff" stroke="#1a1a1a" stroke-width="0.7"/>
<line x1="362.5" y1="357.5" x2="362.5" y2="359.5" stroke="#231f20" stroke-width="0.7"/>
<text x="365.7" y="365.5" font-size="7.2" text-anchor="end" transform="rotate(-45 365.7 365.5)">0</text>
<rect x="368.5" y="348" width="6.6" height="9.5" fill="#a9a294" stroke="#1a1a1a" stroke-width="0.55"/>
<circle cx="370" cy="347.8" r="1.0" fill="#fff" stroke="#1a1a1a" stroke-width="0.7"/>
<circle cx="371.8" cy="348.35" r="1.0" fill="#fff" stroke="#1a1a1a" stroke-width="0.7"/>
<circle cx="373.6" cy="347.8" r="1.0" fill="#fff" stroke="#1a1a1a" stroke-width="0.7"/>
<line x1="371.8" y1="357.5" x2="371.8" y2="359.5" stroke="#231f20" stroke-width="0.7"/>
<text x="374" y="365.5" font-size="7.2" text-anchor="end" transform="rotate(-45 374 365.5)">24</text>
<rect x="377.9" y="348" width="6.6" height="9.5" fill="#a9a294" stroke="#1a1a1a" stroke-width="0.55"/>
<circle cx="379.4" cy="347.8" r="1.0" fill="#fff" stroke="#1a1a1a" stroke-width="0.7"/>
<circle cx="381.2" cy="348.35" r="1.0" fill="#fff" stroke="#1a1a1a" stroke-width="0.7"/>
<circle cx="383" cy="347.8" r="1.0" fill="#fff" stroke="#1a1a1a" stroke-width="0.7"/>
<line x1="381.2" y1="357.5" x2="381.2" y2="359.5" stroke="#231f20" stroke-width="0.7"/>
<text x="383.4" y="365.5" font-size="7.2" text-anchor="end" transform="rotate(-45 383.4 365.5)">48</text>
<rect x="393.7" y="348" width="6.6" height="9.5" fill="#474492" stroke="#1a1a1a" stroke-width="0.55"/>
<circle cx="395.2" cy="347.8" r="1.0" fill="#fff" stroke="#1a1a1a" stroke-width="0.7"/>
<circle cx="397" cy="348.35" r="1.0" fill="#fff" stroke="#1a1a1a" stroke-width="0.7"/>
<circle cx="398.8" cy="347.8" r="1.0" fill="#fff" stroke="#1a1a1a" stroke-width="0.7"/>
<line x1="397" y1="357.5" x2="397" y2="359.5" stroke="#231f20" stroke-width="0.7"/>
<text x="400.2" y="365.5" font-size="7.2" text-anchor="end" transform="rotate(-45 400.2 365.5)">0</text>
<rect x="403" y="322.65" width="6.6" height="34.85" fill="#474492" stroke="#1a1a1a" stroke-width="0.55"/>
<circle cx="404.5" cy="322.45" r="1.0" fill="#fff" stroke="#1a1a1a" stroke-width="0.7"/>
<circle cx="406.3" cy="323" r="1.0" fill="#fff" stroke="#1a1a1a" stroke-width="0.7"/>
<circle cx="408.1" cy="322.45" r="1.0" fill="#fff" stroke="#1a1a1a" stroke-width="0.7"/>
<line x1="406.3" y1="357.5" x2="406.3" y2="359.5" stroke="#231f20" stroke-width="0.7"/>
<text x="408.5" y="365.5" font-size="7.2" text-anchor="end" transform="rotate(-45 408.5 365.5)">24</text>
<rect x="412.4" y="293.28" width="6.6" height="64.22" fill="#474492" stroke="#1a1a1a" stroke-width="0.55"/>
<circle cx="413.9" cy="293.08" r="1.0" fill="#fff" stroke="#1a1a1a" stroke-width="0.7"/>
<circle cx="415.7" cy="293.63" r="1.0" fill="#fff" stroke="#1a1a1a" stroke-width="0.7"/>
<circle cx="417.5" cy="293.08" r="1.0" fill="#fff" stroke="#1a1a1a" stroke-width="0.7"/>
<line x1="415.7" y1="357.5" x2="415.7" y2="359.5" stroke="#231f20" stroke-width="0.7"/>
<text x="417.9" y="365.5" font-size="7.2" text-anchor="end" transform="rotate(-45 417.9 365.5)">48</text>
<text x="406.3" y="320.35" font-size="7.6" text-anchor="middle">*</text>
<text x="415.7" y="290.98" font-size="7.6" text-anchor="middle">*</text>
<rect x="360.3" y="291.6" width="5.4" height="5.4" fill="#a9a294" stroke="#1a1a1a" stroke-width="0.55"/>
<rect x="360.3" y="301.4" width="5.4" height="5.4" fill="#474492" stroke="#1a1a1a" stroke-width="0.55"/>
<text x="368.3" y="297.2" font-size="7.4">DMSO</text>
<text x="368.3" y="307" font-size="7.4">PROTAC</text>
<text x="340" y="322.5" font-size="7.4" text-anchor="middle" transform="rotate(-90 340 322.5)">% Sub-G<tspan font-size="4.6" dy="1.6">1</tspan><tspan dy="-1.6"> DNA</tspan></text>
<text x="389.3" y="379" font-size="7.4" text-anchor="middle">Time (h)</text>
<text x="384.5" y="394.9" font-size="7.4" text-anchor="middle">MDA-MB-436</text>
<line x1="356.5" y1="398.5" x2="356.5" y2="473" stroke="#231f20" stroke-width="1"/>
<line x1="354.3" y1="472.75" x2="356.5" y2="472.75" stroke="#231f20" stroke-width="1"/>
<text x="353.3" y="475.41" font-size="7.4" text-anchor="end">0</text>
<line x1="354.3" y1="458.2" x2="356.5" y2="458.2" stroke="#231f20" stroke-width="1"/>
<text x="353.3" y="460.86" font-size="7.4" text-anchor="end">10</text>
<line x1="354.3" y1="443.65" x2="356.5" y2="443.65" stroke="#231f20" stroke-width="1"/>
<text x="353.3" y="446.31" font-size="7.4" text-anchor="end">20</text>
<line x1="354.3" y1="429.1" x2="356.5" y2="429.1" stroke="#231f20" stroke-width="1"/>
<text x="353.3" y="431.76" font-size="7.4" text-anchor="end">30</text>
<line x1="354.3" y1="414.55" x2="356.5" y2="414.55" stroke="#231f20" stroke-width="1"/>
<text x="353.3" y="417.21" font-size="7.4" text-anchor="end">40</text>
<line x1="354.3" y1="400" x2="356.5" y2="400" stroke="#231f20" stroke-width="1"/>
<text x="353.3" y="402.66" font-size="7.4" text-anchor="end">50</text>
<line x1="356" y1="472.5" x2="423" y2="472.5" stroke="#231f20" stroke-width="1"/>
<rect x="359.2" y="457.62" width="6.6" height="15.13" fill="#a9a294" stroke="#1a1a1a" stroke-width="0.55"/>
<circle cx="360.7" cy="457.42" r="1.0" fill="#fff" stroke="#1a1a1a" stroke-width="0.7"/>
<circle cx="362.5" cy="457.97" r="1.0" fill="#fff" stroke="#1a1a1a" stroke-width="0.7"/>
<circle cx="364.3" cy="457.42" r="1.0" fill="#fff" stroke="#1a1a1a" stroke-width="0.7"/>
<line x1="362.5" y1="472.75" x2="362.5" y2="474.75" stroke="#231f20" stroke-width="0.7"/>
<text x="365.7" y="480.75" font-size="7.2" text-anchor="end" transform="rotate(-45 365.7 480.75)">0</text>
<rect x="368.5" y="458.2" width="6.6" height="14.55" fill="#a9a294" stroke="#1a1a1a" stroke-width="0.55"/>
<circle cx="370" cy="458" r="1.0" fill="#fff" stroke="#1a1a1a" stroke-width="0.7"/>
<circle cx="371.8" cy="458.55" r="1.0" fill="#fff" stroke="#1a1a1a" stroke-width="0.7"/>
<circle cx="373.6" cy="458" r="1.0" fill="#fff" stroke="#1a1a1a" stroke-width="0.7"/>
<line x1="371.8" y1="472.75" x2="371.8" y2="474.75" stroke="#231f20" stroke-width="0.7"/>
<text x="374" y="480.75" font-size="7.2" text-anchor="end" transform="rotate(-45 374 480.75)">24</text>
<rect x="377.9" y="457.04" width="6.6" height="15.71" fill="#a9a294" stroke="#1a1a1a" stroke-width="0.55"/>
<circle cx="379.4" cy="456.84" r="1.0" fill="#fff" stroke="#1a1a1a" stroke-width="0.7"/>
<circle cx="381.2" cy="457.39" r="1.0" fill="#fff" stroke="#1a1a1a" stroke-width="0.7"/>
<circle cx="383" cy="456.84" r="1.0" fill="#fff" stroke="#1a1a1a" stroke-width="0.7"/>
<line x1="381.2" y1="472.75" x2="381.2" y2="474.75" stroke="#231f20" stroke-width="0.7"/>
<text x="383.4" y="480.75" font-size="7.2" text-anchor="end" transform="rotate(-45 383.4 480.75)">48</text>
<rect x="393.7" y="456.75" width="6.6" height="16.01" fill="#474492" stroke="#1a1a1a" stroke-width="0.55"/>
<circle cx="395.2" cy="456.55" r="1.0" fill="#fff" stroke="#1a1a1a" stroke-width="0.7"/>
<circle cx="397" cy="457.1" r="1.0" fill="#fff" stroke="#1a1a1a" stroke-width="0.7"/>
<circle cx="398.8" cy="456.55" r="1.0" fill="#fff" stroke="#1a1a1a" stroke-width="0.7"/>
<line x1="397" y1="472.75" x2="397" y2="474.75" stroke="#231f20" stroke-width="0.7"/>
<text x="400.2" y="480.75" font-size="7.2" text-anchor="end" transform="rotate(-45 400.2 480.75)">0</text>
<rect x="403" y="449.47" width="6.6" height="23.28" fill="#474492" stroke="#1a1a1a" stroke-width="0.55"/>
<circle cx="404.5" cy="449.27" r="1.0" fill="#fff" stroke="#1a1a1a" stroke-width="0.7"/>
<circle cx="406.3" cy="449.82" r="1.0" fill="#fff" stroke="#1a1a1a" stroke-width="0.7"/>
<circle cx="408.1" cy="449.27" r="1.0" fill="#fff" stroke="#1a1a1a" stroke-width="0.7"/>
<line x1="406.3" y1="472.75" x2="406.3" y2="474.75" stroke="#231f20" stroke-width="0.7"/>
<text x="408.5" y="480.75" font-size="7.2" text-anchor="end" transform="rotate(-45 408.5 480.75)">24</text>
<rect x="412.4" y="412.37" width="6.6" height="60.38" fill="#474492" stroke="#1a1a1a" stroke-width="0.55"/>
<circle cx="413.9" cy="412.17" r="1.0" fill="#fff" stroke="#1a1a1a" stroke-width="0.7"/>
<circle cx="415.7" cy="412.72" r="1.0" fill="#fff" stroke="#1a1a1a" stroke-width="0.7"/>
<circle cx="417.5" cy="412.17" r="1.0" fill="#fff" stroke="#1a1a1a" stroke-width="0.7"/>
<line x1="415.7" y1="472.75" x2="415.7" y2="474.75" stroke="#231f20" stroke-width="0.7"/>
<text x="417.9" y="480.75" font-size="7.2" text-anchor="end" transform="rotate(-45 417.9 480.75)">48</text>
<text x="406.3" y="446.17" font-size="7.6" text-anchor="middle">*</text>
<text x="415.7" y="409.07" font-size="7.6" text-anchor="middle">*</text>
<rect x="360.3" y="407.8" width="5.4" height="5.4" fill="#a9a294" stroke="#1a1a1a" stroke-width="0.55"/>
<rect x="360.3" y="416.9" width="5.4" height="5.4" fill="#474492" stroke="#1a1a1a" stroke-width="0.55"/>
<text x="368.3" y="413.4" font-size="7.4">DMSO</text>
<text x="368.3" y="422.5" font-size="7.4">PROTAC</text>
<text x="340" y="437.5" font-size="7.4" text-anchor="middle" transform="rotate(-90 340 437.5)">% Sub-G<tspan font-size="4.6" dy="1.6">1</tspan><tspan dy="-1.6"> DNA</tspan></text>
<text x="379" y="493" font-size="7.4" text-anchor="middle">Time (h)</text>
</g>
<g id="panelH">
<text x="435.4" y="273" font-size="10" font-weight="bold" style="stroke-width:0.45px">H</text>
<text x="465.4" y="290" font-size="7.4" text-anchor="end">PROTAC</text>
<text x="465.4" y="299" font-size="7.4" text-anchor="end">MG132</text>
<line x1="473" y1="287.4" x2="476.4" y2="287.4" stroke="#231f20" stroke-width="0.9"/>
<line x1="484.9" y1="287.4" x2="488.3" y2="287.4" stroke="#231f20" stroke-width="0.9"/>
<line x1="497.2" y1="287.4" x2="500.6" y2="287.4" stroke="#231f20" stroke-width="0.9"/>
<line x1="498.9" y1="285.7" x2="498.9" y2="289.1" stroke="#231f20" stroke-width="0.9"/>
<line x1="509.1" y1="287.4" x2="512.5" y2="287.4" stroke="#231f20" stroke-width="0.9"/>
<line x1="510.8" y1="285.7" x2="510.8" y2="289.1" stroke="#231f20" stroke-width="0.9"/>
<line x1="473" y1="296.4" x2="476.4" y2="296.4" stroke="#231f20" stroke-width="0.9"/>
<line x1="484.9" y1="296.4" x2="488.3" y2="296.4" stroke="#231f20" stroke-width="0.9"/>
<line x1="486.6" y1="294.7" x2="486.6" y2="298.1" stroke="#231f20" stroke-width="0.9"/>
<line x1="497.2" y1="296.4" x2="500.6" y2="296.4" stroke="#231f20" stroke-width="0.9"/>
<line x1="509.1" y1="296.4" x2="512.5" y2="296.4" stroke="#231f20" stroke-width="0.9"/>
<line x1="510.8" y1="294.7" x2="510.8" y2="298.1" stroke="#231f20" stroke-width="0.9"/>
<rect x="465.8" y="301.6" width="56" height="18" fill="url(#bg)" stroke="#4a4644" stroke-width="0.9"/>
<text x="463.4" y="314.4" font-size="7.4" text-anchor="end">cPARP</text>
<rect x="493" y="309.6" width="10.8" height="4" rx="2" fill="#141212" opacity="1" filter="url(#bl)"/>
<rect x="465.8" y="322.6" width="56" height="17.9" fill="url(#bg)" stroke="#4a4644" stroke-width="0.9"/>
<text x="463.4" y="332.8" font-size="7.4" text-anchor="end">β-ACTIN</text>
<rect x="468.5" y="331.1" width="11.2" height="2.2" rx="1.1" fill="#141212" opacity="0.92" filter="url(#bl)"/>
<rect x="480.4" y="331.1" width="11.2" height="2.2" rx="1.1" fill="#141212" opacity="0.92" filter="url(#bl)"/>
<rect x="492.7" y="331.1" width="11.2" height="2.2" rx="1.1" fill="#141212" opacity="0.92" filter="url(#bl)"/>
<rect x="504.6" y="331.1" width="11.2" height="2.2" rx="1.1" fill="#141212" opacity="0.92" filter="url(#bl)"/>
<text x="465.4" y="354.8" font-size="7.4" text-anchor="end">PROTAC</text>
<text x="465.4" y="363.8" font-size="7.4" text-anchor="end">VHL-Amine</text>
<line x1="473" y1="352.2" x2="476.4" y2="352.2" stroke="#231f20" stroke-width="0.9"/>
<line x1="484.9" y1="352.2" x2="488.3" y2="352.2" stroke="#231f20" stroke-width="0.9"/>
<line x1="497.2" y1="352.2" x2="500.6" y2="352.2" stroke="#231f20" stroke-width="0.9"/>
<line x1="498.9" y1="350.5" x2="498.9" y2="353.9" stroke="#231f20" stroke-width="0.9"/>
<line x1="509.1" y1="352.2" x2="512.5" y2="352.2" stroke="#231f20" stroke-width="0.9"/>
<line x1="510.8" y1="350.5" x2="510.8" y2="353.9" stroke="#231f20" stroke-width="0.9"/>
<line x1="473" y1="361.2" x2="476.4" y2="361.2" stroke="#231f20" stroke-width="0.9"/>
<line x1="484.9" y1="361.2" x2="488.3" y2="361.2" stroke="#231f20" stroke-width="0.9"/>
<line x1="486.6" y1="359.5" x2="486.6" y2="362.9" stroke="#231f20" stroke-width="0.9"/>
<line x1="497.2" y1="361.2" x2="500.6" y2="361.2" stroke="#231f20" stroke-width="0.9"/>
<line x1="509.1" y1="361.2" x2="512.5" y2="361.2" stroke="#231f20" stroke-width="0.9"/>
<line x1="510.8" y1="359.5" x2="510.8" y2="362.9" stroke="#231f20" stroke-width="0.9"/>
<rect x="465.8" y="366.4" width="56" height="18" fill="url(#bg)" stroke="#4a4644" stroke-width="0.9"/>
<text x="463.4" y="379.2" font-size="7.4" text-anchor="end">cPARP</text>
<rect x="493" y="374.4" width="10.8" height="4" rx="2" fill="#141212" opacity="1" filter="url(#bl)"/>
<rect x="465.8" y="387.4" width="56" height="17.9" fill="url(#bg)" stroke="#4a4644" stroke-width="0.9"/>
<text x="463.4" y="397.6" font-size="7.4" text-anchor="end">β-ACTIN</text>
<rect x="468.5" y="394.1" width="11.2" height="2.2" rx="1.1" fill="#141212" opacity="0.92" filter="url(#bl)"/>
<rect x="480.4" y="394.1" width="11.2" height="2.2" rx="1.1" fill="#141212" opacity="0.92" filter="url(#bl)"/>
<rect x="492.7" y="394.1" width="11.2" height="2.2" rx="1.1" fill="#141212" opacity="0.92" filter="url(#bl)"/>
<rect x="504.6" y="394.1" width="11.2" height="2.2" rx="1.1" fill="#141212" opacity="0.92" filter="url(#bl)"/>
<text x="465.4" y="419.6" font-size="7.4" text-anchor="end">PROTAC</text>
<text x="465.4" y="428.6" font-size="7.4" text-anchor="end">VH298</text>
<line x1="473" y1="417" x2="476.4" y2="417" stroke="#231f20" stroke-width="0.9"/>
<line x1="484.9" y1="417" x2="488.3" y2="417" stroke="#231f20" stroke-width="0.9"/>
<line x1="497.2" y1="417" x2="500.6" y2="417" stroke="#231f20" stroke-width="0.9"/>
<line x1="498.9" y1="415.3" x2="498.9" y2="418.7" stroke="#231f20" stroke-width="0.9"/>
<line x1="509.1" y1="417" x2="512.5" y2="417" stroke="#231f20" stroke-width="0.9"/>
<line x1="510.8" y1="415.3" x2="510.8" y2="418.7" stroke="#231f20" stroke-width="0.9"/>
<line x1="473" y1="426" x2="476.4" y2="426" stroke="#231f20" stroke-width="0.9"/>
<line x1="484.9" y1="426" x2="488.3" y2="426" stroke="#231f20" stroke-width="0.9"/>
<line x1="486.6" y1="424.3" x2="486.6" y2="427.7" stroke="#231f20" stroke-width="0.9"/>
<line x1="497.2" y1="426" x2="500.6" y2="426" stroke="#231f20" stroke-width="0.9"/>
<line x1="509.1" y1="426" x2="512.5" y2="426" stroke="#231f20" stroke-width="0.9"/>
<line x1="510.8" y1="424.3" x2="510.8" y2="427.7" stroke="#231f20" stroke-width="0.9"/>
<rect x="465.8" y="431.2" width="56" height="18" fill="url(#bg)" stroke="#4a4644" stroke-width="0.9"/>
<text x="463.4" y="444" font-size="7.4" text-anchor="end">cPARP</text>
<rect x="493" y="439.2" width="10.8" height="4" rx="2" fill="#141212" opacity="1" filter="url(#bl)"/>
<rect x="465.8" y="452.2" width="56" height="17.9" fill="url(#bg)" stroke="#4a4644" stroke-width="0.9"/>
<text x="463.4" y="462.4" font-size="7.4" text-anchor="end">β-ACTIN</text>
<rect x="468.5" y="459.7" width="11.2" height="2.2" rx="1.1" fill="#141212" opacity="0.92" filter="url(#bl)"/>
<rect x="480.4" y="459.7" width="11.2" height="2.2" rx="1.1" fill="#141212" opacity="0.92" filter="url(#bl)"/>
<rect x="492.7" y="459.7" width="11.2" height="2.2" rx="1.1" fill="#141212" opacity="0.92" filter="url(#bl)"/>
<rect x="504.6" y="459.7" width="11.2" height="2.2" rx="1.1" fill="#141212" opacity="0.92" filter="url(#bl)"/>
<text x="492" y="477.4" font-size="7.4" text-anchor="middle">MDA-MB-231</text>
</g>
<g id="panelI">
<text x="4.4" y="513.8" font-size="10" font-weight="bold" style="stroke-width:0.45px">I</text>
<text x="65.5" y="525.8" font-size="7.4" text-anchor="middle">48 h</text>
<text x="106.25" y="525.8" font-size="7.4" text-anchor="middle">96 h</text>
<line x1="48.75" y1="527.6" x2="85" y2="527.6" stroke="#231f20" stroke-width="0.6"/>
<line x1="87.5" y1="527.6" x2="123.75" y2="527.6" stroke="#231f20" stroke-width="0.6"/>
<text x="53.9" y="566.4" font-size="6.9" transform="rotate(-90 53.9 566.4)">shNT</text>
<text x="63.8" y="566.4" font-size="6.9" transform="rotate(-90 63.8 566.4)">sh<tspan font-style="italic">MDM2</tspan>-1</text>
<text x="73.7" y="566.4" font-size="6.9" transform="rotate(-90 73.7 566.4)">sh<tspan font-style="italic">MDM2</tspan>-2</text>
<text x="83.6" y="566.4" font-size="6.9" transform="rotate(-90 83.6 566.4)">sh<tspan font-style="italic">MDM2</tspan>-3</text>
<text x="93.1" y="566.4" font-size="6.9" transform="rotate(-90 93.1 566.4)">shNT</text>
<text x="102.9" y="566.4" font-size="6.9" transform="rotate(-90 102.9 566.4)">sh<tspan font-style="italic">MDM2</tspan>-1</text>
<text x="112.7" y="566.4" font-size="6.9" transform="rotate(-90 112.7 566.4)">sh<tspan font-style="italic">MDM2</tspan>-2</text>
<text x="122.5" y="566.4" font-size="6.9" transform="rotate(-90 122.5 566.4)">sh<tspan font-style="italic">MDM2</tspan>-3</text>
<rect x="43.75" y="569.5" width="85" height="14.3" fill="url(#bg)" stroke="#4a4644" stroke-width="0.9"/>
<text x="39.6" y="579.8" font-size="8.4" text-anchor="end">MDM2</text>
<rect x="47.1" y="574.1" width="8.6" height="5.2" rx="2.6" fill="#141212" opacity="0.8" filter="url(#bl2)"/>
<rect x="57" y="574.1" width="8.6" height="5.2" rx="2.6" fill="#141212" opacity="0.85" filter="url(#bl2)"/>
<rect x="66.9" y="574.1" width="8.6" height="5.2" rx="2.6" fill="#141212" opacity="0.12" filter="url(#bl2)"/>
<rect x="76.8" y="574.1" width="8.6" height="5.2" rx="2.6" fill="#141212" opacity="0.08" filter="url(#bl2)"/>
<rect x="86.3" y="574.1" width="8.6" height="5.2" rx="2.6" fill="#141212" opacity="0.95" filter="url(#bl2)"/>
<rect x="96.1" y="574.1" width="8.6" height="5.2" rx="2.6" fill="#141212" opacity="0.9" filter="url(#bl2)"/>
<rect x="105.9" y="574.1" width="8.6" height="5.2" rx="2.6" fill="#141212" opacity="0.1" filter="url(#bl2)"/>
<rect x="115.7" y="574.1" width="8.6" height="5.2" rx="2.6" fill="#141212" opacity="0.14" filter="url(#bl2)"/>
<rect x="43.75" y="585.5" width="85" height="14.5" fill="url(#bg)" stroke="#4a4644" stroke-width="0.9"/>
<text x="39.6" y="595.8" font-size="8.4" text-anchor="end">cPARP</text>
<rect x="67.4" y="591.1" width="7.6" height="2" rx="1" fill="#141212" opacity="0.95" filter="url(#bl)"/>
<rect x="77.3" y="591.1" width="7.6" height="2" rx="1" fill="#141212" opacity="0.9" filter="url(#bl)"/>
<rect x="106.4" y="591.1" width="7.6" height="2" rx="1" fill="#141212" opacity="0.95" filter="url(#bl)"/>
<rect x="116.2" y="591.1" width="7.6" height="2" rx="1" fill="#141212" opacity="0.9" filter="url(#bl)"/>
<rect x="43.75" y="602" width="85" height="14.3" fill="url(#bg)" stroke="#4a4644" stroke-width="0.9"/>
<text x="39.6" y="612.4" font-size="8.4" text-anchor="end">β-ACTIN</text>
<rect x="47" y="608.6" width="8.8" height="1.4" rx="0.7" fill="#141212" opacity="0.85" filter="url(#bl)"/>
<rect x="56.9" y="608.6" width="8.8" height="1.4" rx="0.7" fill="#141212" opacity="0.85" filter="url(#bl)"/>
<rect x="66.8" y="608.6" width="8.8" height="1.4" rx="0.7" fill="#141212" opacity="0.85" filter="url(#bl)"/>
<rect x="76.7" y="608.6" width="8.8" height="1.4" rx="0.7" fill="#141212" opacity="0.85" filter="url(#bl)"/>
<rect x="86.2" y="608.6" width="8.8" height="1.4" rx="0.7" fill="#141212" opacity="0.85" filter="url(#bl)"/>
<rect x="96" y="608.6" width="8.8" height="1.4" rx="0.7" fill="#141212" opacity="0.85" filter="url(#bl)"/>
<rect x="105.8" y="608.6" width="8.8" height="1.4" rx="0.7" fill="#141212" opacity="0.85" filter="url(#bl)"/>
<rect x="115.6" y="608.6" width="8.8" height="1.4" rx="0.7" fill="#141212" opacity="0.85" filter="url(#bl)"/>
<rect x="43.75" y="624" width="85" height="14.3" fill="url(#bg)" stroke="#4a4644" stroke-width="0.9"/>
<text x="39.6" y="634.3" font-size="8.4" text-anchor="end">MDM2</text>
<rect x="47.6" y="629.3" width="7.6" height="2.2" rx="1.1" fill="#141212" opacity="0.95" filter="url(#bl)"/>
<rect x="47.6" y="632.3" width="7.6" height="2.2" rx="1.1" fill="#141212" opacity="0.95" filter="url(#bl)"/>
<rect x="57.5" y="629.3" width="7.6" height="2.2" rx="1.1" fill="#141212" opacity="0.95" filter="url(#bl)"/>
<rect x="57.5" y="632.3" width="7.6" height="2.2" rx="1.1" fill="#141212" opacity="0.95" filter="url(#bl)"/>
<rect x="67.4" y="629.3" width="7.6" height="2.2" rx="1.1" fill="#141212" opacity="0.2" filter="url(#bl)"/>
<rect x="67.4" y="632.3" width="7.6" height="2.2" rx="1.1" fill="#141212" opacity="0.2" filter="url(#bl)"/>
<rect x="77.3" y="629.3" width="7.6" height="2.2" rx="1.1" fill="#141212" opacity="0.15" filter="url(#bl)"/>
<rect x="77.3" y="632.3" width="7.6" height="2.2" rx="1.1" fill="#141212" opacity="0.15" filter="url(#bl)"/>
<rect x="86.8" y="629.3" width="7.6" height="2.2" rx="1.1" fill="#141212" opacity="0.95" filter="url(#bl)"/>
<rect x="86.8" y="632.3" width="7.6" height="2.2" rx="1.1" fill="#141212" opacity="0.95" filter="url(#bl)"/>
<rect x="96.6" y="629.3" width="7.6" height="2.2" rx="1.1" fill="#141212" opacity="0.95" filter="url(#bl)"/>
<rect x="96.6" y="632.3" width="7.6" height="2.2" rx="1.1" fill="#141212" opacity="0.95" filter="url(#bl)"/>
<rect x="106.4" y="629.3" width="7.6" height="2.2" rx="1.1" fill="#141212" opacity="0.12" filter="url(#bl)"/>
<rect x="106.4" y="632.3" width="7.6" height="2.2" rx="1.1" fill="#141212" opacity="0.12" filter="url(#bl)"/>
<rect x="116.2" y="629.3" width="7.6" height="2.2" rx="1.1" fill="#141212" opacity="0.08" filter="url(#bl)"/>
<rect x="116.2" y="632.3" width="7.6" height="2.2" rx="1.1" fill="#141212" opacity="0.08" filter="url(#bl)"/>
<rect x="43.75" y="640" width="85" height="14.5" fill="url(#bg)" stroke="#4a4644" stroke-width="0.9"/>
<text x="39.6" y="650.3" font-size="8.4" text-anchor="end">cPARP</text>
<rect x="67.4" y="645.6" width="7.6" height="2" rx="1" fill="#141212" opacity="0.7" filter="url(#bl)"/>
<rect x="77.3" y="645.6" width="7.6" height="2" rx="1" fill="#141212" opacity="0.85" filter="url(#bl)"/>
<rect x="106.4" y="645.6" width="7.6" height="2" rx="1" fill="#141212" opacity="0.8" filter="url(#bl)"/>
<rect x="116.2" y="645.6" width="7.6" height="2" rx="1" fill="#141212" opacity="0.7" filter="url(#bl)"/>
<rect x="43.75" y="656.5" width="85" height="14.3" fill="url(#bg)" stroke="#4a4644" stroke-width="0.9"/>
<text x="39.6" y="666.9" font-size="8.4" text-anchor="end">β-ACTIN</text>
<rect x="47" y="662.6" width="8.8" height="2.4" rx="1.2" fill="#141212" opacity="0.85" filter="url(#bl)"/>
<rect x="56.9" y="662.6" width="8.8" height="2.4" rx="1.2" fill="#141212" opacity="0.85" filter="url(#bl)"/>
<rect x="66.8" y="662.6" width="8.8" height="2.4" rx="1.2" fill="#141212" opacity="0.85" filter="url(#bl)"/>
<rect x="76.7" y="662.6" width="8.8" height="2.4" rx="1.2" fill="#141212" opacity="0.85" filter="url(#bl)"/>
<rect x="86.2" y="662.6" width="8.8" height="2.4" rx="1.2" fill="#141212" opacity="0.85" filter="url(#bl)"/>
<rect x="96" y="662.6" width="8.8" height="2.4" rx="1.2" fill="#141212" opacity="0.85" filter="url(#bl)"/>
<rect x="105.8" y="662.6" width="8.8" height="2.4" rx="1.2" fill="#141212" opacity="0.85" filter="url(#bl)"/>
<rect x="115.6" y="662.6" width="8.8" height="2.4" rx="1.2" fill="#141212" opacity="0.85" filter="url(#bl)"/>
<line x1="131.4" y1="570" x2="131.4" y2="615.5" stroke="#231f20" stroke-width="0.6"/>
<text x="141.2" y="592.8" font-size="7.4" text-anchor="middle" transform="rotate(-90 141.2 592.8)">MDA-MB-231</text>
<line x1="131.4" y1="625.5" x2="131.4" y2="670.5" stroke="#231f20" stroke-width="0.6"/>
<text x="141.2" y="648" font-size="7.4" text-anchor="middle" transform="rotate(-90 141.2 648)">MDA-MB-436</text>
</g>
<g id="panelJ">
<text x="142" y="514.5" font-size="10" font-weight="bold" style="stroke-width:0.45px">J</text>
<line x1="175.5" y1="518" x2="175.5" y2="585" stroke="#231f20" stroke-width="1"/>
<line x1="173.3" y1="584.5" x2="175.5" y2="584.5" stroke="#231f20" stroke-width="1"/>
<text x="172.3" y="587.16" font-size="7.4" text-anchor="end">0</text>
<line x1="173.3" y1="563.45" x2="175.5" y2="563.45" stroke="#231f20" stroke-width="1"/>
<text x="172.3" y="566.11" font-size="7.4" text-anchor="end">0.5</text>
<line x1="173.3" y1="542.4" x2="175.5" y2="542.4" stroke="#231f20" stroke-width="1"/>
<text x="172.3" y="545.06" font-size="7.4" text-anchor="end">1.0</text>
<line x1="173.3" y1="521.35" x2="175.5" y2="521.35" stroke="#231f20" stroke-width="1"/>
<text x="172.3" y="524.01" font-size="7.4" text-anchor="end">1.5</text>
<line x1="175" y1="584.5" x2="238.7" y2="584.5" stroke="#231f20" stroke-width="1"/>
<line x1="180.7" y1="584.5" x2="180.7" y2="586.7" stroke="#231f20" stroke-width="1"/>
<text x="180.7" y="594.2" font-size="7.4" text-anchor="middle">0</text>
<line x1="194.1" y1="584.5" x2="194.1" y2="586.7" stroke="#231f20" stroke-width="1"/>
<text x="194.1" y="594.2" font-size="7.4" text-anchor="middle">24</text>
<line x1="207.6" y1="584.5" x2="207.6" y2="586.7" stroke="#231f20" stroke-width="1"/>
<text x="207.6" y="594.2" font-size="7.4" text-anchor="middle">48</text>
<line x1="221" y1="584.5" x2="221" y2="586.7" stroke="#231f20" stroke-width="1"/>
<text x="221" y="594.2" font-size="7.4" text-anchor="middle">72</text>
<line x1="234.5" y1="584.5" x2="234.5" y2="586.7" stroke="#231f20" stroke-width="1"/>
<text x="234.5" y="594.2" font-size="7.4" text-anchor="middle">96</text>
<text x="206.7" y="602.6" font-size="7.4" text-anchor="middle">Time (h)</text>
<text x="158.4" y="553.5" font-size="7.4" text-anchor="middle" transform="rotate(-90 158.4 553.5)">Mean OD (562 nm)</text>
<polyline points="180.7,576.5 194.1,563.45 207.6,551.24 221,540.72 234.5,526.82" fill="none" stroke="#1a1a1a" stroke-width="1.25" stroke-linejoin="round" stroke-linecap="round"/>
<line x1="179.4" y1="576.5" x2="182" y2="576.5" stroke="#1a1a1a" stroke-width="1.1"/>
<line x1="192.8" y1="563.45" x2="195.4" y2="563.45" stroke="#1a1a1a" stroke-width="1.1"/>
<line x1="206.3" y1="551.24" x2="208.9" y2="551.24" stroke="#1a1a1a" stroke-width="1.1"/>
<line x1="221" y1="539.12" x2="221" y2="542.32" stroke="#1a1a1a" stroke-width="0.7"/>
<line x1="219.8" y1="539.12" x2="222.2" y2="539.12" stroke="#1a1a1a" stroke-width="0.7"/>
<line x1="219.8" y1="542.32" x2="222.2" y2="542.32" stroke="#1a1a1a" stroke-width="0.7"/>
<line x1="219.7" y1="540.72" x2="222.3" y2="540.72" stroke="#1a1a1a" stroke-width="1.1"/>
<line x1="234.5" y1="524.22" x2="234.5" y2="529.42" stroke="#1a1a1a" stroke-width="0.7"/>
<line x1="233.3" y1="524.22" x2="235.7" y2="524.22" stroke="#1a1a1a" stroke-width="0.7"/>
<line x1="233.3" y1="529.42" x2="235.7" y2="529.42" stroke="#1a1a1a" stroke-width="0.7"/>
<line x1="233.2" y1="526.82" x2="235.8" y2="526.82" stroke="#1a1a1a" stroke-width="1.1"/>
<polyline points="180.7,576.5 194.1,570.61 207.6,564.71 221,559.24 234.5,551.24" fill="none" stroke="#f4a7a3" stroke-width="1.25" stroke-linejoin="round" stroke-linecap="round"/>
<line x1="179.4" y1="576.5" x2="182" y2="576.5" stroke="#f4a7a3" stroke-width="1.1"/>
<line x1="192.8" y1="570.61" x2="195.4" y2="570.61" stroke="#f4a7a3" stroke-width="1.1"/>
<line x1="206.3" y1="564.71" x2="208.9" y2="564.71" stroke="#f4a7a3" stroke-width="1.1"/>
<line x1="219.7" y1="559.24" x2="222.3" y2="559.24" stroke="#f4a7a3" stroke-width="1.1"/>
<line x1="234.5" y1="550.44" x2="234.5" y2="552.04" stroke="#f4a7a3" stroke-width="0.7"/>
<line x1="233.3" y1="550.44" x2="235.7" y2="550.44" stroke="#f4a7a3" stroke-width="0.7"/>
<line x1="233.3" y1="552.04" x2="235.7" y2="552.04" stroke="#f4a7a3" stroke-width="0.7"/>
<line x1="233.2" y1="551.24" x2="235.8" y2="551.24" stroke="#f4a7a3" stroke-width="1.1"/>
<polyline points="180.7,576.5 194.1,570.19 207.6,563.03 221,557.98 234.5,549.56" fill="none" stroke="#383680" stroke-width="1.25" stroke-linejoin="round" stroke-linecap="round"/>
<line x1="179.4" y1="576.5" x2="182" y2="576.5" stroke="#383680" stroke-width="1.1"/>
<line x1="192.8" y1="570.19" x2="195.4" y2="570.19" stroke="#383680" stroke-width="1.1"/>
<line x1="206.3" y1="563.03" x2="208.9" y2="563.03" stroke="#383680" stroke-width="1.1"/>
<line x1="219.7" y1="557.98" x2="222.3" y2="557.98" stroke="#383680" stroke-width="1.1"/>
<line x1="234.5" y1="548.76" x2="234.5" y2="550.36" stroke="#383680" stroke-width="0.7"/>
<line x1="233.3" y1="548.76" x2="235.7" y2="548.76" stroke="#383680" stroke-width="0.7"/>
<line x1="233.3" y1="550.36" x2="235.7" y2="550.36" stroke="#383680" stroke-width="0.7"/>
<line x1="233.2" y1="549.56" x2="235.8" y2="549.56" stroke="#383680" stroke-width="1.1"/>
<polyline points="180.7,576.5 194.1,571.45 207.6,565.55 221,560.08 234.5,551.66" fill="none" stroke="#e02b2f" stroke-width="1.25" stroke-linejoin="round" stroke-linecap="round"/>
<line x1="179.4" y1="576.5" x2="182" y2="576.5" stroke="#e02b2f" stroke-width="1.1"/>
<line x1="192.8" y1="571.45" x2="195.4" y2="571.45" stroke="#e02b2f" stroke-width="1.1"/>
<line x1="206.3" y1="565.55" x2="208.9" y2="565.55" stroke="#e02b2f" stroke-width="1.1"/>
<line x1="219.7" y1="560.08" x2="222.3" y2="560.08" stroke="#e02b2f" stroke-width="1.1"/>
<line x1="234.5" y1="550.86" x2="234.5" y2="552.46" stroke="#e02b2f" stroke-width="0.7"/>
<line x1="233.3" y1="550.86" x2="235.7" y2="550.86" stroke="#e02b2f" stroke-width="0.7"/>
<line x1="233.3" y1="552.46" x2="235.7" y2="552.46" stroke="#e02b2f" stroke-width="0.7"/>
<line x1="233.2" y1="551.66" x2="235.8" y2="551.66" stroke="#e02b2f" stroke-width="1.1"/>
<line x1="178.2" y1="521.3" x2="184.6" y2="521.3" stroke="#1a1a1a" stroke-width="1.4"/>
<text x="186.3" y="523.8" font-size="7.4">shNT</text>
<line x1="178.2" y1="530" x2="184.6" y2="530" stroke="#f4a7a3" stroke-width="1.4"/>
<text x="186.3" y="532.5" font-size="7.4">sh1</text>
<line x1="178.2" y1="538.7" x2="184.6" y2="538.7" stroke="#e02b2f" stroke-width="1.4"/>
<text x="186.3" y="541.2" font-size="7.4">sh2</text>
<line x1="178.2" y1="547.4" x2="184.6" y2="547.4" stroke="#383680" stroke-width="1.4"/>
<text x="186.3" y="549.9" font-size="7.4">sh3</text>
<line x1="199.6" y1="527.4" x2="199.6" y2="551.4" stroke="#231f20" stroke-width="0.5"/>
<text x="206.3" y="539.6" font-size="6.6" text-anchor="middle" font-style="italic" transform="rotate(-90 206.3 539.6)">MDM2</text>
<line x1="234.5" y1="530" x2="234.5" y2="546.3" stroke="#8c8c8c" stroke-width="1.5"/>
<text x="238.4" y="542" font-size="7.6" text-anchor="middle">*</text>
<line x1="175.5" y1="612.9" x2="175.5" y2="680" stroke="#231f20" stroke-width="1"/>
<line x1="173.3" y1="679.4" x2="175.5" y2="679.4" stroke="#231f20" stroke-width="1"/>
<text x="172.3" y="682.06" font-size="7.4" text-anchor="end">0</text>
<line x1="173.3" y1="658.35" x2="175.5" y2="658.35" stroke="#231f20" stroke-width="1"/>
<text x="172.3" y="661.01" font-size="7.4" text-anchor="end">0.5</text>
<line x1="173.3" y1="637.3" x2="175.5" y2="637.3" stroke="#231f20" stroke-width="1"/>
<text x="172.3" y="639.96" font-size="7.4" text-anchor="end">1.0</text>
<line x1="173.3" y1="616.25" x2="175.5" y2="616.25" stroke="#231f20" stroke-width="1"/>
<text x="172.3" y="618.91" font-size="7.4" text-anchor="end">1.5</text>
<line x1="175" y1="679.5" x2="238.7" y2="679.5" stroke="#231f20" stroke-width="1"/>
<line x1="180.7" y1="679.5" x2="180.7" y2="681.7" stroke="#231f20" stroke-width="1"/>
<text x="180.7" y="690.1" font-size="7.4" text-anchor="middle">0</text>
<line x1="194.1" y1="679.5" x2="194.1" y2="681.7" stroke="#231f20" stroke-width="1"/>
<text x="194.1" y="690.1" font-size="7.4" text-anchor="middle">24</text>
<line x1="207.6" y1="679.5" x2="207.6" y2="681.7" stroke="#231f20" stroke-width="1"/>
<text x="207.6" y="690.1" font-size="7.4" text-anchor="middle">48</text>
<line x1="221" y1="679.5" x2="221" y2="681.7" stroke="#231f20" stroke-width="1"/>
<text x="221" y="690.1" font-size="7.4" text-anchor="middle">72</text>
<line x1="234.5" y1="679.5" x2="234.5" y2="681.7" stroke="#231f20" stroke-width="1"/>
<text x="234.5" y="690.1" font-size="7.4" text-anchor="middle">96</text>
<text x="206.7" y="698.5" font-size="7.4" text-anchor="middle">Time (h)</text>
<text x="158.4" y="648.4" font-size="7.4" text-anchor="middle" transform="rotate(-90 158.4 648.4)">Mean OD (562 nm)</text>
<polyline points="180.7,670.98 194.1,658.77 207.6,646.56 221,630.56 234.5,619.2" fill="none" stroke="#1a1a1a" stroke-width="1.25" stroke-linejoin="round" stroke-linecap="round"/>
<line x1="179.4" y1="670.98" x2="182" y2="670.98" stroke="#1a1a1a" stroke-width="1.1"/>
<line x1="192.8" y1="658.77" x2="195.4" y2="658.77" stroke="#1a1a1a" stroke-width="1.1"/>
<line x1="206.3" y1="646.56" x2="208.9" y2="646.56" stroke="#1a1a1a" stroke-width="1.1"/>
<line x1="221" y1="627.16" x2="221" y2="633.96" stroke="#1a1a1a" stroke-width="0.7"/>
<line x1="219.8" y1="627.16" x2="222.2" y2="627.16" stroke="#1a1a1a" stroke-width="0.7"/>
<line x1="219.8" y1="633.96" x2="222.2" y2="633.96" stroke="#1a1a1a" stroke-width="0.7"/>
<line x1="219.7" y1="630.56" x2="222.3" y2="630.56" stroke="#1a1a1a" stroke-width="1.1"/>
<line x1="234.5" y1="618.2" x2="234.5" y2="620.2" stroke="#1a1a1a" stroke-width="0.7"/>
<line x1="233.3" y1="618.2" x2="235.7" y2="618.2" stroke="#1a1a1a" stroke-width="0.7"/>
<line x1="233.3" y1="620.2" x2="235.7" y2="620.2" stroke="#1a1a1a" stroke-width="0.7"/>
<line x1="233.2" y1="619.2" x2="235.8" y2="619.2" stroke="#1a1a1a" stroke-width="1.1"/>
<polyline points="180.7,670.98 194.1,667.61 207.6,661.3 221,656.67 234.5,648.25" fill="none" stroke="#f4a7a3" stroke-width="1.25" stroke-linejoin="round" stroke-linecap="round"/>
<line x1="179.4" y1="670.98" x2="182" y2="670.98" stroke="#f4a7a3" stroke-width="1.1"/>
<line x1="192.8" y1="667.61" x2="195.4" y2="667.61" stroke="#f4a7a3" stroke-width="1.1"/>
<line x1="206.3" y1="661.3" x2="208.9" y2="661.3" stroke="#f4a7a3" stroke-width="1.1"/>
<line x1="219.7" y1="656.67" x2="222.3" y2="656.67" stroke="#f4a7a3" stroke-width="1.1"/>
<line x1="234.5" y1="647.45" x2="234.5" y2="649.05" stroke="#f4a7a3" stroke-width="0.7"/>
<line x1="233.3" y1="647.45" x2="235.7" y2="647.45" stroke="#f4a7a3" stroke-width="0.7"/>
<line x1="233.3" y1="649.05" x2="235.7" y2="649.05" stroke="#f4a7a3" stroke-width="0.7"/>
<line x1="233.2" y1="648.25" x2="235.8" y2="648.25" stroke="#f4a7a3" stroke-width="1.1"/>
<polyline points="180.7,670.98 194.1,667.19 207.6,660.88 221,656.25 234.5,646.98" fill="none" stroke="#383680" stroke-width="1.25" stroke-linejoin="round" stroke-linecap="round"/>
<line x1="179.4" y1="670.98" x2="182" y2="670.98" stroke="#383680" stroke-width="1.1"/>
<line x1="192.8" y1="667.19" x2="195.4" y2="667.19" stroke="#383680" stroke-width="1.1"/>
<line x1="206.3" y1="660.88" x2="208.9" y2="660.88" stroke="#383680" stroke-width="1.1"/>
<line x1="219.7" y1="656.25" x2="222.3" y2="656.25" stroke="#383680" stroke-width="1.1"/>
<line x1="234.5" y1="644.98" x2="234.5" y2="648.98" stroke="#383680" stroke-width="0.7"/>
<line x1="233.3" y1="644.98" x2="235.7" y2="644.98" stroke="#383680" stroke-width="0.7"/>
<line x1="233.3" y1="648.98" x2="235.7" y2="648.98" stroke="#383680" stroke-width="0.7"/>
<line x1="233.2" y1="646.98" x2="235.8" y2="646.98" stroke="#383680" stroke-width="1.1"/>
<polyline points="180.7,670.98 194.1,667.61 207.6,661.3 221,656.67 234.5,647.82" fill="none" stroke="#e02b2f" stroke-width="1.25" stroke-linejoin="round" stroke-linecap="round"/>
<line x1="179.4" y1="670.98" x2="182" y2="670.98" stroke="#e02b2f" stroke-width="1.1"/>
<line x1="192.8" y1="667.61" x2="195.4" y2="667.61" stroke="#e02b2f" stroke-width="1.1"/>
<line x1="206.3" y1="661.3" x2="208.9" y2="661.3" stroke="#e02b2f" stroke-width="1.1"/>
<line x1="219.7" y1="656.67" x2="222.3" y2="656.67" stroke="#e02b2f" stroke-width="1.1"/>
<line x1="234.5" y1="647.02" x2="234.5" y2="648.62" stroke="#e02b2f" stroke-width="0.7"/>
<line x1="233.3" y1="647.02" x2="235.7" y2="647.02" stroke="#e02b2f" stroke-width="0.7"/>
<line x1="233.3" y1="648.62" x2="235.7" y2="648.62" stroke="#e02b2f" stroke-width="0.7"/>
<line x1="233.2" y1="647.82" x2="235.8" y2="647.82" stroke="#e02b2f" stroke-width="1.1"/>
<line x1="178.2" y1="616.2" x2="184.6" y2="616.2" stroke="#1a1a1a" stroke-width="1.4"/>
<text x="186.3" y="618.7" font-size="7.4">shNT</text>
<line x1="178.2" y1="624.9" x2="184.6" y2="624.9" stroke="#f4a7a3" stroke-width="1.4"/>
<text x="186.3" y="627.4" font-size="7.4">sh1</text>
<line x1="178.2" y1="633.6" x2="184.6" y2="633.6" stroke="#e02b2f" stroke-width="1.4"/>
<text x="186.3" y="636.1" font-size="7.4">sh2</text>
<line x1="178.2" y1="642.3" x2="184.6" y2="642.3" stroke="#383680" stroke-width="1.4"/>
<text x="186.3" y="644.8" font-size="7.4">sh3</text>
<line x1="199.6" y1="622.3" x2="199.6" y2="646.3" stroke="#231f20" stroke-width="0.5"/>
<text x="206.3" y="634.5" font-size="6.6" text-anchor="middle" font-style="italic" transform="rotate(-90 206.3 634.5)">MDM2</text>
<line x1="234.5" y1="620.5" x2="234.5" y2="644.5" stroke="#8c8c8c" stroke-width="1.5"/>
<text x="238.4" y="635.7" font-size="7.6" text-anchor="middle">*</text>
</g>
<g id="panelK">
<text x="244.5" y="514.5" font-size="10" font-weight="bold" style="stroke-width:0.45px">K</text>
<line x1="275.5" y1="514.9" x2="275.5" y2="585" stroke="#231f20" stroke-width="1"/>
<line x1="273.3" y1="584.5" x2="275.5" y2="584.5" stroke="#231f20" stroke-width="1"/>
<text x="272.3" y="587.16" font-size="7.4" text-anchor="end">0</text>
<line x1="273.3" y1="561.76" x2="275.5" y2="561.76" stroke="#231f20" stroke-width="1"/>
<text x="272.3" y="564.42" font-size="7.4" text-anchor="end">20</text>
<line x1="273.3" y1="539.02" x2="275.5" y2="539.02" stroke="#231f20" stroke-width="1"/>
<text x="272.3" y="541.68" font-size="7.4" text-anchor="end">40</text>
<line x1="273.3" y1="516.28" x2="275.5" y2="516.28" stroke="#231f20" stroke-width="1"/>
<text x="272.3" y="518.94" font-size="7.4" text-anchor="end">60</text>
<line x1="274.5" y1="584.5" x2="342.5" y2="584.5" stroke="#231f20" stroke-width="1"/>
<rect x="277.6" y="573.7" width="6.7" height="10.8" fill="#ffffff" stroke="#1a1a1a" stroke-width="0.6"/>
<circle cx="279.15" cy="573.5" r="1.0" fill="#fff" stroke="#1a1a1a" stroke-width="0.7"/>
<circle cx="280.95" cy="574.05" r="1.0" fill="#fff" stroke="#1a1a1a" stroke-width="0.7"/>
<circle cx="282.75" cy="573.5" r="1.0" fill="#fff" stroke="#1a1a1a" stroke-width="0.7"/>
<rect x="284.6" y="573.7" width="6.7" height="10.8" fill="#b7b2ad" stroke="#1a1a1a" stroke-width="0.6"/>
<circle cx="286.15" cy="573.5" r="1.0" fill="#fff" stroke="#1a1a1a" stroke-width="0.7"/>
<circle cx="287.95" cy="574.05" r="1.0" fill="#fff" stroke="#1a1a1a" stroke-width="0.7"/>
<circle cx="289.75" cy="573.5" r="1.0" fill="#fff" stroke="#1a1a1a" stroke-width="0.7"/>
<rect x="292" y="544.14" width="6.7" height="40.36" fill="#e8302a" stroke="#1a1a1a" stroke-width="0.6"/>
<circle cx="293.55" cy="543.94" r="1.0" fill="#fff" stroke="#1a1a1a" stroke-width="0.7"/>
<circle cx="295.35" cy="544.49" r="1.0" fill="#fff" stroke="#1a1a1a" stroke-width="0.7"/>
<circle cx="297.15" cy="543.94" r="1.0" fill="#fff" stroke="#1a1a1a" stroke-width="0.7"/>
<rect x="299" y="545.27" width="6.7" height="39.23" fill="#46438f" stroke="#1a1a1a" stroke-width="0.6"/>
<circle cx="300.55" cy="545.07" r="1.0" fill="#fff" stroke="#1a1a1a" stroke-width="0.7"/>
<circle cx="302.35" cy="545.62" r="1.0" fill="#fff" stroke="#1a1a1a" stroke-width="0.7"/>
<circle cx="304.15" cy="545.07" r="1.0" fill="#fff" stroke="#1a1a1a" stroke-width="0.7"/>
<text x="295.35" y="541.84" font-size="7.6" text-anchor="middle">*</text>
<text x="302.35" y="542.97" font-size="7.6" text-anchor="middle">*</text>
<rect x="311.2" y="571.99" width="6.7" height="12.51" fill="#ffffff" stroke="#1a1a1a" stroke-width="0.6"/>
<circle cx="312.75" cy="571.79" r="1.0" fill="#fff" stroke="#1a1a1a" stroke-width="0.7"/>
<circle cx="314.55" cy="572.34" r="1.0" fill="#fff" stroke="#1a1a1a" stroke-width="0.7"/>
<circle cx="316.35" cy="571.79" r="1.0" fill="#fff" stroke="#1a1a1a" stroke-width="0.7"/>
<rect x="318.1" y="573.13" width="6.7" height="11.37" fill="#b7b2ad" stroke="#1a1a1a" stroke-width="0.6"/>
<circle cx="319.65" cy="572.93" r="1.0" fill="#fff" stroke="#1a1a1a" stroke-width="0.7"/>
<circle cx="321.45" cy="573.48" r="1.0" fill="#fff" stroke="#1a1a1a" stroke-width="0.7"/>
<circle cx="323.25" cy="572.93" r="1.0" fill="#fff" stroke="#1a1a1a" stroke-width="0.7"/>
<rect x="325.2" y="526.51" width="6.7" height="57.99" fill="#e8302a" stroke="#1a1a1a" stroke-width="0.6"/>
<circle cx="326.75" cy="526.31" r="1.0" fill="#fff" stroke="#1a1a1a" stroke-width="0.7"/>
<circle cx="328.55" cy="526.86" r="1.0" fill="#fff" stroke="#1a1a1a" stroke-width="0.7"/>
<circle cx="330.35" cy="526.31" r="1.0" fill="#fff" stroke="#1a1a1a" stroke-width="0.7"/>
<rect x="332.2" y="528.22" width="6.7" height="56.28" fill="#46438f" stroke="#1a1a1a" stroke-width="0.6"/>
<circle cx="333.75" cy="528.02" r="1.0" fill="#fff" stroke="#1a1a1a" stroke-width="0.7"/>
<circle cx="335.55" cy="528.57" r="1.0" fill="#fff" stroke="#1a1a1a" stroke-width="0.7"/>
<circle cx="337.35" cy="528.02" r="1.0" fill="#fff" stroke="#1a1a1a" stroke-width="0.7"/>
<text x="328.55" y="524.21" font-size="7.6" text-anchor="middle">*</text>
<text x="335.55" y="525.92" font-size="7.6" text-anchor="middle">*</text>
<line x1="292" y1="584.5" x2="292" y2="586.7" stroke="#231f20" stroke-width="0.8"/>
<text x="292" y="594.4" font-size="7.4" text-anchor="middle">48</text>
<line x1="325" y1="584.5" x2="325" y2="586.7" stroke="#231f20" stroke-width="0.8"/>
<text x="325" y="594.4" font-size="7.4" text-anchor="middle">96</text>
<text x="306.3" y="602.6" font-size="7.4" text-anchor="middle">Time (h)</text>
<text x="261.8" y="549.5" font-size="7.4" text-anchor="middle" transform="rotate(-90 261.8 549.5)">% Annexin V<tspan font-size="4.6" dy="-3">+</tspan></text>
<rect x="277.9" y="508.6" width="3.9" height="3.9" fill="#ffffff" stroke="#1a1a1a" stroke-width="0.6"/>
<text x="283" y="512.8" font-size="7.4">shNT</text>
<rect x="277.9" y="516.3" width="3.9" height="3.9" fill="#b7b2ad" stroke="#1a1a1a" stroke-width="0.6"/>
<text x="283" y="520.5" font-size="7.4">sh1</text>
<rect x="277.9" y="524" width="3.9" height="3.9" fill="#e8302a" stroke="#1a1a1a" stroke-width="0.6"/>
<text x="283" y="528.2" font-size="7.4">sh2</text>
<rect x="277.9" y="531.7" width="3.9" height="3.9" fill="#46438f" stroke="#1a1a1a" stroke-width="0.6"/>
<text x="283" y="535.9" font-size="7.4">sh3</text>
<line x1="297.2" y1="515.4" x2="297.2" y2="536.9" stroke="#231f20" stroke-width="0.6"/>
<text x="298.8" y="529.4" font-size="7.4" font-style="italic">MDM2</text>
<line x1="369.5" y1="514.9" x2="369.5" y2="585" stroke="#231f20" stroke-width="1"/>
<line x1="367.3" y1="584.5" x2="369.5" y2="584.5" stroke="#231f20" stroke-width="1"/>
<text x="366.3" y="587.16" font-size="7.4" text-anchor="end">0</text>
<line x1="367.3" y1="561.58" x2="369.5" y2="561.58" stroke="#231f20" stroke-width="1"/>
<text x="366.3" y="564.24" font-size="7.4" text-anchor="end">20</text>
<line x1="367.3" y1="538.66" x2="369.5" y2="538.66" stroke="#231f20" stroke-width="1"/>
<text x="366.3" y="541.32" font-size="7.4" text-anchor="end">40</text>
<line x1="367.3" y1="515.74" x2="369.5" y2="515.74" stroke="#231f20" stroke-width="1"/>
<text x="366.3" y="518.4" font-size="7.4" text-anchor="end">60</text>
<line x1="369" y1="584.5" x2="398.8" y2="584.5" stroke="#231f20" stroke-width="1"/>
<rect x="372" y="573.61" width="6.5" height="10.89" fill="#ffffff" stroke="#1a1a1a" stroke-width="0.55"/>
<circle cx="373.45" cy="573.41" r="1.0" fill="#fff" stroke="#1a1a1a" stroke-width="0.7"/>
<circle cx="375.25" cy="573.96" r="1.0" fill="#fff" stroke="#1a1a1a" stroke-width="0.7"/>
<circle cx="377.05" cy="573.41" r="1.0" fill="#fff" stroke="#1a1a1a" stroke-width="0.7"/>
<line x1="375.25" y1="584.5" x2="375.25" y2="586.3" stroke="#231f20" stroke-width="0.6"/>
<rect x="378.6" y="573.04" width="6.5" height="11.46" fill="#b7b2ad" stroke="#1a1a1a" stroke-width="0.55"/>
<circle cx="380.05" cy="572.84" r="1.0" fill="#fff" stroke="#1a1a1a" stroke-width="0.7"/>
<circle cx="381.85" cy="573.39" r="1.0" fill="#fff" stroke="#1a1a1a" stroke-width="0.7"/>
<circle cx="383.65" cy="572.84" r="1.0" fill="#fff" stroke="#1a1a1a" stroke-width="0.7"/>
<line x1="381.85" y1="584.5" x2="381.85" y2="586.3" stroke="#231f20" stroke-width="0.6"/>
<rect x="385.4" y="527.2" width="6.5" height="57.3" fill="#e8302a" stroke="#1a1a1a" stroke-width="0.55"/>
<circle cx="386.85" cy="527" r="1.0" fill="#fff" stroke="#1a1a1a" stroke-width="0.7"/>
<circle cx="388.65" cy="527.55" r="1.0" fill="#fff" stroke="#1a1a1a" stroke-width="0.7"/>
<circle cx="390.45" cy="527" r="1.0" fill="#fff" stroke="#1a1a1a" stroke-width="0.7"/>
<line x1="388.65" y1="584.5" x2="388.65" y2="586.3" stroke="#231f20" stroke-width="0.6"/>
<rect x="392" y="526.05" width="6.5" height="58.45" fill="#46438f" stroke="#1a1a1a" stroke-width="0.55"/>
<circle cx="393.45" cy="525.85" r="1.0" fill="#fff" stroke="#1a1a1a" stroke-width="0.7"/>
<circle cx="395.25" cy="526.4" r="1.0" fill="#fff" stroke="#1a1a1a" stroke-width="0.7"/>
<circle cx="397.05" cy="525.85" r="1.0" fill="#fff" stroke="#1a1a1a" stroke-width="0.7"/>
<line x1="395.25" y1="584.5" x2="395.25" y2="586.3" stroke="#231f20" stroke-width="0.6"/>
<text x="388.65" y="524.9" font-size="7.6" text-anchor="middle">*</text>
<text x="395.25" y="523.75" font-size="7.6" text-anchor="middle">*</text>
<text x="355.4" y="551.5" font-size="7.4" text-anchor="middle" transform="rotate(-90 355.4 551.5)">% Sub-G<tspan font-size="4.6" dy="1.6">1</tspan><tspan dy="-1.6"> DNA</tspan></text>
<text x="345.4" y="595.9" font-size="7.2">shRNA:</text>
<text x="377.9" y="597.9" font-size="7.4" transform="rotate(-90 377.9 597.9)">NT</text>
<text x="382.5" y="593.2" font-size="7.4" text-anchor="middle">1</text>
<text x="389" y="593.2" font-size="7.4" text-anchor="middle">2</text>
<text x="395.5" y="593.2" font-size="7.4" text-anchor="middle">3</text>
<line x1="379.3" y1="595.1" x2="398.8" y2="595.1" stroke="#231f20" stroke-width="0.6"/>
<text x="388.8" y="603.7" font-size="7.4" text-anchor="middle" font-style="italic">MDM2</text>
<line x1="275.5" y1="609.7" x2="275.5" y2="680" stroke="#231f20" stroke-width="1"/>
<line x1="273.3" y1="679.3" x2="275.5" y2="679.3" stroke="#231f20" stroke-width="1"/>
<text x="272.3" y="681.96" font-size="7.4" text-anchor="end">0</text>
<line x1="273.3" y1="666.1" x2="275.5" y2="666.1" stroke="#231f20" stroke-width="1"/>
<text x="272.3" y="668.76" font-size="7.4" text-anchor="end">10</text>
<line x1="273.3" y1="652.9" x2="275.5" y2="652.9" stroke="#231f20" stroke-width="1"/>
<text x="272.3" y="655.56" font-size="7.4" text-anchor="end">20</text>
<line x1="273.3" y1="639.7" x2="275.5" y2="639.7" stroke="#231f20" stroke-width="1"/>
<text x="272.3" y="642.36" font-size="7.4" text-anchor="end">30</text>
<line x1="273.3" y1="626.5" x2="275.5" y2="626.5" stroke="#231f20" stroke-width="1"/>
<text x="272.3" y="629.16" font-size="7.4" text-anchor="end">40</text>
<line x1="273.3" y1="613.3" x2="275.5" y2="613.3" stroke="#231f20" stroke-width="1"/>
<text x="272.3" y="615.96" font-size="7.4" text-anchor="end">50</text>
<line x1="274.5" y1="679.5" x2="342.5" y2="679.5" stroke="#231f20" stroke-width="1"/>
<rect x="277.6" y="666.1" width="6.7" height="13.2" fill="#ffffff" stroke="#1a1a1a" stroke-width="0.6"/>
<circle cx="279.15" cy="665.9" r="1.0" fill="#fff" stroke="#1a1a1a" stroke-width="0.7"/>
<circle cx="280.95" cy="666.45" r="1.0" fill="#fff" stroke="#1a1a1a" stroke-width="0.7"/>
<circle cx="282.75" cy="665.9" r="1.0" fill="#fff" stroke="#1a1a1a" stroke-width="0.7"/>
<rect x="284.6" y="664.78" width="6.7" height="14.52" fill="#b7b2ad" stroke="#1a1a1a" stroke-width="0.6"/>
<circle cx="286.15" cy="664.58" r="1.0" fill="#fff" stroke="#1a1a1a" stroke-width="0.7"/>
<circle cx="287.95" cy="665.13" r="1.0" fill="#fff" stroke="#1a1a1a" stroke-width="0.7"/>
<circle cx="289.75" cy="664.58" r="1.0" fill="#fff" stroke="#1a1a1a" stroke-width="0.7"/>
<rect x="292" y="652.9" width="6.7" height="26.4" fill="#e8302a" stroke="#1a1a1a" stroke-width="0.6"/>
<circle cx="293.55" cy="652.7" r="1.0" fill="#fff" stroke="#1a1a1a" stroke-width="0.7"/>
<circle cx="295.35" cy="653.25" r="1.0" fill="#fff" stroke="#1a1a1a" stroke-width="0.7"/>
<circle cx="297.15" cy="652.7" r="1.0" fill="#fff" stroke="#1a1a1a" stroke-width="0.7"/>
<rect x="299" y="652.9" width="6.7" height="26.4" fill="#46438f" stroke="#1a1a1a" stroke-width="0.6"/>
<circle cx="300.55" cy="652.7" r="1.0" fill="#fff" stroke="#1a1a1a" stroke-width="0.7"/>
<circle cx="302.35" cy="653.25" r="1.0" fill="#fff" stroke="#1a1a1a" stroke-width="0.7"/>
<circle cx="304.15" cy="652.7" r="1.0" fill="#fff" stroke="#1a1a1a" stroke-width="0.7"/>
<text x="295.35" y="650.6" font-size="7.6" text-anchor="middle">*</text>
<text x="302.35" y="650.6" font-size="7.6" text-anchor="middle">*</text>
<rect x="311.2" y="663.46" width="6.7" height="15.84" fill="#ffffff" stroke="#1a1a1a" stroke-width="0.6"/>
<circle cx="312.75" cy="663.26" r="1.0" fill="#fff" stroke="#1a1a1a" stroke-width="0.7"/>
<circle cx="314.55" cy="663.81" r="1.0" fill="#fff" stroke="#1a1a1a" stroke-width="0.7"/>
<circle cx="316.35" cy="663.26" r="1.0" fill="#fff" stroke="#1a1a1a" stroke-width="0.7"/>
<rect x="318.1" y="664.78" width="6.7" height="14.52" fill="#b7b2ad" stroke="#1a1a1a" stroke-width="0.6"/>
<circle cx="319.65" cy="664.58" r="1.0" fill="#fff" stroke="#1a1a1a" stroke-width="0.7"/>
<circle cx="321.45" cy="665.13" r="1.0" fill="#fff" stroke="#1a1a1a" stroke-width="0.7"/>
<circle cx="323.25" cy="664.58" r="1.0" fill="#fff" stroke="#1a1a1a" stroke-width="0.7"/>
<rect x="325.2" y="621.88" width="6.7" height="57.42" fill="#e8302a" stroke="#1a1a1a" stroke-width="0.6"/>
<circle cx="326.75" cy="621.68" r="1.0" fill="#fff" stroke="#1a1a1a" stroke-width="0.7"/>
<circle cx="328.55" cy="622.23" r="1.0" fill="#fff" stroke="#1a1a1a" stroke-width="0.7"/>
<circle cx="330.35" cy="621.68" r="1.0" fill="#fff" stroke="#1a1a1a" stroke-width="0.7"/>
<rect x="332.2" y="623.2" width="6.7" height="56.1" fill="#46438f" stroke="#1a1a1a" stroke-width="0.6"/>
<circle cx="333.75" cy="623" r="1.0" fill="#fff" stroke="#1a1a1a" stroke-width="0.7"/>
<circle cx="335.55" cy="623.55" r="1.0" fill="#fff" stroke="#1a1a1a" stroke-width="0.7"/>
<circle cx="337.35" cy="623" r="1.0" fill="#fff" stroke="#1a1a1a" stroke-width="0.7"/>
<text x="328.55" y="619.58" font-size="7.6" text-anchor="middle">*</text>
<text x="335.55" y="620.9" font-size="7.6" text-anchor="middle">*</text>
<line x1="292" y1="679.3" x2="292" y2="681.5" stroke="#231f20" stroke-width="0.8"/>
<text x="292" y="690.2" font-size="7.4" text-anchor="middle">48</text>
<line x1="325" y1="679.3" x2="325" y2="681.5" stroke="#231f20" stroke-width="0.8"/>
<text x="325" y="690.2" font-size="7.4" text-anchor="middle">96</text>
<text x="306.3" y="698.4" font-size="7.4" text-anchor="middle">Time (h)</text>
<text x="261.8" y="649.7" font-size="7.4" text-anchor="middle" transform="rotate(-90 261.8 649.7)">% Annexin V<tspan font-size="4.6" dy="-3">+</tspan></text>
<rect x="277.9" y="614" width="3.9" height="3.9" fill="#ffffff" stroke="#1a1a1a" stroke-width="0.6"/>
<text x="283" y="618.2" font-size="7.4">shNT</text>
<rect x="277.9" y="621.4" width="3.9" height="3.9" fill="#b7b2ad" stroke="#1a1a1a" stroke-width="0.6"/>
<text x="283" y="625.6" font-size="7.4">sh1</text>
<rect x="277.9" y="628.8" width="3.9" height="3.9" fill="#e8302a" stroke="#1a1a1a" stroke-width="0.6"/>
<text x="283" y="633" font-size="7.4">sh2</text>
<rect x="277.9" y="636.2" width="3.9" height="3.9" fill="#46438f" stroke="#1a1a1a" stroke-width="0.6"/>
<text x="283" y="640.4" font-size="7.4">sh3</text>
<line x1="297.2" y1="620.8" x2="297.2" y2="641.4" stroke="#231f20" stroke-width="0.6"/>
<text x="298.8" y="634.2" font-size="7.4" font-style="italic">MDM2</text>
<line x1="369.5" y1="609.7" x2="369.5" y2="680" stroke="#231f20" stroke-width="1"/>
<line x1="367.3" y1="679.3" x2="369.5" y2="679.3" stroke="#231f20" stroke-width="1"/>
<text x="366.3" y="681.96" font-size="7.4" text-anchor="end">0</text>
<line x1="367.3" y1="657.3" x2="369.5" y2="657.3" stroke="#231f20" stroke-width="1"/>
<text x="366.3" y="659.96" font-size="7.4" text-anchor="end">20</text>
<line x1="367.3" y1="635.3" x2="369.5" y2="635.3" stroke="#231f20" stroke-width="1"/>
<text x="366.3" y="637.96" font-size="7.4" text-anchor="end">40</text>
<line x1="367.3" y1="613.3" x2="369.5" y2="613.3" stroke="#231f20" stroke-width="1"/>
<text x="366.3" y="615.96" font-size="7.4" text-anchor="end">60</text>
<line x1="369" y1="679.5" x2="398.8" y2="679.5" stroke="#231f20" stroke-width="1"/>
<rect x="372" y="673.8" width="6.5" height="5.5" fill="#ffffff" stroke="#1a1a1a" stroke-width="0.55"/>
<circle cx="373.45" cy="673.6" r="1.0" fill="#fff" stroke="#1a1a1a" stroke-width="0.7"/>
<circle cx="375.25" cy="674.15" r="1.0" fill="#fff" stroke="#1a1a1a" stroke-width="0.7"/>
<circle cx="377.05" cy="673.6" r="1.0" fill="#fff" stroke="#1a1a1a" stroke-width="0.7"/>
<line x1="375.25" y1="679.3" x2="375.25" y2="681.1" stroke="#231f20" stroke-width="0.6"/>
<rect x="378.6" y="673.25" width="6.5" height="6.05" fill="#b7b2ad" stroke="#1a1a1a" stroke-width="0.55"/>
<circle cx="380.05" cy="673.05" r="1.0" fill="#fff" stroke="#1a1a1a" stroke-width="0.7"/>
<circle cx="381.85" cy="673.6" r="1.0" fill="#fff" stroke="#1a1a1a" stroke-width="0.7"/>
<circle cx="383.65" cy="673.05" r="1.0" fill="#fff" stroke="#1a1a1a" stroke-width="0.7"/>
<line x1="381.85" y1="679.3" x2="381.85" y2="681.1" stroke="#231f20" stroke-width="0.6"/>
<rect x="385.4" y="617.7" width="6.5" height="61.6" fill="#e8302a" stroke="#1a1a1a" stroke-width="0.55"/>
<circle cx="386.85" cy="617.5" r="1.0" fill="#fff" stroke="#1a1a1a" stroke-width="0.7"/>
<circle cx="388.65" cy="618.05" r="1.0" fill="#fff" stroke="#1a1a1a" stroke-width="0.7"/>
<circle cx="390.45" cy="617.5" r="1.0" fill="#fff" stroke="#1a1a1a" stroke-width="0.7"/>
<line x1="388.65" y1="679.3" x2="388.65" y2="681.1" stroke="#231f20" stroke-width="0.6"/>
<rect x="392" y="617.7" width="6.5" height="61.6" fill="#46438f" stroke="#1a1a1a" stroke-width="0.55"/>
<circle cx="393.45" cy="617.5" r="1.0" fill="#fff" stroke="#1a1a1a" stroke-width="0.7"/>
<circle cx="395.25" cy="618.05" r="1.0" fill="#fff" stroke="#1a1a1a" stroke-width="0.7"/>
<circle cx="397.05" cy="617.5" r="1.0" fill="#fff" stroke="#1a1a1a" stroke-width="0.7"/>
<line x1="395.25" y1="679.3" x2="395.25" y2="681.1" stroke="#231f20" stroke-width="0.6"/>
<text x="388.65" y="615.4" font-size="7.6" text-anchor="middle">*</text>
<text x="395.25" y="615.4" font-size="7.6" text-anchor="middle">*</text>
<text x="355.4" y="646.3" font-size="7.4" text-anchor="middle" transform="rotate(-90 355.4 646.3)">% Sub-G<tspan font-size="4.6" dy="1.6">1</tspan><tspan dy="-1.6"> DNA</tspan></text>
<text x="345.4" y="690.7" font-size="7.2">shRNA:</text>
<text x="377.9" y="692.7" font-size="7.4" transform="rotate(-90 377.9 692.7)">NT</text>
<text x="382.5" y="688" font-size="7.4" text-anchor="middle">1</text>
<text x="389" y="688" font-size="7.4" text-anchor="middle">2</text>
<text x="395.5" y="688" font-size="7.4" text-anchor="middle">3</text>
<line x1="379.3" y1="689.9" x2="398.8" y2="689.9" stroke="#231f20" stroke-width="0.6"/>
<text x="388.8" y="698.5" font-size="7.4" text-anchor="middle" font-style="italic">MDM2</text>
</g>
<g id="panelL">
<text x="407" y="514" font-size="10" font-weight="bold" style="stroke-width:0.45px">L</text>
<clipPath id="clip1"><rect x="447.4" y="512.4" width="56" height="58.8"/></clipPath>
<g clip-path="url(#clip1)">
<line x1="447.4" y1="563.4" x2="503.4" y2="520.7" stroke="#8f887e" stroke-width="0.9"/>
<circle cx="474.5" cy="541.71" r="0.6" fill="#f2a23a" opacity="0.4"/>
<circle cx="475.46" cy="542.62" r="0.6" fill="#f2a23a" opacity="0.4"/>
<circle cx="473.86" cy="543.89" r="0.6" fill="#f2a23a" opacity="0.4"/>
<circle cx="477.5" cy="539.11" r="0.6" fill="#f2a23a" opacity="0.4"/>
<circle cx="477.53" cy="539.46" r="0.6" fill="#f2a23a" opacity="0.4"/>
<circle cx="476.24" cy="540.8" r="0.6" fill="#f2a23a" opacity="0.4"/>
<circle cx="471.13" cy="544.09" r="0.6" fill="#f2a23a" opacity="0.4"/>
<circle cx="476.13" cy="540.22" r="0.6" fill="#f2a23a" opacity="0.4"/>
<circle cx="473.91" cy="547.18" r="0.6" fill="#f2a23a" opacity="0.4"/>
<circle cx="474.22" cy="544.11" r="0.6" fill="#f2a23a" opacity="0.4"/>
<circle cx="476.3" cy="541.25" r="0.6" fill="#f2a23a" opacity="0.4"/>
<circle cx="477.41" cy="541.52" r="0.6" fill="#f2a23a" opacity="0.4"/>
<circle cx="475.83" cy="540.73" r="0.6" fill="#f2a23a" opacity="0.4"/>
<circle cx="472.32" cy="541.1" r="0.6" fill="#f2a23a" opacity="0.4"/>
<circle cx="475.48" cy="539.3" r="0.6" fill="#f2a23a" opacity="0.4"/>
<circle cx="475.09" cy="543.89" r="0.6" fill="#f2a23a" opacity="0.4"/>
<circle cx="474.99" cy="542.6" r="0.6" fill="#f2a23a" opacity="0.4"/>
<circle cx="476.67" cy="540.26" r="0.6" fill="#f2a23a" opacity="0.4"/>
<circle cx="475.69" cy="543.8" r="0.6" fill="#f2a23a" opacity="0.4"/>
<circle cx="473.16" cy="541.4" r="0.6" fill="#f2a23a" opacity="0.4"/>
<circle cx="473.62" cy="543.11" r="0.6" fill="#f2a23a" opacity="0.4"/>
<circle cx="478.13" cy="542.7" r="0.6" fill="#f2a23a" opacity="0.4"/>
<circle cx="474.28" cy="540.17" r="0.6" fill="#f2a23a" opacity="0.4"/>
<circle cx="471.68" cy="546.16" r="0.6" fill="#f2a23a" opacity="0.4"/>
<circle cx="476.27" cy="542.97" r="0.6" fill="#f2a23a" opacity="0.4"/>
<circle cx="476.72" cy="540.89" r="0.6" fill="#f2a23a" opacity="0.4"/>
<circle cx="471.59" cy="543.73" r="0.6" fill="#f2a23a" opacity="0.4"/>
<circle cx="475.99" cy="539.37" r="0.6" fill="#f2a23a" opacity="0.4"/>
<circle cx="478.26" cy="538.53" r="0.6" fill="#f2a23a" opacity="0.4"/>
<circle cx="477.27" cy="543.09" r="0.6" fill="#f2a23a" opacity="0.4"/>
<circle cx="477.57" cy="541.3" r="0.6" fill="#f2a23a" opacity="0.4"/>
<circle cx="476.02" cy="544.18" r="0.6" fill="#f2a23a" opacity="0.4"/>
<circle cx="474.13" cy="544.33" r="0.6" fill="#f2a23a" opacity="0.4"/>
<circle cx="480.55" cy="541.63" r="0.6" fill="#f2a23a" opacity="0.4"/>
<circle cx="472.25" cy="544.4" r="0.6" fill="#f2a23a" opacity="0.4"/>
<circle cx="478.03" cy="538.27" r="0.6" fill="#f2a23a" opacity="0.4"/>
<circle cx="474.31" cy="548.5" r="0.6" fill="#f2a23a" opacity="0.4"/>
<circle cx="477.16" cy="541.96" r="0.6" fill="#f2a23a" opacity="0.4"/>
<circle cx="472.16" cy="542.87" r="0.6" fill="#f2a23a" opacity="0.4"/>
<circle cx="477.77" cy="539.44" r="0.6" fill="#f2a23a" opacity="0.4"/>
<circle cx="475.65" cy="540.81" r="0.6" fill="#f2a23a" opacity="0.4"/>
<circle cx="478.31" cy="537.92" r="0.6" fill="#f2a23a" opacity="0.4"/>
<circle cx="476.1" cy="540.13" r="0.6" fill="#f2a23a" opacity="0.4"/>
<circle cx="470.87" cy="543.4" r="0.6" fill="#f2a23a" opacity="0.4"/>
<circle cx="477.05" cy="539.29" r="0.6" fill="#f2a23a" opacity="0.4"/>
<circle cx="472.1" cy="546.44" r="0.6" fill="#f2a23a" opacity="0.4"/>
<circle cx="479.36" cy="542.26" r="0.6" fill="#f2a23a" opacity="0.4"/>
<circle cx="474.1" cy="540.97" r="0.6" fill="#f2a23a" opacity="0.4"/>
<circle cx="471.06" cy="542.51" r="0.6" fill="#f2a23a" opacity="0.4"/>
<circle cx="476.93" cy="540.88" r="0.6" fill="#f2a23a" opacity="0.4"/>
<circle cx="475.58" cy="540.4" r="0.6" fill="#f2a23a" opacity="0.4"/>
<circle cx="474.61" cy="540.22" r="0.6" fill="#f2a23a" opacity="0.4"/>
<circle cx="474.65" cy="543.59" r="0.6" fill="#f2a23a" opacity="0.4"/>
<circle cx="477.78" cy="539.71" r="0.6" fill="#f2a23a" opacity="0.4"/>
<circle cx="472.7" cy="542.43" r="0.6" fill="#f2a23a" opacity="0.4"/>
<circle cx="479.19" cy="539.42" r="0.6" fill="#f2a23a" opacity="0.4"/>
<circle cx="472.82" cy="544.69" r="0.6" fill="#f2a23a" opacity="0.4"/>
<circle cx="475.61" cy="542.44" r="0.6" fill="#f2a23a" opacity="0.4"/>
<circle cx="479.7" cy="540.23" r="0.6" fill="#f2a23a" opacity="0.4"/>
<circle cx="479.66" cy="540.79" r="0.6" fill="#f2a23a" opacity="0.4"/>
<circle cx="473.24" cy="542.62" r="0.6" fill="#f2a23a" opacity="0.4"/>
<circle cx="477.06" cy="538.56" r="0.6" fill="#f2a23a" opacity="0.4"/>
<circle cx="476.18" cy="540.95" r="0.6" fill="#f2a23a" opacity="0.4"/>
<circle cx="475.3" cy="540.83" r="0.6" fill="#f2a23a" opacity="0.4"/>
<circle cx="474.92" cy="541.82" r="0.6" fill="#f2a23a" opacity="0.4"/>
<circle cx="476.81" cy="540.67" r="0.6" fill="#f2a23a" opacity="0.4"/>
<circle cx="476.6" cy="539.63" r="0.6" fill="#f2a23a" opacity="0.4"/>
<circle cx="479.51" cy="537.45" r="0.6" fill="#f2a23a" opacity="0.4"/>
<circle cx="475.1" cy="543.08" r="0.6" fill="#f2a23a" opacity="0.4"/>
<circle cx="474.56" cy="540.74" r="0.6" fill="#f2a23a" opacity="0.4"/>
<circle cx="474.47" cy="542.01" r="0.6" fill="#f2a23a" opacity="0.4"/>
<circle cx="482.3" cy="541.17" r="0.6" fill="#f2a23a" opacity="0.4"/>
<circle cx="472.95" cy="543.74" r="0.6" fill="#f2a23a" opacity="0.4"/>
<circle cx="476.19" cy="540.73" r="0.6" fill="#f2a23a" opacity="0.4"/>
<circle cx="473.97" cy="541.89" r="0.6" fill="#f2a23a" opacity="0.4"/>
<circle cx="476.77" cy="541.85" r="0.6" fill="#f2a23a" opacity="0.4"/>
<circle cx="480.37" cy="536.58" r="0.6" fill="#f2a23a" opacity="0.4"/>
<circle cx="474.53" cy="543.01" r="0.6" fill="#f2a23a" opacity="0.4"/>
<circle cx="475.19" cy="542.32" r="0.6" fill="#f2a23a" opacity="0.4"/>
<circle cx="470.34" cy="547.76" r="0.6" fill="#f2a23a" opacity="0.4"/>
<circle cx="479.01" cy="541.17" r="0.6" fill="#f2a23a" opacity="0.4"/>
<circle cx="474.42" cy="540.82" r="0.6" fill="#f2a23a" opacity="0.4"/>
<circle cx="475.79" cy="538.36" r="0.6" fill="#f2a23a" opacity="0.4"/>
<circle cx="472.38" cy="545.58" r="0.6" fill="#f2a23a" opacity="0.4"/>
<circle cx="474.2" cy="541.74" r="0.6" fill="#f2a23a" opacity="0.4"/>
<circle cx="480.84" cy="542.78" r="0.6" fill="#f2a23a" opacity="0.4"/>
<circle cx="479.49" cy="541.34" r="0.6" fill="#f2a23a" opacity="0.4"/>
<circle cx="478.68" cy="542.2" r="0.6" fill="#f2a23a" opacity="0.4"/>
<circle cx="474.67" cy="540.05" r="0.6" fill="#f2a23a" opacity="0.4"/>
<circle cx="475.07" cy="541.87" r="0.6" fill="#f2a23a" opacity="0.4"/>
<circle cx="477.14" cy="540.06" r="0.6" fill="#f2a23a" opacity="0.4"/>
<circle cx="473.74" cy="540.18" r="0.6" fill="#f2a23a" opacity="0.4"/>
<circle cx="478.15" cy="540.07" r="0.6" fill="#f2a23a" opacity="0.4"/>
<circle cx="482.68" cy="537.72" r="0.6" fill="#f2a23a" opacity="0.4"/>
<circle cx="477.83" cy="540.3" r="0.6" fill="#f2a23a" opacity="0.4"/>
<circle cx="475.11" cy="540.71" r="0.6" fill="#f2a23a" opacity="0.4"/>
<circle cx="475.38" cy="540.61" r="0.6" fill="#f2a23a" opacity="0.4"/>
<circle cx="474.01" cy="546.59" r="0.6" fill="#f2a23a" opacity="0.4"/>
<circle cx="477.96" cy="541.71" r="0.6" fill="#f2a23a" opacity="0.4"/>
<circle cx="475.02" cy="545.55" r="0.6" fill="#f2a23a" opacity="0.4"/>
<circle cx="477.47" cy="538.42" r="0.6" fill="#f2a23a" opacity="0.4"/>
<circle cx="479.75" cy="539.99" r="0.6" fill="#f2a23a" opacity="0.4"/>
<circle cx="476.85" cy="543.13" r="0.6" fill="#f2a23a" opacity="0.4"/>
<circle cx="475.49" cy="538.42" r="0.6" fill="#f2a23a" opacity="0.4"/>
<circle cx="472.01" cy="541.73" r="0.6" fill="#f2a23a" opacity="0.4"/>
<circle cx="477.89" cy="540.06" r="0.6" fill="#f2a23a" opacity="0.4"/>
<circle cx="469.88" cy="544.05" r="0.6" fill="#f2a23a" opacity="0.4"/>
<circle cx="476.05" cy="542.7" r="0.6" fill="#f2a23a" opacity="0.4"/>
<circle cx="476" cy="540.53" r="0.6" fill="#f2a23a" opacity="0.4"/>
<circle cx="479.89" cy="540.03" r="0.6" fill="#f2a23a" opacity="0.4"/>
<circle cx="476.39" cy="537.81" r="0.6" fill="#f2a23a" opacity="0.4"/>
<circle cx="478.88" cy="539.14" r="0.6" fill="#f2a23a" opacity="0.4"/>
<circle cx="472.91" cy="542.08" r="0.6" fill="#f2a23a" opacity="0.4"/>
<circle cx="475.71" cy="541.43" r="0.6" fill="#f2a23a" opacity="0.4"/>
<circle cx="478.91" cy="539.29" r="0.6" fill="#f2a23a" opacity="0.4"/>
<circle cx="471.15" cy="546.79" r="0.6" fill="#f2a23a" opacity="0.4"/>
<circle cx="470.77" cy="544.51" r="0.6" fill="#f2a23a" opacity="0.4"/>
<circle cx="476.94" cy="541.89" r="0.6" fill="#f2a23a" opacity="0.4"/>
<circle cx="474.67" cy="540.84" r="0.6" fill="#f2a23a" opacity="0.4"/>
<circle cx="474.32" cy="540.09" r="0.6" fill="#f2a23a" opacity="0.4"/>
<circle cx="474.34" cy="540.7" r="0.6" fill="#f2a23a" opacity="0.4"/>
<circle cx="477.01" cy="536.97" r="0.6" fill="#f2a23a" opacity="0.4"/>
<circle cx="473.21" cy="542.1" r="0.6" fill="#f2a23a" opacity="0.4"/>
<circle cx="472.8" cy="546.78" r="0.6" fill="#f2a23a" opacity="0.4"/>
<circle cx="470.27" cy="544.43" r="0.6" fill="#f2a23a" opacity="0.4"/>
<circle cx="473" cy="544.25" r="0.6" fill="#f2a23a" opacity="0.4"/>
<circle cx="475.22" cy="542.21" r="0.6" fill="#f2a23a" opacity="0.4"/>
<circle cx="474.09" cy="542.7" r="0.6" fill="#f2a23a" opacity="0.4"/>
<circle cx="479.35" cy="538.21" r="0.6" fill="#f2a23a" opacity="0.4"/>
<circle cx="475.64" cy="539.58" r="0.6" fill="#f2a23a" opacity="0.4"/>
<circle cx="476.55" cy="543.67" r="0.6" fill="#f2a23a" opacity="0.4"/>
<circle cx="473.25" cy="541.64" r="0.6" fill="#f2a23a" opacity="0.4"/>
<circle cx="472.76" cy="545.75" r="0.6" fill="#f2a23a" opacity="0.4"/>
<circle cx="476.87" cy="538.88" r="0.6" fill="#f2a23a" opacity="0.4"/>
<circle cx="474.74" cy="540.84" r="0.6" fill="#f2a23a" opacity="0.4"/>
<circle cx="477.24" cy="542.85" r="0.6" fill="#f2a23a" opacity="0.4"/>
<circle cx="472.98" cy="545.64" r="0.6" fill="#f2a23a" opacity="0.4"/>
<circle cx="478.17" cy="540.64" r="0.6" fill="#f2a23a" opacity="0.4"/>
<circle cx="474.53" cy="544.49" r="0.6" fill="#f2a23a" opacity="0.4"/>
<circle cx="472.48" cy="544.97" r="0.6" fill="#f2a23a" opacity="0.4"/>
<circle cx="472.7" cy="543.71" r="0.6" fill="#f2a23a" opacity="0.4"/>
<circle cx="470.23" cy="546.08" r="0.6" fill="#f2a23a" opacity="0.4"/>
<circle cx="476.36" cy="545.34" r="0.6" fill="#f2a23a" opacity="0.4"/>
<circle cx="477.44" cy="540.69" r="0.6" fill="#f2a23a" opacity="0.4"/>
<circle cx="471.82" cy="547.23" r="0.6" fill="#f2a23a" opacity="0.4"/>
<circle cx="476.72" cy="541.76" r="0.6" fill="#f2a23a" opacity="0.4"/>
<circle cx="476.44" cy="539.38" r="0.6" fill="#f2a23a" opacity="0.4"/>
<circle cx="476.66" cy="540.1" r="0.6" fill="#f2a23a" opacity="0.4"/>
<circle cx="477.71" cy="538.39" r="0.6" fill="#f2a23a" opacity="0.4"/>
<circle cx="478.83" cy="543.35" r="0.6" fill="#f2a23a" opacity="0.4"/>
<ellipse cx="475.6" cy="541.8" rx="3.62" ry="1.92" fill="#e98d22" opacity="0.85" filter="url(#bl)" transform="rotate(-42.97 475.6 541.8)"/>
</g>
<rect x="447.4" y="512.4" width="56" height="58.8" fill="none" stroke="#2a2626" stroke-width="0.8"/>
<line x1="445.4" y1="515" x2="447.4" y2="515" stroke="#231f20" stroke-width="0.7"/>
<text x="444.6" y="517.6" font-size="7.4" text-anchor="end">20</text>
<line x1="445.4" y1="528.5" x2="447.4" y2="528.5" stroke="#231f20" stroke-width="0.7"/>
<text x="444.6" y="531.1" font-size="7.4" text-anchor="end">10</text>
<line x1="445.4" y1="542" x2="447.4" y2="542" stroke="#231f20" stroke-width="0.7"/>
<text x="444.6" y="544.6" font-size="7.4" text-anchor="end">0</text>
<line x1="445.4" y1="555.4" x2="447.4" y2="555.4" stroke="#231f20" stroke-width="0.7"/>
<text x="444.6" y="558" font-size="7.4" text-anchor="end">−10</text>
<line x1="445.4" y1="569" x2="447.4" y2="569" stroke="#231f20" stroke-width="0.7"/>
<text x="444.6" y="571.6" font-size="7.4" text-anchor="end">−20</text>
<line x1="449.2" y1="571.2" x2="449.2" y2="573.2" stroke="#231f20" stroke-width="0.7"/>
<text x="448" y="580.5" font-size="7.4" text-anchor="middle">−20</text>
<line x1="462.3" y1="571.2" x2="462.3" y2="573.2" stroke="#231f20" stroke-width="0.7"/>
<text x="461.1" y="580.5" font-size="7.4" text-anchor="middle">−10</text>
<line x1="475.5" y1="571.2" x2="475.5" y2="573.2" stroke="#231f20" stroke-width="0.7"/>
<text x="475.5" y="580.5" font-size="7.4" text-anchor="middle">0</text>
<line x1="488.8" y1="571.2" x2="488.8" y2="573.2" stroke="#231f20" stroke-width="0.7"/>
<text x="488.8" y="580.5" font-size="7.4" text-anchor="middle">10</text>
<line x1="501.2" y1="571.2" x2="501.2" y2="573.2" stroke="#231f20" stroke-width="0.7"/>
<text x="501.2" y="580.5" font-size="7.4" text-anchor="middle">20</text>
<text x="475.5" y="588.2" font-size="7.4" text-anchor="middle">Log<tspan font-size="4.6" dx="0.3" dy="1.6">2</tspan><tspan dy="-1.6"> fold change</tspan></text>
<text x="475.5" y="597.2" font-size="7.4" text-anchor="middle">(sh<tspan font-style="italic">MDM2</tspan>)</text>
<text x="422.6" y="541.8" font-size="7.4" text-anchor="middle" transform="rotate(-90 422.6 541.8)">Log<tspan font-size="4.6" dx="0.3" dy="1.6">2</tspan><tspan dy="-1.6"> fold change</tspan></text>
<text x="431" y="541.8" font-size="7.4" text-anchor="middle" transform="rotate(-90 431 541.8)">(PROTAC)</text>
<text x="450.4" y="521" font-size="7.4"><tspan font-style="italic">ρ</tspan> = 0.756</text>
<text x="500.4" y="568.4" font-size="7.4" text-anchor="end"><tspan font-style="italic">P</tspan> = 0</text>
<line x1="508.5" y1="512" x2="508.5" y2="594" stroke="#231f20" stroke-width="0.6"/>
<text x="517.4" y="553.5" font-size="7.4" text-anchor="middle" transform="rotate(-90 517.4 553.5)">MDA-MB-231</text>
<clipPath id="clip2"><rect x="447.4" y="612.4" width="56" height="57.2"/></clipPath>
<g clip-path="url(#clip2)">
<line x1="447.4" y1="663.8" x2="503.4" y2="617.2" stroke="#8f887e" stroke-width="0.9"/>
<circle cx="476.74" cy="636.09" r="0.6" fill="#f2a23a" opacity="0.4"/>
<circle cx="475" cy="641.88" r="0.6" fill="#f2a23a" opacity="0.4"/>
<circle cx="483.76" cy="637.28" r="0.6" fill="#f2a23a" opacity="0.4"/>
<circle cx="474.04" cy="635.79" r="0.6" fill="#f2a23a" opacity="0.4"/>
<circle cx="471.58" cy="642.1" r="0.6" fill="#f2a23a" opacity="0.4"/>
<circle cx="481.64" cy="635.21" r="0.6" fill="#f2a23a" opacity="0.4"/>
<circle cx="476.14" cy="637.59" r="0.6" fill="#f2a23a" opacity="0.4"/>
<circle cx="472.58" cy="643.09" r="0.6" fill="#f2a23a" opacity="0.4"/>
<circle cx="475.37" cy="638.45" r="0.6" fill="#f2a23a" opacity="0.4"/>
<circle cx="475.52" cy="640.76" r="0.6" fill="#f2a23a" opacity="0.4"/>
<circle cx="472.54" cy="643.77" r="0.6" fill="#f2a23a" opacity="0.4"/>
<circle cx="478.16" cy="637.73" r="0.6" fill="#f2a23a" opacity="0.4"/>
<circle cx="473.64" cy="643.96" r="0.6" fill="#f2a23a" opacity="0.4"/>
<circle cx="482.67" cy="631.3" r="0.6" fill="#f2a23a" opacity="0.4"/>
<circle cx="480.54" cy="642.1" r="0.6" fill="#f2a23a" opacity="0.4"/>
<circle cx="476.84" cy="637.99" r="0.6" fill="#f2a23a" opacity="0.4"/>
<circle cx="480.34" cy="635.05" r="0.6" fill="#f2a23a" opacity="0.4"/>
<circle cx="474.56" cy="639.88" r="0.6" fill="#f2a23a" opacity="0.4"/>
<circle cx="467.89" cy="644.51" r="0.6" fill="#f2a23a" opacity="0.4"/>
<circle cx="477.28" cy="640.43" r="0.6" fill="#f2a23a" opacity="0.4"/>
<circle cx="477.54" cy="634.19" r="0.6" fill="#f2a23a" opacity="0.4"/>
<circle cx="471.66" cy="645.28" r="0.6" fill="#f2a23a" opacity="0.4"/>
<circle cx="476.12" cy="639.33" r="0.6" fill="#f2a23a" opacity="0.4"/>
<circle cx="475.27" cy="642.85" r="0.6" fill="#f2a23a" opacity="0.4"/>
<circle cx="481.02" cy="632.98" r="0.6" fill="#f2a23a" opacity="0.4"/>
<circle cx="473.14" cy="645.61" r="0.6" fill="#f2a23a" opacity="0.4"/>
<circle cx="479.73" cy="634.23" r="0.6" fill="#f2a23a" opacity="0.4"/>
<circle cx="480.33" cy="634.14" r="0.6" fill="#f2a23a" opacity="0.4"/>
<circle cx="472.27" cy="642.52" r="0.6" fill="#f2a23a" opacity="0.4"/>
<circle cx="469.3" cy="647.54" r="0.6" fill="#f2a23a" opacity="0.4"/>
<circle cx="474.59" cy="639.86" r="0.6" fill="#f2a23a" opacity="0.4"/>
<circle cx="473.2" cy="642.63" r="0.6" fill="#f2a23a" opacity="0.4"/>
<circle cx="476.44" cy="638.59" r="0.6" fill="#f2a23a" opacity="0.4"/>
<circle cx="477.21" cy="638.31" r="0.6" fill="#f2a23a" opacity="0.4"/>
<circle cx="473.42" cy="640.25" r="0.6" fill="#f2a23a" opacity="0.4"/>
<circle cx="476.54" cy="641.38" r="0.6" fill="#f2a23a" opacity="0.4"/>
<circle cx="473.38" cy="642.18" r="0.6" fill="#f2a23a" opacity="0.4"/>
<circle cx="474.86" cy="640.5" r="0.6" fill="#f2a23a" opacity="0.4"/>
<circle cx="475.19" cy="640.16" r="0.6" fill="#f2a23a" opacity="0.4"/>
<circle cx="476.46" cy="642.48" r="0.6" fill="#f2a23a" opacity="0.4"/>
<circle cx="475.51" cy="637.78" r="0.6" fill="#f2a23a" opacity="0.4"/>
<circle cx="477.03" cy="639.42" r="0.6" fill="#f2a23a" opacity="0.4"/>
<circle cx="477.99" cy="640.44" r="0.6" fill="#f2a23a" opacity="0.4"/>
<circle cx="469.2" cy="645.7" r="0.6" fill="#f2a23a" opacity="0.4"/>
<circle cx="471.51" cy="642.04" r="0.6" fill="#f2a23a" opacity="0.4"/>
<circle cx="475.02" cy="647.03" r="0.6" fill="#f2a23a" opacity="0.4"/>
<circle cx="470.17" cy="641.21" r="0.6" fill="#f2a23a" opacity="0.4"/>
<circle cx="475.79" cy="643.34" r="0.6" fill="#f2a23a" opacity="0.4"/>
<circle cx="472.31" cy="641.86" r="0.6" fill="#f2a23a" opacity="0.4"/>
<circle cx="476.8" cy="638.75" r="0.6" fill="#f2a23a" opacity="0.4"/>
<circle cx="479.36" cy="635.24" r="0.6" fill="#f2a23a" opacity="0.4"/>
<circle cx="474.62" cy="639.65" r="0.6" fill="#f2a23a" opacity="0.4"/>
<circle cx="479.6" cy="634.39" r="0.6" fill="#f2a23a" opacity="0.4"/>
<circle cx="479.99" cy="638.96" r="0.6" fill="#f2a23a" opacity="0.4"/>
<circle cx="474.05" cy="639.83" r="0.6" fill="#f2a23a" opacity="0.4"/>
<circle cx="473.17" cy="639.79" r="0.6" fill="#f2a23a" opacity="0.4"/>
<circle cx="476.25" cy="637.48" r="0.6" fill="#f2a23a" opacity="0.4"/>
<circle cx="471.69" cy="637.56" r="0.6" fill="#f2a23a" opacity="0.4"/>
<circle cx="479.66" cy="637.18" r="0.6" fill="#f2a23a" opacity="0.4"/>
<circle cx="472.61" cy="636.63" r="0.6" fill="#f2a23a" opacity="0.4"/>
<circle cx="473.25" cy="640.19" r="0.6" fill="#f2a23a" opacity="0.4"/>
<circle cx="478.56" cy="637.61" r="0.6" fill="#f2a23a" opacity="0.4"/>
<circle cx="471.4" cy="643.46" r="0.6" fill="#f2a23a" opacity="0.4"/>
<circle cx="475.22" cy="637.85" r="0.6" fill="#f2a23a" opacity="0.4"/>
<circle cx="477.9" cy="638.15" r="0.6" fill="#f2a23a" opacity="0.4"/>
<circle cx="477.52" cy="637.25" r="0.6" fill="#f2a23a" opacity="0.4"/>
<circle cx="476" cy="639.74" r="0.6" fill="#f2a23a" opacity="0.4"/>
<circle cx="473.8" cy="640.16" r="0.6" fill="#f2a23a" opacity="0.4"/>
<circle cx="472.74" cy="644.24" r="0.6" fill="#f2a23a" opacity="0.4"/>
<circle cx="477.15" cy="642.37" r="0.6" fill="#f2a23a" opacity="0.4"/>
<circle cx="476.38" cy="644.35" r="0.6" fill="#f2a23a" opacity="0.4"/>
<circle cx="472.52" cy="641.57" r="0.6" fill="#f2a23a" opacity="0.4"/>
<circle cx="477.3" cy="638.87" r="0.6" fill="#f2a23a" opacity="0.4"/>
<circle cx="476.33" cy="642.98" r="0.6" fill="#f2a23a" opacity="0.4"/>
<circle cx="480.7" cy="634.52" r="0.6" fill="#f2a23a" opacity="0.4"/>
<circle cx="479.98" cy="638.49" r="0.6" fill="#f2a23a" opacity="0.4"/>
<circle cx="476.96" cy="643.39" r="0.6" fill="#f2a23a" opacity="0.4"/>
<circle cx="476.81" cy="636.92" r="0.6" fill="#f2a23a" opacity="0.4"/>
<circle cx="469.33" cy="645.85" r="0.6" fill="#f2a23a" opacity="0.4"/>
<circle cx="479.53" cy="641" r="0.6" fill="#f2a23a" opacity="0.4"/>
<circle cx="470.76" cy="647.02" r="0.6" fill="#f2a23a" opacity="0.4"/>
<circle cx="475.03" cy="644.08" r="0.6" fill="#f2a23a" opacity="0.4"/>
<circle cx="475.21" cy="639.97" r="0.6" fill="#f2a23a" opacity="0.4"/>
<circle cx="476.62" cy="637.65" r="0.6" fill="#f2a23a" opacity="0.4"/>
<circle cx="478.88" cy="634.56" r="0.6" fill="#f2a23a" opacity="0.4"/>
<circle cx="471.76" cy="644.8" r="0.6" fill="#f2a23a" opacity="0.4"/>
<circle cx="473.25" cy="644.86" r="0.6" fill="#f2a23a" opacity="0.4"/>
<circle cx="475.13" cy="640.62" r="0.6" fill="#f2a23a" opacity="0.4"/>
<circle cx="478.87" cy="641.16" r="0.6" fill="#f2a23a" opacity="0.4"/>
<circle cx="471.43" cy="643.94" r="0.6" fill="#f2a23a" opacity="0.4"/>
<circle cx="475.12" cy="641.39" r="0.6" fill="#f2a23a" opacity="0.4"/>
<circle cx="476.1" cy="641.61" r="0.6" fill="#f2a23a" opacity="0.4"/>
<circle cx="477.25" cy="637.93" r="0.6" fill="#f2a23a" opacity="0.4"/>
<circle cx="475.91" cy="641.56" r="0.6" fill="#f2a23a" opacity="0.4"/>
<circle cx="478.07" cy="644.58" r="0.6" fill="#f2a23a" opacity="0.4"/>
<circle cx="472.18" cy="643.13" r="0.6" fill="#f2a23a" opacity="0.4"/>
<circle cx="470.3" cy="644.39" r="0.6" fill="#f2a23a" opacity="0.4"/>
<circle cx="477.51" cy="641.85" r="0.6" fill="#f2a23a" opacity="0.4"/>
<circle cx="474.96" cy="641.54" r="0.6" fill="#f2a23a" opacity="0.4"/>
<circle cx="476.16" cy="638.27" r="0.6" fill="#f2a23a" opacity="0.4"/>
<circle cx="476.29" cy="641.65" r="0.6" fill="#f2a23a" opacity="0.4"/>
<circle cx="475.01" cy="640.9" r="0.6" fill="#f2a23a" opacity="0.4"/>
<circle cx="477.43" cy="637.92" r="0.6" fill="#f2a23a" opacity="0.4"/>
<circle cx="474.67" cy="644.28" r="0.6" fill="#f2a23a" opacity="0.4"/>
<circle cx="475.07" cy="642.46" r="0.6" fill="#f2a23a" opacity="0.4"/>
<circle cx="471.94" cy="643.71" r="0.6" fill="#f2a23a" opacity="0.4"/>
<circle cx="473.69" cy="641.65" r="0.6" fill="#f2a23a" opacity="0.4"/>
<circle cx="477.58" cy="639.48" r="0.6" fill="#f2a23a" opacity="0.4"/>
<circle cx="483.3" cy="634.24" r="0.6" fill="#f2a23a" opacity="0.4"/>
<circle cx="478.82" cy="637.11" r="0.6" fill="#f2a23a" opacity="0.4"/>
<circle cx="481.83" cy="640.45" r="0.6" fill="#f2a23a" opacity="0.4"/>
<circle cx="472.68" cy="642.2" r="0.6" fill="#f2a23a" opacity="0.4"/>
<circle cx="474.57" cy="635.53" r="0.6" fill="#f2a23a" opacity="0.4"/>
<circle cx="474.92" cy="637.75" r="0.6" fill="#f2a23a" opacity="0.4"/>
<circle cx="476.75" cy="636.94" r="0.6" fill="#f2a23a" opacity="0.4"/>
<circle cx="477.23" cy="639.16" r="0.6" fill="#f2a23a" opacity="0.4"/>
<circle cx="478.33" cy="640.42" r="0.6" fill="#f2a23a" opacity="0.4"/>
<circle cx="480.43" cy="638.43" r="0.6" fill="#f2a23a" opacity="0.4"/>
<circle cx="473.69" cy="636.82" r="0.6" fill="#f2a23a" opacity="0.4"/>
<circle cx="474.65" cy="641.01" r="0.6" fill="#f2a23a" opacity="0.4"/>
<circle cx="479.13" cy="637.07" r="0.6" fill="#f2a23a" opacity="0.4"/>
<circle cx="472.48" cy="642.34" r="0.6" fill="#f2a23a" opacity="0.4"/>
<circle cx="476.44" cy="637.79" r="0.6" fill="#f2a23a" opacity="0.4"/>
<circle cx="470.82" cy="640.22" r="0.6" fill="#f2a23a" opacity="0.4"/>
<circle cx="480.77" cy="635.65" r="0.6" fill="#f2a23a" opacity="0.4"/>
<circle cx="476.78" cy="640.22" r="0.6" fill="#f2a23a" opacity="0.4"/>
<circle cx="480.81" cy="637.34" r="0.6" fill="#f2a23a" opacity="0.4"/>
<circle cx="478.15" cy="639.14" r="0.6" fill="#f2a23a" opacity="0.4"/>
<circle cx="472.3" cy="641.4" r="0.6" fill="#f2a23a" opacity="0.4"/>
<circle cx="479.72" cy="636.63" r="0.6" fill="#f2a23a" opacity="0.4"/>
<circle cx="472.25" cy="641.22" r="0.6" fill="#f2a23a" opacity="0.4"/>
<circle cx="474.87" cy="640.12" r="0.6" fill="#f2a23a" opacity="0.4"/>
<circle cx="478.98" cy="634.55" r="0.6" fill="#f2a23a" opacity="0.4"/>
<circle cx="471.01" cy="638.78" r="0.6" fill="#f2a23a" opacity="0.4"/>
<circle cx="474.48" cy="639.33" r="0.6" fill="#f2a23a" opacity="0.4"/>
<circle cx="473.36" cy="642.3" r="0.6" fill="#f2a23a" opacity="0.4"/>
<circle cx="467.62" cy="642.94" r="0.6" fill="#f2a23a" opacity="0.4"/>
<circle cx="481.26" cy="638.17" r="0.6" fill="#f2a23a" opacity="0.4"/>
<circle cx="472.46" cy="646.86" r="0.6" fill="#f2a23a" opacity="0.4"/>
<circle cx="479.75" cy="637.69" r="0.6" fill="#f2a23a" opacity="0.4"/>
<circle cx="475.58" cy="640.99" r="0.6" fill="#f2a23a" opacity="0.4"/>
<circle cx="476.3" cy="642.22" r="0.6" fill="#f2a23a" opacity="0.4"/>
<circle cx="477.18" cy="642.28" r="0.6" fill="#f2a23a" opacity="0.4"/>
<circle cx="474.8" cy="640.18" r="0.6" fill="#f2a23a" opacity="0.4"/>
<circle cx="477.19" cy="639.39" r="0.6" fill="#f2a23a" opacity="0.4"/>
<circle cx="472.29" cy="642.75" r="0.6" fill="#f2a23a" opacity="0.4"/>
<circle cx="471.97" cy="639.66" r="0.6" fill="#f2a23a" opacity="0.4"/>
<circle cx="478.02" cy="638.38" r="0.6" fill="#f2a23a" opacity="0.4"/>
<circle cx="474.71" cy="642.69" r="0.6" fill="#f2a23a" opacity="0.4"/>
<circle cx="472.79" cy="643.53" r="0.6" fill="#f2a23a" opacity="0.4"/>
<circle cx="475.74" cy="638.87" r="0.6" fill="#f2a23a" opacity="0.4"/>
<circle cx="474.75" cy="635.95" r="0.6" fill="#f2a23a" opacity="0.4"/>
<circle cx="473.11" cy="642.38" r="0.6" fill="#f2a23a" opacity="0.4"/>
<circle cx="486.65" cy="635" r="0.6" fill="#f2a23a" opacity="0.4"/>
<circle cx="473.51" cy="641.65" r="0.6" fill="#f2a23a" opacity="0.4"/>
<circle cx="475.42" cy="639.41" r="0.6" fill="#f2a23a" opacity="0.4"/>
<circle cx="474.19" cy="640.58" r="0.6" fill="#f2a23a" opacity="0.4"/>
<circle cx="474.66" cy="639.21" r="0.6" fill="#f2a23a" opacity="0.4"/>
<circle cx="470.33" cy="646.96" r="0.6" fill="#f2a23a" opacity="0.4"/>
<circle cx="476.62" cy="641.8" r="0.6" fill="#f2a23a" opacity="0.4"/>
<circle cx="471.28" cy="642.51" r="0.6" fill="#f2a23a" opacity="0.4"/>
<circle cx="472.55" cy="641.38" r="0.6" fill="#f2a23a" opacity="0.4"/>
<circle cx="477.45" cy="637.87" r="0.6" fill="#f2a23a" opacity="0.4"/>
<circle cx="477.17" cy="639.1" r="0.6" fill="#f2a23a" opacity="0.4"/>
<circle cx="470.88" cy="644.44" r="0.6" fill="#f2a23a" opacity="0.4"/>
<circle cx="477.5" cy="639.83" r="0.6" fill="#f2a23a" opacity="0.4"/>
<circle cx="474.19" cy="639.67" r="0.6" fill="#f2a23a" opacity="0.4"/>
<circle cx="471.8" cy="642.02" r="0.6" fill="#f2a23a" opacity="0.4"/>
<circle cx="482.08" cy="635.87" r="0.6" fill="#f2a23a" opacity="0.4"/>
<circle cx="476.05" cy="640.19" r="0.6" fill="#f2a23a" opacity="0.4"/>
<circle cx="480" cy="635.6" r="0.6" fill="#f2a23a" opacity="0.4"/>
<circle cx="479.12" cy="638.79" r="0.6" fill="#f2a23a" opacity="0.4"/>
<circle cx="475.36" cy="640.46" r="0.6" fill="#f2a23a" opacity="0.4"/>
<circle cx="467.95" cy="643.49" r="0.6" fill="#f2a23a" opacity="0.4"/>
<circle cx="480.38" cy="640.22" r="0.6" fill="#f2a23a" opacity="0.4"/>
<circle cx="477.96" cy="638.47" r="0.6" fill="#f2a23a" opacity="0.4"/>
<circle cx="476.41" cy="638.63" r="0.6" fill="#f2a23a" opacity="0.4"/>
<circle cx="470.81" cy="644.94" r="0.6" fill="#f2a23a" opacity="0.4"/>
<circle cx="480.91" cy="636.95" r="0.6" fill="#f2a23a" opacity="0.4"/>
<circle cx="473.71" cy="645.14" r="0.6" fill="#f2a23a" opacity="0.4"/>
<circle cx="471.05" cy="643.41" r="0.6" fill="#f2a23a" opacity="0.4"/>
<circle cx="480.36" cy="635.02" r="0.6" fill="#f2a23a" opacity="0.4"/>
<circle cx="473.54" cy="636.68" r="0.6" fill="#f2a23a" opacity="0.4"/>
<circle cx="474.52" cy="642.78" r="0.6" fill="#f2a23a" opacity="0.4"/>
<circle cx="476.46" cy="638.16" r="0.6" fill="#f2a23a" opacity="0.4"/>
<circle cx="473.51" cy="644.86" r="0.6" fill="#f2a23a" opacity="0.4"/>
<circle cx="476.05" cy="639.24" r="0.6" fill="#f2a23a" opacity="0.4"/>
<circle cx="471.42" cy="644.38" r="0.6" fill="#f2a23a" opacity="0.4"/>
<circle cx="473.1" cy="641.32" r="0.6" fill="#f2a23a" opacity="0.4"/>
<circle cx="475.12" cy="640.85" r="0.6" fill="#f2a23a" opacity="0.4"/>
<circle cx="473.01" cy="639.98" r="0.6" fill="#f2a23a" opacity="0.4"/>
<circle cx="480.33" cy="636.95" r="0.6" fill="#f2a23a" opacity="0.4"/>
<circle cx="479.03" cy="639.03" r="0.6" fill="#f2a23a" opacity="0.4"/>
<circle cx="474.74" cy="639.18" r="0.6" fill="#f2a23a" opacity="0.4"/>
<circle cx="480.75" cy="636.62" r="0.6" fill="#f2a23a" opacity="0.4"/>
<circle cx="474.93" cy="640.34" r="0.6" fill="#f2a23a" opacity="0.4"/>
<circle cx="470.54" cy="644.63" r="0.6" fill="#f2a23a" opacity="0.4"/>
<circle cx="472.77" cy="641.81" r="0.6" fill="#f2a23a" opacity="0.4"/>
<circle cx="474.09" cy="646.28" r="0.6" fill="#f2a23a" opacity="0.4"/>
<circle cx="475.21" cy="639.94" r="0.6" fill="#f2a23a" opacity="0.4"/>
<circle cx="472.57" cy="640.75" r="0.6" fill="#f2a23a" opacity="0.4"/>
<circle cx="475.24" cy="641.99" r="0.6" fill="#f2a23a" opacity="0.4"/>
<circle cx="478.81" cy="641.17" r="0.6" fill="#f2a23a" opacity="0.4"/>
<circle cx="473.23" cy="642.35" r="0.6" fill="#f2a23a" opacity="0.4"/>
<circle cx="478.34" cy="638.21" r="0.6" fill="#f2a23a" opacity="0.4"/>
<circle cx="477.18" cy="640.41" r="0.6" fill="#f2a23a" opacity="0.4"/>
<circle cx="474.4" cy="637.29" r="0.6" fill="#f2a23a" opacity="0.4"/>
<circle cx="470.37" cy="639.14" r="0.6" fill="#f2a23a" opacity="0.4"/>
<circle cx="473.3" cy="642.2" r="0.6" fill="#f2a23a" opacity="0.4"/>
<circle cx="474.74" cy="638.52" r="0.6" fill="#f2a23a" opacity="0.4"/>
<circle cx="473.89" cy="646.75" r="0.6" fill="#f2a23a" opacity="0.4"/>
<circle cx="476.41" cy="637.61" r="0.6" fill="#f2a23a" opacity="0.4"/>
<circle cx="474.29" cy="635.07" r="0.6" fill="#f2a23a" opacity="0.4"/>
<circle cx="475.76" cy="639.48" r="0.6" fill="#f2a23a" opacity="0.4"/>
<circle cx="477.97" cy="637.27" r="0.6" fill="#f2a23a" opacity="0.4"/>
<circle cx="482.25" cy="637.36" r="0.6" fill="#f2a23a" opacity="0.4"/>
<circle cx="478.27" cy="646.13" r="0.6" fill="#f2a23a" opacity="0.4"/>
<circle cx="478.47" cy="638.6" r="0.6" fill="#f2a23a" opacity="0.4"/>
<circle cx="475.83" cy="634.87" r="0.6" fill="#f2a23a" opacity="0.4"/>
<circle cx="475.68" cy="640.76" r="0.6" fill="#f2a23a" opacity="0.4"/>
<circle cx="474.78" cy="642.95" r="0.6" fill="#f2a23a" opacity="0.4"/>
<circle cx="472.6" cy="641.32" r="0.6" fill="#f2a23a" opacity="0.4"/>
<circle cx="475.44" cy="640.21" r="0.6" fill="#f2a23a" opacity="0.4"/>
<circle cx="473.75" cy="639.65" r="0.6" fill="#f2a23a" opacity="0.4"/>
<circle cx="477.17" cy="639.19" r="0.6" fill="#f2a23a" opacity="0.4"/>
<circle cx="477.73" cy="638.72" r="0.6" fill="#f2a23a" opacity="0.4"/>
<circle cx="469.95" cy="641.7" r="0.6" fill="#f2a23a" opacity="0.4"/>
<circle cx="478.04" cy="640.38" r="0.6" fill="#f2a23a" opacity="0.4"/>
<circle cx="478.48" cy="636.87" r="0.6" fill="#f2a23a" opacity="0.4"/>
<circle cx="468.43" cy="642.66" r="0.6" fill="#f2a23a" opacity="0.4"/>
<ellipse cx="475.4" cy="640.4" rx="5.38" ry="2.16" fill="#e98d22" opacity="0.85" filter="url(#bl)" transform="rotate(-41.25 475.4 640.4)"/>
</g>
<rect x="447.4" y="612.4" width="56" height="57.2" fill="none" stroke="#2a2626" stroke-width="0.8"/>
<line x1="445.4" y1="618.2" x2="447.4" y2="618.2" stroke="#231f20" stroke-width="0.7"/>
<text x="444.6" y="620.8" font-size="7.4" text-anchor="end">10</text>
<line x1="445.4" y1="629.4" x2="447.4" y2="629.4" stroke="#231f20" stroke-width="0.7"/>
<text x="444.6" y="632" font-size="7.4" text-anchor="end">5</text>
<line x1="445.4" y1="640.7" x2="447.4" y2="640.7" stroke="#231f20" stroke-width="0.7"/>
<text x="444.6" y="643.3" font-size="7.4" text-anchor="end">0</text>
<line x1="445.4" y1="652" x2="447.4" y2="652" stroke="#231f20" stroke-width="0.7"/>
<text x="444.6" y="654.6" font-size="7.4" text-anchor="end">−5</text>
<line x1="445.4" y1="663.3" x2="447.4" y2="663.3" stroke="#231f20" stroke-width="0.7"/>
<text x="444.6" y="665.9" font-size="7.4" text-anchor="end">−10</text>
<line x1="453" y1="669.6" x2="453" y2="671.6" stroke="#231f20" stroke-width="0.7"/>
<text x="451.8" y="678.9" font-size="7.4" text-anchor="middle">−10</text>
<line x1="464.1" y1="669.6" x2="464.1" y2="671.6" stroke="#231f20" stroke-width="0.7"/>
<text x="462.9" y="678.9" font-size="7.4" text-anchor="middle">−5</text>
<line x1="475.2" y1="669.6" x2="475.2" y2="671.6" stroke="#231f20" stroke-width="0.7"/>
<text x="475.2" y="678.9" font-size="7.4" text-anchor="middle">0</text>
<line x1="486.3" y1="669.6" x2="486.3" y2="671.6" stroke="#231f20" stroke-width="0.7"/>
<text x="486.3" y="678.9" font-size="7.4" text-anchor="middle">5</text>
<line x1="497.4" y1="669.6" x2="497.4" y2="671.6" stroke="#231f20" stroke-width="0.7"/>
<text x="497.4" y="678.9" font-size="7.4" text-anchor="middle">10</text>
<text x="475.5" y="686.6" font-size="7.4" text-anchor="middle">Log<tspan font-size="4.6" dx="0.3" dy="1.6">2</tspan><tspan dy="-1.6"> fold change</tspan></text>
<text x="475.5" y="695.6" font-size="7.4" text-anchor="middle">(sh<tspan font-style="italic">MDM2</tspan>)</text>
<text x="422.6" y="641" font-size="7.4" text-anchor="middle" transform="rotate(-90 422.6 641)">Log<tspan font-size="4.6" dx="0.3" dy="1.6">2</tspan><tspan dy="-1.6"> fold change</tspan></text>
<text x="431" y="641" font-size="7.4" text-anchor="middle" transform="rotate(-90 431 641)">(PROTAC)</text>
<text x="450.4" y="621" font-size="7.4"><tspan font-style="italic">ρ</tspan> = 0.836</text>
<text x="500.4" y="666.8" font-size="7.4" text-anchor="end"><tspan font-style="italic">P</tspan> = 0</text>
<line x1="508.5" y1="612" x2="508.5" y2="691.5" stroke="#231f20" stroke-width="0.6"/>
<text x="517.4" y="652.3" font-size="7.4" text-anchor="middle" transform="rotate(-90 517.4 652.3)">MDA-MB-436</text>
</g>
</svg>
</body>
</html>
